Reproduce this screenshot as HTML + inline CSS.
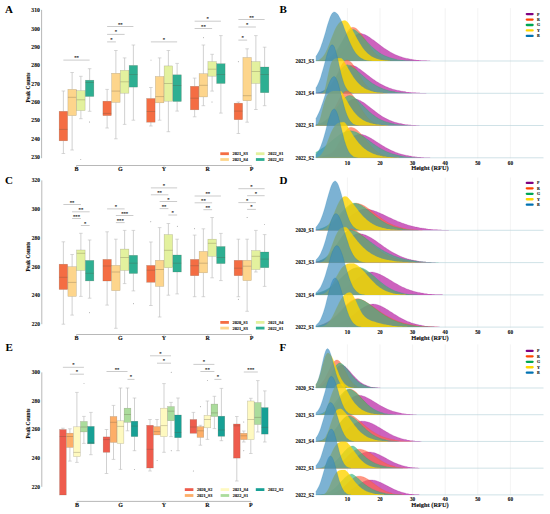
<!DOCTYPE html><html><head><meta charset="utf-8"><style>html,body{margin:0;padding:0;background:#fff;}svg{display:block;}</style></head><body>
<svg width="550" height="514" viewBox="0 0 550 514" font-family='"Liberation Serif", serif'>
<rect width="550" height="514" fill="#fff"/>
<line x1="347.40" y1="8.20" x2="347.40" y2="158.30" stroke="#ebebeb" stroke-width="0.6"/>
<line x1="380.00" y1="8.20" x2="380.00" y2="158.30" stroke="#ebebeb" stroke-width="0.6"/>
<line x1="412.60" y1="8.20" x2="412.60" y2="158.30" stroke="#ebebeb" stroke-width="0.6"/>
<line x1="445.20" y1="8.20" x2="445.20" y2="158.30" stroke="#ebebeb" stroke-width="0.6"/>
<line x1="477.80" y1="8.20" x2="477.80" y2="158.30" stroke="#ebebeb" stroke-width="0.6"/>
<line x1="510.40" y1="8.20" x2="510.40" y2="158.30" stroke="#ebebeb" stroke-width="0.6"/>
<text x="314.00" y="62.80" font-size="5.2" text-anchor="end" font-weight="bold" fill="#111" stroke="#111" stroke-width="0.12" >2021_S3</text>
<line x1="315.78" y1="61.00" x2="543.50" y2="61.00" stroke="#bcd6dd" stroke-width="0.7"/>
<path d="M315.8,61.0L315.8,60.9 316.8,60.9 317.7,60.9 318.7,60.8 319.7,60.8 320.7,60.7 321.6,60.7 322.6,60.6 323.6,60.5 324.6,60.4 325.6,60.2 326.5,60.1 327.5,59.9 328.5,59.6 329.5,59.4 330.4,59.0 331.4,58.7 332.4,58.3 333.4,57.8 334.4,57.3 335.3,56.7 336.3,56.0 337.3,55.3 338.3,54.5 339.2,53.7 340.2,52.7 341.2,51.7 342.2,50.7 343.2,49.6 344.1,48.4 345.1,47.2 346.1,46.0 347.1,44.7 348.1,43.5 349.0,42.2 350.0,41.0 351.0,39.9 352.0,38.7 352.9,37.7 353.9,36.7 354.9,35.9 355.9,35.1 356.9,34.5 357.8,34.0 358.8,33.7 359.8,33.5 360.8,33.5 361.7,33.6 362.7,33.9 363.7,34.2 364.7,34.6 365.7,35.0 366.6,35.5 367.6,36.1 368.6,36.7 369.6,37.3 370.5,38.0 371.5,38.7 372.5,39.4 373.5,40.1 374.5,40.8 375.4,41.6 376.4,42.3 377.4,43.1 378.4,43.8 379.3,44.6 380.3,45.3 381.3,46.0 382.3,46.8 383.3,47.5 384.2,48.2 385.2,48.8 386.2,49.5 387.2,50.1 388.2,50.7 389.1,51.3 390.1,51.9 391.1,52.5 392.1,53.0 393.0,53.5 394.0,54.0 395.0,54.5 396.0,54.9 397.0,55.3 397.9,55.7 398.9,56.1 399.9,56.4 400.9,56.8 401.8,57.1 402.8,57.4 403.8,57.7 404.8,57.9 405.8,58.2 406.7,58.4 407.7,58.6 408.7,58.8 409.7,59.0 410.6,59.2 411.6,59.3 412.6,59.5 413.6,59.6 414.6,59.7 415.5,59.8 416.5,60.0 417.5,60.1 418.5,60.1 419.4,60.2 420.4,60.3 421.4,60.4 422.4,60.4 423.4,60.5 424.3,60.5 425.3,60.6 426.3,60.6 427.3,60.7 428.2,60.7 429.2,60.7 430.2,60.8 430.2,61.0Z" fill="#B4159E" fill-opacity="0.67"/>
<path d="M329.5,59.4 330.4,59.0 331.4,58.7 332.4,58.3 333.4,57.8 334.4,57.3 335.3,56.7 336.3,56.0 337.3,55.3 338.3,54.5 339.2,53.7 340.2,52.7 341.2,51.7 342.2,50.7 343.2,49.6 344.1,48.4 345.1,47.2 346.1,46.0 347.1,44.7 348.1,43.5 349.0,42.2 350.0,41.0 351.0,39.9 352.0,38.7 352.9,37.7 353.9,36.7 354.9,35.9 355.9,35.1 356.9,34.5 357.8,34.0 358.8,33.7 359.8,33.5 360.8,33.5 361.7,33.6 362.7,33.9 363.7,34.2 364.7,34.6 365.7,35.0 366.6,35.5 367.6,36.1 368.6,36.7 369.6,37.3 370.5,38.0 371.5,38.7 372.5,39.4 373.5,40.1 374.5,40.8 375.4,41.6 376.4,42.3 377.4,43.1 378.4,43.8 379.3,44.6 380.3,45.3 381.3,46.0 382.3,46.8 383.3,47.5 384.2,48.2 385.2,48.8 386.2,49.5 387.2,50.1 388.2,50.7 389.1,51.3 390.1,51.9 391.1,52.5 392.1,53.0 393.0,53.5 394.0,54.0 395.0,54.5 396.0,54.9 397.0,55.3 397.9,55.7 398.9,56.1 399.9,56.4 400.9,56.8 401.8,57.1 402.8,57.4 403.8,57.7 404.8,57.9 405.8,58.2 406.7,58.4 407.7,58.6 408.7,58.8 409.7,59.0 410.6,59.2 411.6,59.3 412.6,59.5" fill="none" stroke="#800080" stroke-width="0.3" stroke-opacity="0.55"/>
<path d="M315.8,61.0L315.8,61.0 316.8,61.0 317.7,60.9 318.7,60.9 319.7,60.9 320.7,60.8 321.6,60.8 322.6,60.7 323.6,60.6 324.6,60.4 325.6,60.3 326.5,60.0 327.5,59.7 328.5,59.4 329.5,59.0 330.4,58.4 331.4,57.8 332.4,57.0 333.4,56.1 334.4,55.1 335.3,53.9 336.3,52.6 337.3,51.1 338.3,49.5 339.2,47.8 340.2,45.9 341.2,43.9 342.2,41.9 343.2,39.9 344.1,37.9 345.1,35.9 346.1,34.0 347.1,32.3 348.1,30.8 349.0,29.5 350.0,28.5 351.0,27.8 352.0,27.4 352.9,27.3 353.9,27.5 354.9,27.8 355.9,28.3 356.9,29.0 357.8,29.9 358.8,30.9 359.8,32.0 360.8,33.3 361.7,34.6 362.7,36.0 363.7,37.5 364.7,39.0 365.7,40.6 366.6,42.1 367.6,43.6 368.6,45.1 369.6,46.5 370.5,47.9 371.5,49.2 372.5,50.5 373.5,51.6 374.5,52.7 375.4,53.7 376.4,54.6 377.4,55.5 378.4,56.2 379.3,56.9 380.3,57.5 381.3,58.0 382.3,58.5 383.3,58.9 384.2,59.2 385.2,59.5 386.2,59.8 387.2,60.0 388.2,60.2 389.1,60.3 390.1,60.5 391.1,60.6 392.1,60.7 393.0,60.7 394.0,60.8 394.0,61.0Z" fill="#FF6347" fill-opacity="0.67"/>
<path d="M328.5,59.4 329.5,59.0 330.4,58.4 331.4,57.8 332.4,57.0 333.4,56.1 334.4,55.1 335.3,53.9 336.3,52.6 337.3,51.1 338.3,49.5 339.2,47.8 340.2,45.9 341.2,43.9 342.2,41.9 343.2,39.9 344.1,37.9 345.1,35.9 346.1,34.0 347.1,32.3 348.1,30.8 349.0,29.5 350.0,28.5 351.0,27.8 352.0,27.4 352.9,27.3 353.9,27.5 354.9,27.8 355.9,28.3 356.9,29.0 357.8,29.9 358.8,30.9 359.8,32.0 360.8,33.3 361.7,34.6 362.7,36.0 363.7,37.5 364.7,39.0 365.7,40.6 366.6,42.1 367.6,43.6 368.6,45.1 369.6,46.5 370.5,47.9 371.5,49.2 372.5,50.5 373.5,51.6 374.5,52.7 375.4,53.7 376.4,54.6 377.4,55.5 378.4,56.2 379.3,56.9 380.3,57.5 381.3,58.0 382.3,58.5 383.3,58.9 384.2,59.2" fill="none" stroke="#FF4500" stroke-width="0.3" stroke-opacity="0.55"/>
<path d="M315.8,61.0L315.8,60.9 316.8,60.8 317.7,60.8 318.7,60.7 319.7,60.6 320.7,60.5 321.6,60.3 322.6,60.1 323.6,59.9 324.6,59.7 325.6,59.3 326.5,59.0 327.5,58.5 328.5,58.0 329.5,57.4 330.4,56.7 331.4,56.0 332.4,55.1 333.4,54.1 334.4,53.0 335.3,51.8 336.3,50.6 337.3,49.2 338.3,47.7 339.2,46.2 340.2,44.6 341.2,43.0 342.2,41.3 343.2,39.7 344.1,38.1 345.1,36.6 346.1,35.1 347.1,33.8 348.1,32.6 349.0,31.6 350.0,30.8 351.0,30.1 352.0,29.7 352.9,29.5 353.9,29.6 354.9,30.1 355.9,30.7 356.9,31.4 357.8,32.2 358.8,33.1 359.8,34.0 360.8,35.0 361.7,36.1 362.7,37.1 363.7,38.2 364.7,39.2 365.7,40.3 366.6,41.4 367.6,42.4 368.6,43.4 369.6,44.4 370.5,45.4 371.5,46.4 372.5,47.3 373.5,48.2 374.5,49.0 375.4,49.8 376.4,50.6 377.4,51.3 378.4,52.0 379.3,52.7 380.3,53.3 381.3,53.9 382.3,54.5 383.3,55.0 384.2,55.5 385.2,55.9 386.2,56.3 387.2,56.7 388.2,57.1 389.1,57.5 390.1,57.8 391.1,58.1 392.1,58.3 393.0,58.6 394.0,58.8 395.0,59.0 396.0,59.2 397.0,59.4 397.9,59.5 398.9,59.7 399.9,59.8 400.9,59.9 401.8,60.0 402.8,60.1 403.8,60.2 404.8,60.3 405.8,60.4 406.7,60.5 407.7,60.5 408.7,60.6 409.7,60.6 410.6,60.7 411.6,60.7 412.6,60.7 413.6,60.8 413.6,61.0Z" fill="#37B482" fill-opacity="0.67"/>
<path d="M325.6,59.3 326.5,59.0 327.5,58.5 328.5,58.0 329.5,57.4 330.4,56.7 331.4,56.0 332.4,55.1 333.4,54.1 334.4,53.0 335.3,51.8 336.3,50.6 337.3,49.2 338.3,47.7 339.2,46.2 340.2,44.6 341.2,43.0 342.2,41.3 343.2,39.7 344.1,38.1 345.1,36.6 346.1,35.1 347.1,33.8 348.1,32.6 349.0,31.6 350.0,30.8 351.0,30.1 352.0,29.7 352.9,29.5 353.9,29.6 354.9,30.1 355.9,30.7 356.9,31.4 357.8,32.2 358.8,33.1 359.8,34.0 360.8,35.0 361.7,36.1 362.7,37.1 363.7,38.2 364.7,39.2 365.7,40.3 366.6,41.4 367.6,42.4 368.6,43.4 369.6,44.4 370.5,45.4 371.5,46.4 372.5,47.3 373.5,48.2 374.5,49.0 375.4,49.8 376.4,50.6 377.4,51.3 378.4,52.0 379.3,52.7 380.3,53.3 381.3,53.9 382.3,54.5 383.3,55.0 384.2,55.5 385.2,55.9 386.2,56.3 387.2,56.7 388.2,57.1 389.1,57.5 390.1,57.8 391.1,58.1 392.1,58.3 393.0,58.6 394.0,58.8 395.0,59.0 396.0,59.2 397.0,59.4" fill="none" stroke="#00A651" stroke-width="0.3" stroke-opacity="0.55"/>
<path d="M315.8,61.0L315.8,60.7 316.8,60.5 317.7,60.2 318.7,59.9 319.7,59.4 320.7,58.7 321.6,57.9 322.6,56.9 323.6,55.7 324.6,54.2 325.6,52.5 326.5,50.5 327.5,48.4 328.5,46.1 329.5,43.6 330.4,41.0 331.4,38.5 332.4,35.9 333.4,33.4 334.4,31.1 335.3,29.0 336.3,27.1 337.3,25.4 338.3,24.0 339.2,22.9 340.2,22.0 341.2,21.4 342.2,21.0 343.2,20.7 344.1,20.6 345.1,20.6 346.1,20.9 347.1,21.7 348.1,22.8 349.0,24.1 350.0,25.7 351.0,27.4 352.0,29.1 352.9,31.0 353.9,32.8 354.9,34.7 355.9,36.6 356.9,38.4 357.8,40.1 358.8,41.8 359.8,43.5 360.8,45.0 361.7,46.5 362.7,47.9 363.7,49.2 364.7,50.4 365.7,51.5 366.6,52.5 367.6,53.4 368.6,54.3 369.6,55.1 370.5,55.8 371.5,56.4 372.5,57.0 373.5,57.5 374.5,57.9 375.4,58.3 376.4,58.7 377.4,59.0 378.4,59.3 379.3,59.5 380.3,59.7 381.3,59.9 382.3,60.1 383.3,60.2 384.2,60.3 385.2,60.4 386.2,60.5 387.2,60.6 388.2,60.7 389.1,60.7 390.1,60.8 390.1,61.0Z" fill="#FFD400" fill-opacity="0.8"/>
<path d="M319.7,59.4 320.7,58.7 321.6,57.9 322.6,56.9 323.6,55.7 324.6,54.2 325.6,52.5 326.5,50.5 327.5,48.4 328.5,46.1 329.5,43.6 330.4,41.0 331.4,38.5 332.4,35.9 333.4,33.4 334.4,31.1 335.3,29.0 336.3,27.1 337.3,25.4 338.3,24.0 339.2,22.9 340.2,22.0 341.2,21.4 342.2,21.0 343.2,20.7 344.1,20.6 345.1,20.6 346.1,20.9 347.1,21.7 348.1,22.8 349.0,24.1 350.0,25.7 351.0,27.4 352.0,29.1 352.9,31.0 353.9,32.8 354.9,34.7 355.9,36.6 356.9,38.4 357.8,40.1 358.8,41.8 359.8,43.5 360.8,45.0 361.7,46.5 362.7,47.9 363.7,49.2 364.7,50.4 365.7,51.5 366.6,52.5 367.6,53.4 368.6,54.3 369.6,55.1 370.5,55.8 371.5,56.4 372.5,57.0 373.5,57.5 374.5,57.9 375.4,58.3 376.4,58.7 377.4,59.0 378.4,59.3" fill="none" stroke="#FFD700" stroke-width="0.3" stroke-opacity="0.55"/>
<path d="M315.8,61.0L315.8,56.4 316.8,55.1 317.7,53.6 318.7,51.8 319.7,49.7 320.7,47.3 321.6,44.6 322.6,41.7 323.6,38.6 324.6,35.3 325.6,31.9 326.5,28.4 327.5,25.1 328.5,21.9 329.5,19.1 330.4,16.6 331.4,14.5 332.4,13.1 333.4,12.2 334.4,12.0 335.3,12.3 336.3,12.9 337.3,13.8 338.3,15.1 339.2,16.7 340.2,18.6 341.2,20.6 342.2,22.9 343.2,25.3 344.1,27.9 345.1,30.4 346.1,33.0 347.1,35.6 348.1,38.1 349.0,40.5 350.0,42.8 351.0,44.9 352.0,46.9 352.9,48.8 353.9,50.5 354.9,52.0 355.9,53.4 356.9,54.6 357.8,55.6 358.8,56.5 359.8,57.3 360.8,58.0 361.7,58.6 362.7,59.0 363.7,59.4 364.7,59.8 365.7,60.0 366.6,60.2 367.6,60.4 368.6,60.5 369.6,60.7 370.5,60.7 371.5,60.8 371.5,61.0Z" fill="#3C8CBE" fill-opacity="0.67"/>
<path d="M315.8,56.4 316.8,55.1 317.7,53.6 318.7,51.8 319.7,49.7 320.7,47.3 321.6,44.6 322.6,41.7 323.6,38.6 324.6,35.3 325.6,31.9 326.5,28.4 327.5,25.1 328.5,21.9 329.5,19.1 330.4,16.6 331.4,14.5 332.4,13.1 333.4,12.2 334.4,12.0 335.3,12.3 336.3,12.9 337.3,13.8 338.3,15.1 339.2,16.7 340.2,18.6 341.2,20.6 342.2,22.9 343.2,25.3 344.1,27.9 345.1,30.4 346.1,33.0 347.1,35.6 348.1,38.1 349.0,40.5 350.0,42.8 351.0,44.9 352.0,46.9 352.9,48.8 353.9,50.5 354.9,52.0 355.9,53.4 356.9,54.6 357.8,55.6 358.8,56.5 359.8,57.3 360.8,58.0 361.7,58.6 362.7,59.0 363.7,59.4" fill="none" stroke="#0072B2" stroke-width="0.3" stroke-opacity="0.55"/>
<text x="314.00" y="95.10" font-size="5.2" text-anchor="end" font-weight="bold" fill="#111" stroke="#111" stroke-width="0.12" >2021_S4</text>
<line x1="315.78" y1="93.30" x2="543.50" y2="93.30" stroke="#bcd6dd" stroke-width="0.7"/>
<path d="M315.8,93.3L315.8,92.7 316.8,92.6 317.7,92.5 318.7,92.3 319.7,92.1 320.7,91.8 321.6,91.5 322.6,91.2 323.6,90.8 324.6,90.4 325.6,89.9 326.5,89.3 327.5,88.7 328.5,88.0 329.5,87.2 330.4,86.4 331.4,85.5 332.4,84.5 333.4,83.5 334.4,82.4 335.3,81.3 336.3,80.1 337.3,78.8 338.3,77.6 339.2,76.3 340.2,75.0 341.2,73.8 342.2,72.6 343.2,71.4 344.1,70.3 345.1,69.2 346.1,68.3 347.1,67.5 348.1,66.7 349.0,66.2 350.0,65.7 351.0,65.4 352.0,65.3 352.9,65.4 353.9,65.7 354.9,66.1 355.9,66.6 356.9,67.1 357.8,67.7 358.8,68.4 359.8,69.0 360.8,69.8 361.7,70.5 362.7,71.2 363.7,72.0 364.7,72.8 365.7,73.5 366.6,74.3 367.6,75.1 368.6,75.8 369.6,76.6 370.5,77.3 371.5,78.0 372.5,78.7 373.5,79.4 374.5,80.1 375.4,80.8 376.4,81.4 377.4,82.0 378.4,82.6 379.3,83.2 380.3,83.8 381.3,84.3 382.3,84.8 383.3,85.3 384.2,85.8 385.2,86.3 386.2,86.7 387.2,87.1 388.2,87.5 389.1,87.9 390.1,88.2 391.1,88.6 392.1,88.9 393.0,89.2 394.0,89.4 395.0,89.7 396.0,90.0 397.0,90.2 397.9,90.4 398.9,90.6 399.9,90.8 400.9,91.0 401.8,91.2 402.8,91.3 403.8,91.5 404.8,91.6 405.8,91.8 406.7,91.9 407.7,92.0 408.7,92.1 409.7,92.2 410.6,92.3 411.6,92.4 412.6,92.4 413.6,92.5 414.6,92.6 415.5,92.6 416.5,92.7 417.5,92.7 418.5,92.8 419.4,92.8 420.4,92.9 421.4,92.9 422.4,93.0 423.4,93.0 424.3,93.0 425.3,93.0 426.3,93.1 426.3,93.3Z" fill="#B4159E" fill-opacity="0.67"/>
<path d="M321.6,91.5 322.6,91.2 323.6,90.8 324.6,90.4 325.6,89.9 326.5,89.3 327.5,88.7 328.5,88.0 329.5,87.2 330.4,86.4 331.4,85.5 332.4,84.5 333.4,83.5 334.4,82.4 335.3,81.3 336.3,80.1 337.3,78.8 338.3,77.6 339.2,76.3 340.2,75.0 341.2,73.8 342.2,72.6 343.2,71.4 344.1,70.3 345.1,69.2 346.1,68.3 347.1,67.5 348.1,66.7 349.0,66.2 350.0,65.7 351.0,65.4 352.0,65.3 352.9,65.4 353.9,65.7 354.9,66.1 355.9,66.6 356.9,67.1 357.8,67.7 358.8,68.4 359.8,69.0 360.8,69.8 361.7,70.5 362.7,71.2 363.7,72.0 364.7,72.8 365.7,73.5 366.6,74.3 367.6,75.1 368.6,75.8 369.6,76.6 370.5,77.3 371.5,78.0 372.5,78.7 373.5,79.4 374.5,80.1 375.4,80.8 376.4,81.4 377.4,82.0 378.4,82.6 379.3,83.2 380.3,83.8 381.3,84.3 382.3,84.8 383.3,85.3 384.2,85.8 385.2,86.3 386.2,86.7 387.2,87.1 388.2,87.5 389.1,87.9 390.1,88.2 391.1,88.6 392.1,88.9 393.0,89.2 394.0,89.4 395.0,89.7 396.0,90.0 397.0,90.2 397.9,90.4 398.9,90.6 399.9,90.8 400.9,91.0 401.8,91.2 402.8,91.3 403.8,91.5 404.8,91.6 405.8,91.8" fill="none" stroke="#800080" stroke-width="0.3" stroke-opacity="0.55"/>
<path d="M315.8,93.3L315.8,93.2 316.8,93.2 317.7,93.1 318.7,93.0 319.7,92.9 320.7,92.8 321.6,92.6 322.6,92.3 323.6,92.0 324.6,91.6 325.6,91.1 326.5,90.5 327.5,89.7 328.5,88.9 329.5,87.8 330.4,86.6 331.4,85.3 332.4,83.7 333.4,82.1 334.4,80.2 335.3,78.2 336.3,76.2 337.3,74.0 338.3,71.9 339.2,69.7 340.2,67.7 341.2,65.8 342.2,64.1 343.2,62.7 344.1,61.5 345.1,60.7 346.1,60.2 347.1,60.1 348.1,60.3 349.0,60.7 350.0,61.4 351.0,62.2 352.0,63.3 352.9,64.6 353.9,66.0 354.9,67.5 355.9,69.1 356.9,70.8 357.8,72.5 358.8,74.2 359.8,75.9 360.8,77.6 361.7,79.2 362.7,80.7 363.7,82.2 364.7,83.6 365.7,84.8 366.6,86.0 367.6,87.0 368.6,87.9 369.6,88.8 370.5,89.5 371.5,90.1 372.5,90.7 373.5,91.1 374.5,91.5 375.4,91.9 376.4,92.2 377.4,92.4 378.4,92.6 379.3,92.7 380.3,92.9 381.3,93.0 382.3,93.0 383.3,93.1 383.3,93.3Z" fill="#FF6347" fill-opacity="0.67"/>
<path d="M324.6,91.6 325.6,91.1 326.5,90.5 327.5,89.7 328.5,88.9 329.5,87.8 330.4,86.6 331.4,85.3 332.4,83.7 333.4,82.1 334.4,80.2 335.3,78.2 336.3,76.2 337.3,74.0 338.3,71.9 339.2,69.7 340.2,67.7 341.2,65.8 342.2,64.1 343.2,62.7 344.1,61.5 345.1,60.7 346.1,60.2 347.1,60.1 348.1,60.3 349.0,60.7 350.0,61.4 351.0,62.2 352.0,63.3 352.9,64.6 353.9,66.0 354.9,67.5 355.9,69.1 356.9,70.8 357.8,72.5 358.8,74.2 359.8,75.9 360.8,77.6 361.7,79.2 362.7,80.7 363.7,82.2 364.7,83.6 365.7,84.8 366.6,86.0 367.6,87.0 368.6,87.9 369.6,88.8 370.5,89.5 371.5,90.1 372.5,90.7 373.5,91.1 374.5,91.5" fill="none" stroke="#FF4500" stroke-width="0.3" stroke-opacity="0.55"/>
<path d="M315.8,93.3L315.8,92.9 316.8,92.8 317.7,92.7 318.7,92.5 319.7,92.3 320.7,92.0 321.6,91.7 322.6,91.3 323.6,90.8 324.6,90.3 325.6,89.7 326.5,89.0 327.5,88.1 328.5,87.2 329.5,86.2 330.4,85.1 331.4,83.8 332.4,82.5 333.4,81.1 334.4,79.6 335.3,78.1 336.3,76.5 337.3,75.0 338.3,73.4 339.2,71.9 340.2,70.5 341.2,69.2 342.2,68.0 343.2,66.9 344.1,66.1 345.1,65.4 346.1,65.0 347.1,64.8 348.1,64.9 349.0,65.2 350.0,65.6 351.0,66.1 352.0,66.7 352.9,67.4 353.9,68.1 354.9,68.8 355.9,69.6 356.9,70.5 357.8,71.3 358.8,72.2 359.8,73.0 360.8,73.9 361.7,74.8 362.7,75.6 363.7,76.5 364.7,77.3 365.7,78.2 366.6,79.0 367.6,79.8 368.6,80.5 369.6,81.3 370.5,82.0 371.5,82.7 372.5,83.4 373.5,84.0 374.5,84.6 375.4,85.2 376.4,85.8 377.4,86.3 378.4,86.8 379.3,87.3 380.3,87.7 381.3,88.1 382.3,88.5 383.3,88.9 384.2,89.2 385.2,89.6 386.2,89.9 387.2,90.1 388.2,90.4 389.1,90.7 390.1,90.9 391.1,91.1 392.1,91.3 393.0,91.5 394.0,91.6 395.0,91.8 396.0,91.9 397.0,92.1 397.9,92.2 398.9,92.3 399.9,92.4 400.9,92.5 401.8,92.6 402.8,92.6 403.8,92.7 404.8,92.8 405.8,92.8 406.7,92.9 407.7,92.9 408.7,92.9 409.7,93.0 410.6,93.0 411.6,93.1 411.6,93.3Z" fill="#37B482" fill-opacity="0.67"/>
<path d="M321.6,91.7 322.6,91.3 323.6,90.8 324.6,90.3 325.6,89.7 326.5,89.0 327.5,88.1 328.5,87.2 329.5,86.2 330.4,85.1 331.4,83.8 332.4,82.5 333.4,81.1 334.4,79.6 335.3,78.1 336.3,76.5 337.3,75.0 338.3,73.4 339.2,71.9 340.2,70.5 341.2,69.2 342.2,68.0 343.2,66.9 344.1,66.1 345.1,65.4 346.1,65.0 347.1,64.8 348.1,64.9 349.0,65.2 350.0,65.6 351.0,66.1 352.0,66.7 352.9,67.4 353.9,68.1 354.9,68.8 355.9,69.6 356.9,70.5 357.8,71.3 358.8,72.2 359.8,73.0 360.8,73.9 361.7,74.8 362.7,75.6 363.7,76.5 364.7,77.3 365.7,78.2 366.6,79.0 367.6,79.8 368.6,80.5 369.6,81.3 370.5,82.0 371.5,82.7 372.5,83.4 373.5,84.0 374.5,84.6 375.4,85.2 376.4,85.8 377.4,86.3 378.4,86.8 379.3,87.3 380.3,87.7 381.3,88.1 382.3,88.5 383.3,88.9 384.2,89.2 385.2,89.6 386.2,89.9 387.2,90.1 388.2,90.4 389.1,90.7 390.1,90.9 391.1,91.1 392.1,91.3 393.0,91.5 394.0,91.6 395.0,91.8" fill="none" stroke="#00A651" stroke-width="0.3" stroke-opacity="0.55"/>
<path d="M315.8,93.3L315.8,93.3 316.8,93.3 317.7,93.3 318.7,93.3 319.7,93.3 320.7,93.3 321.6,93.2 322.6,92.8 323.6,91.8 324.6,89.9 325.6,86.8 326.5,82.6 327.5,77.8 328.5,73.0 329.5,68.7 330.4,65.2 331.4,62.6 332.4,60.8 333.4,59.7 334.4,59.0 335.3,58.6 336.3,58.4 337.3,58.3 338.3,58.3 339.2,58.3 340.2,58.3 341.2,58.3 342.2,58.9 343.2,60.1 344.1,61.6 345.1,63.2 346.1,64.9 347.1,66.6 348.1,68.4 349.0,70.1 350.0,71.8 351.0,73.4 352.0,75.0 352.9,76.5 353.9,77.9 354.9,79.3 355.9,80.5 356.9,81.7 357.8,82.8 358.8,83.8 359.8,84.8 360.8,85.6 361.7,86.4 362.7,87.1 363.7,87.8 364.7,88.4 365.7,88.9 366.6,89.4 367.6,89.8 368.6,90.2 369.6,90.6 370.5,90.9 371.5,91.2 372.5,91.5 373.5,91.7 374.5,91.9 375.4,92.1 376.4,92.2 377.4,92.4 378.4,92.5 379.3,92.6 380.3,92.7 381.3,92.8 382.3,92.8 383.3,92.9 384.2,93.0 385.2,93.0 386.2,93.0 387.2,93.1 387.2,93.3Z" fill="#FFD400" fill-opacity="0.8"/>
<path d="M324.6,89.9 325.6,86.8 326.5,82.6 327.5,77.8 328.5,73.0 329.5,68.7 330.4,65.2 331.4,62.6 332.4,60.8 333.4,59.7 334.4,59.0 335.3,58.6 336.3,58.4 337.3,58.3 338.3,58.3 339.2,58.3 340.2,58.3 341.2,58.3 342.2,58.9 343.2,60.1 344.1,61.6 345.1,63.2 346.1,64.9 347.1,66.6 348.1,68.4 349.0,70.1 350.0,71.8 351.0,73.4 352.0,75.0 352.9,76.5 353.9,77.9 354.9,79.3 355.9,80.5 356.9,81.7 357.8,82.8 358.8,83.8 359.8,84.8 360.8,85.6 361.7,86.4 362.7,87.1 363.7,87.8 364.7,88.4 365.7,88.9 366.6,89.4 367.6,89.8 368.6,90.2 369.6,90.6 370.5,90.9 371.5,91.2 372.5,91.5 373.5,91.7" fill="none" stroke="#FFD700" stroke-width="0.3" stroke-opacity="0.55"/>
<path d="M315.8,93.3L315.8,88.1 316.8,86.6 317.7,84.7 318.7,82.6 319.7,80.1 320.7,77.3 321.6,74.1 322.6,70.7 323.6,67.2 324.6,63.5 325.6,59.9 326.5,56.3 327.5,53.1 328.5,50.2 329.5,47.9 330.4,46.1 331.4,45.1 332.4,44.8 333.4,45.5 334.4,47.1 335.3,49.8 336.3,53.2 337.3,57.1 338.3,61.4 339.2,65.8 340.2,70.1 341.2,74.2 342.2,77.9 343.2,81.2 344.1,84.0 345.1,86.3 346.1,88.1 347.1,89.6 348.1,90.7 349.0,91.5 350.0,92.1 351.0,92.5 352.0,92.8 352.9,93.0 353.9,93.1 353.9,93.3Z" fill="#3C8CBE" fill-opacity="0.67"/>
<path d="M315.8,88.1 316.8,86.6 317.7,84.7 318.7,82.6 319.7,80.1 320.7,77.3 321.6,74.1 322.6,70.7 323.6,67.2 324.6,63.5 325.6,59.9 326.5,56.3 327.5,53.1 328.5,50.2 329.5,47.9 330.4,46.1 331.4,45.1 332.4,44.8 333.4,45.5 334.4,47.1 335.3,49.8 336.3,53.2 337.3,57.1 338.3,61.4 339.2,65.8 340.2,70.1 341.2,74.2 342.2,77.9 343.2,81.2 344.1,84.0 345.1,86.3 346.1,88.1 347.1,89.6 348.1,90.7 349.0,91.5" fill="none" stroke="#0072B2" stroke-width="0.3" stroke-opacity="0.55"/>
<text x="314.00" y="127.30" font-size="5.2" text-anchor="end" font-weight="bold" fill="#111" stroke="#111" stroke-width="0.12" >2022_S1</text>
<line x1="315.78" y1="125.50" x2="543.50" y2="125.50" stroke="#bcd6dd" stroke-width="0.7"/>
<path d="M315.8,125.5L315.8,124.7 316.8,124.6 317.7,124.4 318.7,124.2 319.7,124.0 320.7,123.8 321.6,123.5 322.6,123.1 323.6,122.8 324.6,122.4 325.6,121.9 326.5,121.4 327.5,120.9 328.5,120.3 329.5,119.6 330.4,118.9 331.4,118.1 332.4,117.3 333.4,116.5 334.4,115.6 335.3,114.6 336.3,113.6 337.3,112.6 338.3,111.6 339.2,110.5 340.2,109.4 341.2,108.4 342.2,107.3 343.2,106.3 344.1,105.2 345.1,104.3 346.1,103.4 347.1,102.5 348.1,101.7 349.0,101.0 350.0,100.4 351.0,99.9 352.0,99.5 352.9,99.2 353.9,99.1 354.9,99.0 355.9,99.1 356.9,99.3 357.8,99.6 358.8,99.9 359.8,100.4 360.8,100.8 361.7,101.4 362.7,102.0 363.7,102.6 364.7,103.3 365.7,104.0 366.6,104.7 367.6,105.4 368.6,106.2 369.6,107.0 370.5,107.7 371.5,108.5 372.5,109.3 373.5,110.1 374.5,110.8 375.4,111.6 376.4,112.3 377.4,113.1 378.4,113.8 379.3,114.4 380.3,115.1 381.3,115.8 382.3,116.4 383.3,117.0 384.2,117.5 385.2,118.1 386.2,118.6 387.2,119.1 388.2,119.6 389.1,120.0 390.1,120.4 391.1,120.8 392.1,121.2 393.0,121.6 394.0,121.9 395.0,122.2 396.0,122.5 397.0,122.7 397.9,123.0 398.9,123.2 399.9,123.4 400.9,123.6 401.8,123.8 402.8,123.9 403.8,124.1 404.8,124.2 405.8,124.4 406.7,124.5 407.7,124.6 408.7,124.7 409.7,124.8 410.6,124.8 411.6,124.9 412.6,125.0 413.6,125.0 414.6,125.1 415.5,125.1 416.5,125.2 417.5,125.2 418.5,125.2 419.4,125.3 419.4,125.5Z" fill="#B4159E" fill-opacity="0.67"/>
<path d="M320.7,123.8 321.6,123.5 322.6,123.1 323.6,122.8 324.6,122.4 325.6,121.9 326.5,121.4 327.5,120.9 328.5,120.3 329.5,119.6 330.4,118.9 331.4,118.1 332.4,117.3 333.4,116.5 334.4,115.6 335.3,114.6 336.3,113.6 337.3,112.6 338.3,111.6 339.2,110.5 340.2,109.4 341.2,108.4 342.2,107.3 343.2,106.3 344.1,105.2 345.1,104.3 346.1,103.4 347.1,102.5 348.1,101.7 349.0,101.0 350.0,100.4 351.0,99.9 352.0,99.5 352.9,99.2 353.9,99.1 354.9,99.0 355.9,99.1 356.9,99.3 357.8,99.6 358.8,99.9 359.8,100.4 360.8,100.8 361.7,101.4 362.7,102.0 363.7,102.6 364.7,103.3 365.7,104.0 366.6,104.7 367.6,105.4 368.6,106.2 369.6,107.0 370.5,107.7 371.5,108.5 372.5,109.3 373.5,110.1 374.5,110.8 375.4,111.6 376.4,112.3 377.4,113.1 378.4,113.8 379.3,114.4 380.3,115.1 381.3,115.8 382.3,116.4 383.3,117.0 384.2,117.5 385.2,118.1 386.2,118.6 387.2,119.1 388.2,119.6 389.1,120.0 390.1,120.4 391.1,120.8 392.1,121.2 393.0,121.6 394.0,121.9 395.0,122.2 396.0,122.5 397.0,122.7 397.9,123.0 398.9,123.2 399.9,123.4 400.9,123.6 401.8,123.8 402.8,123.9" fill="none" stroke="#800080" stroke-width="0.3" stroke-opacity="0.55"/>
<path d="M315.8,125.5L315.8,125.1 316.8,125.0 317.7,124.8 318.7,124.6 319.7,124.3 320.7,124.0 321.6,123.6 322.6,123.2 323.6,122.6 324.6,122.0 325.6,121.2 326.5,120.3 327.5,119.3 328.5,118.2 329.5,116.9 330.4,115.5 331.4,113.9 332.4,112.3 333.4,110.5 334.4,108.7 335.3,106.8 336.3,104.8 337.3,102.9 338.3,101.0 339.2,99.1 340.2,97.4 341.2,95.8 342.2,94.4 343.2,93.2 344.1,92.3 345.1,91.6 346.1,91.3 347.1,91.2 348.1,91.4 349.0,91.8 350.0,92.4 351.0,93.2 352.0,94.2 352.9,95.4 353.9,96.7 354.9,98.1 355.9,99.6 356.9,101.2 357.8,102.9 358.8,104.6 359.8,106.3 360.8,107.9 361.7,109.6 362.7,111.1 363.7,112.6 364.7,114.0 365.7,115.4 366.6,116.6 367.6,117.7 368.6,118.8 369.6,119.7 370.5,120.5 371.5,121.3 372.5,121.9 373.5,122.5 374.5,123.0 375.4,123.4 376.4,123.8 377.4,124.1 378.4,124.4 379.3,124.6 380.3,124.8 381.3,124.9 382.3,125.0 383.3,125.1 384.2,125.2 385.2,125.3 385.2,125.5Z" fill="#FF6347" fill-opacity="0.67"/>
<path d="M321.6,123.6 322.6,123.2 323.6,122.6 324.6,122.0 325.6,121.2 326.5,120.3 327.5,119.3 328.5,118.2 329.5,116.9 330.4,115.5 331.4,113.9 332.4,112.3 333.4,110.5 334.4,108.7 335.3,106.8 336.3,104.8 337.3,102.9 338.3,101.0 339.2,99.1 340.2,97.4 341.2,95.8 342.2,94.4 343.2,93.2 344.1,92.3 345.1,91.6 346.1,91.3 347.1,91.2 348.1,91.4 349.0,91.8 350.0,92.4 351.0,93.2 352.0,94.2 352.9,95.4 353.9,96.7 354.9,98.1 355.9,99.6 356.9,101.2 357.8,102.9 358.8,104.6 359.8,106.3 360.8,107.9 361.7,109.6 362.7,111.1 363.7,112.6 364.7,114.0 365.7,115.4 366.6,116.6 367.6,117.7 368.6,118.8 369.6,119.7 370.5,120.5 371.5,121.3 372.5,121.9 373.5,122.5 374.5,123.0 375.4,123.4 376.4,123.8" fill="none" stroke="#FF4500" stroke-width="0.3" stroke-opacity="0.55"/>
<path d="M315.8,125.5L315.8,124.5 316.8,124.3 317.7,124.1 318.7,123.8 319.7,123.5 320.7,123.1 321.6,122.7 322.6,122.2 323.6,121.6 324.6,121.0 325.6,120.3 326.5,119.6 327.5,118.7 328.5,117.8 329.5,116.8 330.4,115.8 331.4,114.6 332.4,113.4 333.4,112.2 334.4,110.9 335.3,109.6 336.3,108.2 337.3,106.8 338.3,105.5 339.2,104.2 340.2,102.9 341.2,101.6 342.2,100.4 343.2,99.4 344.1,98.4 345.1,97.5 346.1,96.8 347.1,96.2 348.1,95.8 349.0,95.6 350.0,95.5 351.0,95.7 352.0,96.1 352.9,96.6 353.9,97.3 354.9,98.0 355.9,98.8 356.9,99.6 357.8,100.5 358.8,101.4 359.8,102.4 360.8,103.4 361.7,104.4 362.7,105.3 363.7,106.3 364.7,107.3 365.7,108.3 366.6,109.2 367.6,110.1 368.6,111.0 369.6,111.9 370.5,112.8 371.5,113.6 372.5,114.4 373.5,115.1 374.5,115.8 375.4,116.5 376.4,117.2 377.4,117.8 378.4,118.4 379.3,118.9 380.3,119.4 381.3,119.9 382.3,120.4 383.3,120.8 384.2,121.2 385.2,121.6 386.2,121.9 387.2,122.2 388.2,122.5 389.1,122.8 390.1,123.0 391.1,123.3 392.1,123.5 393.0,123.7 394.0,123.8 395.0,124.0 396.0,124.2 397.0,124.3 397.9,124.4 398.9,124.5 399.9,124.6 400.9,124.7 401.8,124.8 402.8,124.9 403.8,124.9 404.8,125.0 405.8,125.1 406.7,125.1 407.7,125.2 408.7,125.2 409.7,125.2 410.6,125.3 410.6,125.5Z" fill="#37B482" fill-opacity="0.67"/>
<path d="M318.7,123.8 319.7,123.5 320.7,123.1 321.6,122.7 322.6,122.2 323.6,121.6 324.6,121.0 325.6,120.3 326.5,119.6 327.5,118.7 328.5,117.8 329.5,116.8 330.4,115.8 331.4,114.6 332.4,113.4 333.4,112.2 334.4,110.9 335.3,109.6 336.3,108.2 337.3,106.8 338.3,105.5 339.2,104.2 340.2,102.9 341.2,101.6 342.2,100.4 343.2,99.4 344.1,98.4 345.1,97.5 346.1,96.8 347.1,96.2 348.1,95.8 349.0,95.6 350.0,95.5 351.0,95.7 352.0,96.1 352.9,96.6 353.9,97.3 354.9,98.0 355.9,98.8 356.9,99.6 357.8,100.5 358.8,101.4 359.8,102.4 360.8,103.4 361.7,104.4 362.7,105.3 363.7,106.3 364.7,107.3 365.7,108.3 366.6,109.2 367.6,110.1 368.6,111.0 369.6,111.9 370.5,112.8 371.5,113.6 372.5,114.4 373.5,115.1 374.5,115.8 375.4,116.5 376.4,117.2 377.4,117.8 378.4,118.4 379.3,118.9 380.3,119.4 381.3,119.9 382.3,120.4 383.3,120.8 384.2,121.2 385.2,121.6 386.2,121.9 387.2,122.2 388.2,122.5 389.1,122.8 390.1,123.0 391.1,123.3 392.1,123.5 393.0,123.7 394.0,123.8" fill="none" stroke="#00A651" stroke-width="0.3" stroke-opacity="0.55"/>
<path d="M315.8,125.5L315.8,125.3 316.8,124.8 317.7,123.9 318.7,122.3 319.7,119.9 320.7,116.8 321.6,113.0 322.6,109.1 323.6,105.3 324.6,101.8 325.6,98.9 326.5,96.5 327.5,94.7 328.5,93.4 329.5,92.5 330.4,91.9 331.4,91.5 332.4,91.3 333.4,91.1 334.4,91.1 335.3,91.0 336.3,91.0 337.3,91.0 338.3,91.0 339.2,91.0 340.2,91.0 341.2,91.3 342.2,92.6 343.2,94.2 344.1,95.9 345.1,97.7 346.1,99.5 347.1,101.3 348.1,103.0 349.0,104.7 350.0,106.3 351.0,107.8 352.0,109.3 352.9,110.6 353.9,111.9 354.9,113.1 355.9,114.2 356.9,115.2 357.8,116.2 358.8,117.1 359.8,117.9 360.8,118.6 361.7,119.3 362.7,119.9 363.7,120.5 364.7,121.0 365.7,121.5 366.6,121.9 367.6,122.3 368.6,122.6 369.6,122.9 370.5,123.2 371.5,123.5 372.5,123.7 373.5,123.9 374.5,124.1 375.4,124.2 376.4,124.4 377.4,124.5 378.4,124.6 379.3,124.7 380.3,124.8 381.3,124.9 382.3,125.0 383.3,125.0 384.2,125.1 385.2,125.1 386.2,125.2 387.2,125.2 388.2,125.3 388.2,125.5Z" fill="#FFD400" fill-opacity="0.8"/>
<path d="M317.7,123.9 318.7,122.3 319.7,119.9 320.7,116.8 321.6,113.0 322.6,109.1 323.6,105.3 324.6,101.8 325.6,98.9 326.5,96.5 327.5,94.7 328.5,93.4 329.5,92.5 330.4,91.9 331.4,91.5 332.4,91.3 333.4,91.1 334.4,91.1 335.3,91.0 336.3,91.0 337.3,91.0 338.3,91.0 339.2,91.0 340.2,91.0 341.2,91.3 342.2,92.6 343.2,94.2 344.1,95.9 345.1,97.7 346.1,99.5 347.1,101.3 348.1,103.0 349.0,104.7 350.0,106.3 351.0,107.8 352.0,109.3 352.9,110.6 353.9,111.9 354.9,113.1 355.9,114.2 356.9,115.2 357.8,116.2 358.8,117.1 359.8,117.9 360.8,118.6 361.7,119.3 362.7,119.9 363.7,120.5 364.7,121.0 365.7,121.5 366.6,121.9 367.6,122.3 368.6,122.6 369.6,122.9 370.5,123.2 371.5,123.5 372.5,123.7 373.5,123.9" fill="none" stroke="#FFD700" stroke-width="0.3" stroke-opacity="0.55"/>
<path d="M315.8,125.5L315.8,118.5 316.8,116.9 317.7,115.1 318.7,113.1 319.7,110.8 320.7,108.3 321.6,105.6 322.6,102.7 323.6,99.7 324.6,96.6 325.6,93.5 326.5,90.4 327.5,87.5 328.5,84.7 329.5,82.3 330.4,80.2 331.4,78.6 332.4,77.4 333.4,76.7 334.4,76.6 335.3,77.3 336.3,78.8 337.3,81.0 338.3,83.9 339.2,87.3 340.2,91.0 341.2,94.9 342.2,98.9 343.2,102.7 344.1,106.3 345.1,109.7 346.1,112.7 347.1,115.3 348.1,117.5 349.0,119.3 350.0,120.8 351.0,122.0 352.0,123.0 352.9,123.7 353.9,124.2 354.9,124.6 355.9,124.9 356.9,125.1 357.8,125.2 358.8,125.3 358.8,125.5Z" fill="#3C8CBE" fill-opacity="0.67"/>
<path d="M315.8,118.5 316.8,116.9 317.7,115.1 318.7,113.1 319.7,110.8 320.7,108.3 321.6,105.6 322.6,102.7 323.6,99.7 324.6,96.6 325.6,93.5 326.5,90.4 327.5,87.5 328.5,84.7 329.5,82.3 330.4,80.2 331.4,78.6 332.4,77.4 333.4,76.7 334.4,76.6 335.3,77.3 336.3,78.8 337.3,81.0 338.3,83.9 339.2,87.3 340.2,91.0 341.2,94.9 342.2,98.9 343.2,102.7 344.1,106.3 345.1,109.7 346.1,112.7 347.1,115.3 348.1,117.5 349.0,119.3 350.0,120.8 351.0,122.0 352.0,123.0 352.9,123.7" fill="none" stroke="#0072B2" stroke-width="0.3" stroke-opacity="0.55"/>
<text x="314.00" y="159.60" font-size="5.2" text-anchor="end" font-weight="bold" fill="#111" stroke="#111" stroke-width="0.12" >2022_S2</text>
<line x1="315.78" y1="157.80" x2="543.50" y2="157.80" stroke="#bcd6dd" stroke-width="0.7"/>
<path d="M315.8,157.8L315.8,157.2 316.8,157.2 317.7,157.0 318.7,156.9 319.7,156.8 320.7,156.6 321.6,156.4 322.6,156.2 323.6,156.0 324.6,155.7 325.6,155.4 326.5,155.1 327.5,154.7 328.5,154.4 329.5,153.9 330.4,153.5 331.4,153.0 332.4,152.4 333.4,151.9 334.4,151.3 335.3,150.6 336.3,149.9 337.3,149.2 338.3,148.5 339.2,147.7 340.2,146.9 341.2,146.1 342.2,145.2 343.2,144.4 344.1,143.5 345.1,142.7 346.1,141.8 347.1,141.0 348.1,140.2 349.0,139.4 350.0,138.7 351.0,137.9 352.0,137.3 352.9,136.7 353.9,136.1 354.9,135.6 355.9,135.2 356.9,134.9 357.8,134.6 358.8,134.4 359.8,134.3 360.8,134.3 361.7,134.4 362.7,134.6 363.7,134.9 364.7,135.2 365.7,135.6 366.6,136.0 367.6,136.5 368.6,136.9 369.6,137.5 370.5,138.0 371.5,138.6 372.5,139.2 373.5,139.8 374.5,140.4 375.4,141.0 376.4,141.7 377.4,142.3 378.4,142.9 379.3,143.5 380.3,144.2 381.3,144.8 382.3,145.4 383.3,146.0 384.2,146.6 385.2,147.2 386.2,147.7 387.2,148.3 388.2,148.8 389.1,149.3 390.1,149.8 391.1,150.3 392.1,150.7 393.0,151.1 394.0,151.6 395.0,152.0 396.0,152.4 397.0,152.7 397.9,153.1 398.9,153.4 399.9,153.7 400.9,154.0 401.8,154.3 402.8,154.5 403.8,154.8 404.8,155.0 405.8,155.2 406.7,155.4 407.7,155.6 408.7,155.8 409.7,156.0 410.6,156.1 411.6,156.2 412.6,156.4 413.6,156.5 414.6,156.6 415.5,156.7 416.5,156.8 417.5,156.9 418.5,157.0 419.4,157.1 420.4,157.1 421.4,157.2 422.4,157.3 423.4,157.3 424.3,157.4 425.3,157.4 426.3,157.4 427.3,157.5 428.2,157.5 429.2,157.5 430.2,157.6 430.2,157.8Z" fill="#B4159E" fill-opacity="0.67"/>
<path d="M322.6,156.2 323.6,156.0 324.6,155.7 325.6,155.4 326.5,155.1 327.5,154.7 328.5,154.4 329.5,153.9 330.4,153.5 331.4,153.0 332.4,152.4 333.4,151.9 334.4,151.3 335.3,150.6 336.3,149.9 337.3,149.2 338.3,148.5 339.2,147.7 340.2,146.9 341.2,146.1 342.2,145.2 343.2,144.4 344.1,143.5 345.1,142.7 346.1,141.8 347.1,141.0 348.1,140.2 349.0,139.4 350.0,138.7 351.0,137.9 352.0,137.3 352.9,136.7 353.9,136.1 354.9,135.6 355.9,135.2 356.9,134.9 357.8,134.6 358.8,134.4 359.8,134.3 360.8,134.3 361.7,134.4 362.7,134.6 363.7,134.9 364.7,135.2 365.7,135.6 366.6,136.0 367.6,136.5 368.6,136.9 369.6,137.5 370.5,138.0 371.5,138.6 372.5,139.2 373.5,139.8 374.5,140.4 375.4,141.0 376.4,141.7 377.4,142.3 378.4,142.9 379.3,143.5 380.3,144.2 381.3,144.8 382.3,145.4 383.3,146.0 384.2,146.6 385.2,147.2 386.2,147.7 387.2,148.3 388.2,148.8 389.1,149.3 390.1,149.8 391.1,150.3 392.1,150.7 393.0,151.1 394.0,151.6 395.0,152.0 396.0,152.4 397.0,152.7 397.9,153.1 398.9,153.4 399.9,153.7 400.9,154.0 401.8,154.3 402.8,154.5 403.8,154.8 404.8,155.0 405.8,155.2 406.7,155.4 407.7,155.6 408.7,155.8 409.7,156.0 410.6,156.1 411.6,156.2" fill="none" stroke="#800080" stroke-width="0.3" stroke-opacity="0.55"/>
<path d="M315.8,157.8L315.8,157.7 316.8,157.7 317.7,157.7 318.7,157.7 319.7,157.6 320.7,157.5 321.6,157.4 322.6,157.3 323.6,157.1 324.6,156.9 325.6,156.7 326.5,156.3 327.5,155.9 328.5,155.5 329.5,154.9 330.4,154.2 331.4,153.4 332.4,152.5 333.4,151.4 334.4,150.2 335.3,148.9 336.3,147.4 337.3,145.8 338.3,144.1 339.2,142.4 340.2,140.5 341.2,138.7 342.2,136.8 343.2,135.1 344.1,133.4 345.1,131.8 346.1,130.4 347.1,129.3 348.1,128.4 349.0,127.7 350.0,127.4 351.0,127.3 352.0,127.4 352.9,127.7 353.9,128.0 354.9,128.5 355.9,129.2 356.9,129.9 357.8,130.7 358.8,131.7 359.8,132.7 360.8,133.7 361.7,134.9 362.7,136.0 363.7,137.3 364.7,138.5 365.7,139.7 366.6,140.9 367.6,142.2 368.6,143.3 369.6,144.5 370.5,145.6 371.5,146.7 372.5,147.7 373.5,148.7 374.5,149.6 375.4,150.5 376.4,151.3 377.4,152.0 378.4,152.7 379.3,153.3 380.3,153.9 381.3,154.4 382.3,154.8 383.3,155.2 384.2,155.6 385.2,155.9 386.2,156.2 387.2,156.4 388.2,156.6 389.1,156.8 390.1,157.0 391.1,157.1 392.1,157.2 393.0,157.3 394.0,157.4 395.0,157.5 396.0,157.5 397.0,157.6 397.0,157.8Z" fill="#FF6347" fill-opacity="0.67"/>
<path d="M327.5,155.9 328.5,155.5 329.5,154.9 330.4,154.2 331.4,153.4 332.4,152.5 333.4,151.4 334.4,150.2 335.3,148.9 336.3,147.4 337.3,145.8 338.3,144.1 339.2,142.4 340.2,140.5 341.2,138.7 342.2,136.8 343.2,135.1 344.1,133.4 345.1,131.8 346.1,130.4 347.1,129.3 348.1,128.4 349.0,127.7 350.0,127.4 351.0,127.3 352.0,127.4 352.9,127.7 353.9,128.0 354.9,128.5 355.9,129.2 356.9,129.9 357.8,130.7 358.8,131.7 359.8,132.7 360.8,133.7 361.7,134.9 362.7,136.0 363.7,137.3 364.7,138.5 365.7,139.7 366.6,140.9 367.6,142.2 368.6,143.3 369.6,144.5 370.5,145.6 371.5,146.7 372.5,147.7 373.5,148.7 374.5,149.6 375.4,150.5 376.4,151.3 377.4,152.0 378.4,152.7 379.3,153.3 380.3,153.9 381.3,154.4 382.3,154.8 383.3,155.2 384.2,155.6 385.2,155.9 386.2,156.2" fill="none" stroke="#FF4500" stroke-width="0.3" stroke-opacity="0.55"/>
<path d="M315.8,157.8L315.8,152.3 316.8,151.8 317.7,151.3 318.7,150.7 319.7,150.1 320.7,149.5 321.6,148.8 322.6,148.1 323.6,147.4 324.6,146.7 325.6,145.9 326.5,145.2 327.5,144.4 328.5,143.6 329.5,142.8 330.4,142.0 331.4,141.2 332.4,140.3 333.4,139.5 334.4,138.7 335.3,137.9 336.3,137.2 337.3,136.4 338.3,135.7 339.2,135.0 340.2,134.4 341.2,133.8 342.2,133.2 343.2,132.7 344.1,132.3 345.1,131.9 346.1,131.5 347.1,131.2 348.1,131.0 349.0,130.9 350.0,130.8 351.0,130.8 352.0,130.9 352.9,131.1 353.9,131.4 354.9,131.7 355.9,132.1 356.9,132.6 357.8,133.1 358.8,133.6 359.8,134.2 360.8,134.8 361.7,135.4 362.7,136.1 363.7,136.8 364.7,137.5 365.7,138.2 366.6,138.9 367.6,139.6 368.6,140.3 369.6,141.1 370.5,141.8 371.5,142.5 372.5,143.2 373.5,143.9 374.5,144.6 375.4,145.3 376.4,145.9 377.4,146.6 378.4,147.2 379.3,147.8 380.3,148.4 381.3,148.9 382.3,149.5 383.3,150.0 384.2,150.5 385.2,151.0 386.2,151.4 387.2,151.9 388.2,152.3 389.1,152.7 390.1,153.0 391.1,153.4 392.1,153.7 393.0,154.0 394.0,154.3 395.0,154.6 396.0,154.8 397.0,155.1 397.9,155.3 398.9,155.5 399.9,155.7 400.9,155.9 401.8,156.0 402.8,156.2 403.8,156.3 404.8,156.5 405.8,156.6 406.7,156.7 407.7,156.8 408.7,156.9 409.7,157.0 410.6,157.1 411.6,157.1 412.6,157.2 413.6,157.3 414.6,157.3 415.5,157.4 416.5,157.4 417.5,157.5 418.5,157.5 419.4,157.5 420.4,157.6 420.4,157.8Z" fill="#37B482" fill-opacity="0.67"/>
<path d="M315.8,152.3 316.8,151.8 317.7,151.3 318.7,150.7 319.7,150.1 320.7,149.5 321.6,148.8 322.6,148.1 323.6,147.4 324.6,146.7 325.6,145.9 326.5,145.2 327.5,144.4 328.5,143.6 329.5,142.8 330.4,142.0 331.4,141.2 332.4,140.3 333.4,139.5 334.4,138.7 335.3,137.9 336.3,137.2 337.3,136.4 338.3,135.7 339.2,135.0 340.2,134.4 341.2,133.8 342.2,133.2 343.2,132.7 344.1,132.3 345.1,131.9 346.1,131.5 347.1,131.2 348.1,131.0 349.0,130.9 350.0,130.8 351.0,130.8 352.0,130.9 352.9,131.1 353.9,131.4 354.9,131.7 355.9,132.1 356.9,132.6 357.8,133.1 358.8,133.6 359.8,134.2 360.8,134.8 361.7,135.4 362.7,136.1 363.7,136.8 364.7,137.5 365.7,138.2 366.6,138.9 367.6,139.6 368.6,140.3 369.6,141.1 370.5,141.8 371.5,142.5 372.5,143.2 373.5,143.9 374.5,144.6 375.4,145.3 376.4,145.9 377.4,146.6 378.4,147.2 379.3,147.8 380.3,148.4 381.3,148.9 382.3,149.5 383.3,150.0 384.2,150.5 385.2,151.0 386.2,151.4 387.2,151.9 388.2,152.3 389.1,152.7 390.1,153.0 391.1,153.4 392.1,153.7 393.0,154.0 394.0,154.3 395.0,154.6 396.0,154.8 397.0,155.1 397.9,155.3 398.9,155.5 399.9,155.7 400.9,155.9 401.8,156.0 402.8,156.2" fill="none" stroke="#00A651" stroke-width="0.3" stroke-opacity="0.55"/>
<path d="M315.8,157.8L315.8,157.6 316.8,157.4 317.7,157.1 318.7,156.6 319.7,156.0 320.7,155.2 321.6,154.0 322.6,152.6 323.6,150.9 324.6,148.9 325.6,146.6 326.5,144.2 327.5,141.7 328.5,139.1 329.5,136.5 330.4,134.1 331.4,131.8 332.4,129.8 333.4,128.0 334.4,126.5 335.3,125.3 336.3,124.3 337.3,123.6 338.3,123.1 339.2,122.7 340.2,122.5 341.2,122.4 342.2,122.3 343.2,122.3 344.1,122.3 345.1,123.0 346.1,124.2 347.1,125.7 348.1,127.3 349.0,128.9 350.0,130.5 351.0,132.1 352.0,133.6 352.9,135.2 353.9,136.7 354.9,138.1 355.9,139.5 356.9,140.8 357.8,142.0 358.8,143.2 359.8,144.3 360.8,145.3 361.7,146.3 362.7,147.2 363.7,148.1 364.7,148.9 365.7,149.6 366.6,150.3 367.6,151.0 368.6,151.6 369.6,152.1 370.5,152.6 371.5,153.1 372.5,153.5 373.5,153.9 374.5,154.3 375.4,154.6 376.4,154.9 377.4,155.2 378.4,155.4 379.3,155.6 380.3,155.9 381.3,156.0 382.3,156.2 383.3,156.4 384.2,156.5 385.2,156.6 386.2,156.8 387.2,156.9 388.2,157.0 389.1,157.1 390.1,157.1 391.1,157.2 392.1,157.3 393.0,157.3 394.0,157.4 395.0,157.4 396.0,157.5 397.0,157.5 397.9,157.5 398.9,157.6 398.9,157.8Z" fill="#FFD400" fill-opacity="0.8"/>
<path d="M319.7,156.0 320.7,155.2 321.6,154.0 322.6,152.6 323.6,150.9 324.6,148.9 325.6,146.6 326.5,144.2 327.5,141.7 328.5,139.1 329.5,136.5 330.4,134.1 331.4,131.8 332.4,129.8 333.4,128.0 334.4,126.5 335.3,125.3 336.3,124.3 337.3,123.6 338.3,123.1 339.2,122.7 340.2,122.5 341.2,122.4 342.2,122.3 343.2,122.3 344.1,122.3 345.1,123.0 346.1,124.2 347.1,125.7 348.1,127.3 349.0,128.9 350.0,130.5 351.0,132.1 352.0,133.6 352.9,135.2 353.9,136.7 354.9,138.1 355.9,139.5 356.9,140.8 357.8,142.0 358.8,143.2 359.8,144.3 360.8,145.3 361.7,146.3 362.7,147.2 363.7,148.1 364.7,148.9 365.7,149.6 366.6,150.3 367.6,151.0 368.6,151.6 369.6,152.1 370.5,152.6 371.5,153.1 372.5,153.5 373.5,153.9 374.5,154.3 375.4,154.6 376.4,154.9 377.4,155.2 378.4,155.4 379.3,155.6 380.3,155.9 381.3,156.0 382.3,156.2" fill="none" stroke="#FFD700" stroke-width="0.3" stroke-opacity="0.55"/>
<path d="M315.8,157.8L315.8,154.7 316.8,153.6 317.7,152.3 318.7,150.7 319.7,148.8 320.7,146.6 321.6,144.1 322.6,141.2 323.6,138.0 324.6,134.5 325.6,130.9 326.5,127.2 327.5,123.6 328.5,120.1 329.5,116.8 330.4,114.0 331.4,111.8 332.4,110.1 333.4,109.2 334.4,109.0 335.3,109.7 336.3,111.3 337.3,113.6 338.3,116.6 339.2,120.1 340.2,123.9 341.2,127.9 342.2,131.9 343.2,135.8 344.1,139.5 345.1,142.8 346.1,145.8 347.1,148.3 348.1,150.4 349.0,152.2 350.0,153.6 351.0,154.7 352.0,155.6 352.9,156.3 353.9,156.7 354.9,157.1 355.9,157.3 356.9,157.5 357.8,157.6 357.8,157.8Z" fill="#3C8CBE" fill-opacity="0.67"/>
<path d="M315.8,154.7 316.8,153.6 317.7,152.3 318.7,150.7 319.7,148.8 320.7,146.6 321.6,144.1 322.6,141.2 323.6,138.0 324.6,134.5 325.6,130.9 326.5,127.2 327.5,123.6 328.5,120.1 329.5,116.8 330.4,114.0 331.4,111.8 332.4,110.1 333.4,109.2 334.4,109.0 335.3,109.7 336.3,111.3 337.3,113.6 338.3,116.6 339.2,120.1 340.2,123.9 341.2,127.9 342.2,131.9 343.2,135.8 344.1,139.5 345.1,142.8 346.1,145.8 347.1,148.3 348.1,150.4 349.0,152.2 350.0,153.6 351.0,154.7 352.0,155.6 352.9,156.3" fill="none" stroke="#0072B2" stroke-width="0.3" stroke-opacity="0.55"/>
<text x="347.40" y="164.70" font-size="5.2" text-anchor="middle" font-weight="bold" fill="#111" stroke="#111" stroke-width="0.12" >10</text>
<text x="380.00" y="164.70" font-size="5.2" text-anchor="middle" font-weight="bold" fill="#111" stroke="#111" stroke-width="0.12" >20</text>
<text x="412.60" y="164.70" font-size="5.2" text-anchor="middle" font-weight="bold" fill="#111" stroke="#111" stroke-width="0.12" >30</text>
<text x="445.20" y="164.70" font-size="5.2" text-anchor="middle" font-weight="bold" fill="#111" stroke="#111" stroke-width="0.12" >40</text>
<text x="477.80" y="164.70" font-size="5.2" text-anchor="middle" font-weight="bold" fill="#111" stroke="#111" stroke-width="0.12" >50</text>
<text x="510.40" y="164.70" font-size="5.2" text-anchor="middle" font-weight="bold" fill="#111" stroke="#111" stroke-width="0.12" >60</text>
<text x="430.00" y="170.00" font-size="6.4" text-anchor="middle" font-weight="bold" fill="#111" stroke="#111" stroke-width="0.12" >Height (RFU)</text>
<line x1="526.80" y1="14.10" x2="532.60" y2="14.10" stroke="#800080" stroke-width="2.3" stroke-linecap="round"/>
<text x="537.00" y="15.50" font-size="4.0" text-anchor="start" font-weight="bold" fill="#111" stroke="#111" stroke-width="0.12" >P</text>
<line x1="526.80" y1="19.55" x2="532.60" y2="19.55" stroke="#FF4500" stroke-width="2.3" stroke-linecap="round"/>
<text x="537.00" y="20.95" font-size="4.0" text-anchor="start" font-weight="bold" fill="#111" stroke="#111" stroke-width="0.12" >R</text>
<line x1="526.80" y1="25.00" x2="532.60" y2="25.00" stroke="#00A651" stroke-width="2.3" stroke-linecap="round"/>
<text x="537.00" y="26.40" font-size="4.0" text-anchor="start" font-weight="bold" fill="#111" stroke="#111" stroke-width="0.12" >G</text>
<line x1="526.80" y1="30.45" x2="532.60" y2="30.45" stroke="#FFD700" stroke-width="2.3" stroke-linecap="round"/>
<text x="537.00" y="31.85" font-size="4.0" text-anchor="start" font-weight="bold" fill="#111" stroke="#111" stroke-width="0.12" >Y</text>
<line x1="526.80" y1="35.90" x2="532.60" y2="35.90" stroke="#0072B2" stroke-width="2.3" stroke-linecap="round"/>
<text x="537.00" y="37.30" font-size="4.0" text-anchor="start" font-weight="bold" fill="#111" stroke="#111" stroke-width="0.12" >B</text>
<line x1="347.40" y1="177.60" x2="347.40" y2="327.60" stroke="#ebebeb" stroke-width="0.6"/>
<line x1="380.00" y1="177.60" x2="380.00" y2="327.60" stroke="#ebebeb" stroke-width="0.6"/>
<line x1="412.60" y1="177.60" x2="412.60" y2="327.60" stroke="#ebebeb" stroke-width="0.6"/>
<line x1="445.20" y1="177.60" x2="445.20" y2="327.60" stroke="#ebebeb" stroke-width="0.6"/>
<line x1="477.80" y1="177.60" x2="477.80" y2="327.60" stroke="#ebebeb" stroke-width="0.6"/>
<line x1="510.40" y1="177.60" x2="510.40" y2="327.60" stroke="#ebebeb" stroke-width="0.6"/>
<text x="314.00" y="232.10" font-size="5.2" text-anchor="end" font-weight="bold" fill="#111" stroke="#111" stroke-width="0.12" >2020_S1</text>
<line x1="315.78" y1="230.30" x2="543.50" y2="230.30" stroke="#bcd6dd" stroke-width="0.7"/>
<path d="M315.8,230.3L315.8,230.1 316.8,230.0 317.7,230.0 318.7,229.9 319.7,229.9 320.7,229.8 321.6,229.7 322.6,229.6 323.6,229.5 324.6,229.4 325.6,229.2 326.5,229.0 327.5,228.9 328.5,228.6 329.5,228.4 330.4,228.1 331.4,227.9 332.4,227.5 333.4,227.2 334.4,226.8 335.3,226.4 336.3,225.9 337.3,225.4 338.3,224.9 339.2,224.4 340.2,223.8 341.2,223.2 342.2,222.5 343.2,221.9 344.1,221.2 345.1,220.4 346.1,219.7 347.1,218.9 348.1,218.2 349.0,217.4 350.0,216.6 351.0,215.8 352.0,215.1 352.9,214.3 353.9,213.6 354.9,212.9 355.9,212.3 356.9,211.7 357.8,211.1 358.8,210.6 359.8,210.2 360.8,209.8 361.7,209.5 362.7,209.3 363.7,209.1 364.7,209.0 365.7,209.0 366.6,209.1 367.6,209.2 368.6,209.3 369.6,209.5 370.5,209.7 371.5,210.0 372.5,210.3 373.5,210.6 374.5,210.9 375.4,211.3 376.4,211.6 377.4,212.0 378.4,212.4 379.3,212.8 380.3,213.3 381.3,213.7 382.3,214.1 383.3,214.6 384.2,215.1 385.2,215.5 386.2,216.0 387.2,216.4 388.2,216.9 389.1,217.4 390.1,217.8 391.1,218.3 392.1,218.8 393.0,219.2 394.0,219.7 395.0,220.1 396.0,220.5 397.0,220.9 397.9,221.4 398.9,221.8 399.9,222.1 400.9,222.5 401.8,222.9 402.8,223.3 403.8,223.6 404.8,224.0 405.8,224.3 406.7,224.6 407.7,224.9 408.7,225.2 409.7,225.5 410.6,225.7 411.6,226.0 412.6,226.3 413.6,226.5 414.6,226.7 415.5,226.9 416.5,227.1 417.5,227.3 418.5,227.5 419.4,227.7 420.4,227.9 421.4,228.0 422.4,228.2 423.4,228.3 424.3,228.5 425.3,228.6 426.3,228.7 427.3,228.8 428.2,228.9 429.2,229.0 430.2,229.1 431.2,229.2 432.2,229.3 433.1,229.4 434.1,229.4 435.1,229.5 436.1,229.6 437.1,229.6 438.0,229.7 439.0,229.7 440.0,229.8 441.0,229.8 441.9,229.9 442.9,229.9 443.9,229.9 444.9,230.0 445.9,230.0 446.8,230.0 447.8,230.0 448.8,230.1 448.8,230.3Z" fill="#B4159E" fill-opacity="0.67"/>
<path d="M328.5,228.6 329.5,228.4 330.4,228.1 331.4,227.9 332.4,227.5 333.4,227.2 334.4,226.8 335.3,226.4 336.3,225.9 337.3,225.4 338.3,224.9 339.2,224.4 340.2,223.8 341.2,223.2 342.2,222.5 343.2,221.9 344.1,221.2 345.1,220.4 346.1,219.7 347.1,218.9 348.1,218.2 349.0,217.4 350.0,216.6 351.0,215.8 352.0,215.1 352.9,214.3 353.9,213.6 354.9,212.9 355.9,212.3 356.9,211.7 357.8,211.1 358.8,210.6 359.8,210.2 360.8,209.8 361.7,209.5 362.7,209.3 363.7,209.1 364.7,209.0 365.7,209.0 366.6,209.1 367.6,209.2 368.6,209.3 369.6,209.5 370.5,209.7 371.5,210.0 372.5,210.3 373.5,210.6 374.5,210.9 375.4,211.3 376.4,211.6 377.4,212.0 378.4,212.4 379.3,212.8 380.3,213.3 381.3,213.7 382.3,214.1 383.3,214.6 384.2,215.1 385.2,215.5 386.2,216.0 387.2,216.4 388.2,216.9 389.1,217.4 390.1,217.8 391.1,218.3 392.1,218.8 393.0,219.2 394.0,219.7 395.0,220.1 396.0,220.5 397.0,220.9 397.9,221.4 398.9,221.8 399.9,222.1 400.9,222.5 401.8,222.9 402.8,223.3 403.8,223.6 404.8,224.0 405.8,224.3 406.7,224.6 407.7,224.9 408.7,225.2 409.7,225.5 410.6,225.7 411.6,226.0 412.6,226.3 413.6,226.5 414.6,226.7 415.5,226.9 416.5,227.1 417.5,227.3 418.5,227.5 419.4,227.7 420.4,227.9 421.4,228.0 422.4,228.2 423.4,228.3 424.3,228.5 425.3,228.6 426.3,228.7" fill="none" stroke="#800080" stroke-width="0.3" stroke-opacity="0.55"/>
<path d="M315.8,230.3L315.8,229.7 316.8,229.6 317.7,229.5 318.7,229.3 319.7,229.1 320.7,228.9 321.6,228.7 322.6,228.4 323.6,228.1 324.6,227.8 325.6,227.4 326.5,227.0 327.5,226.5 328.5,226.0 329.5,225.4 330.4,224.7 331.4,224.1 332.4,223.3 333.4,222.5 334.4,221.7 335.3,220.8 336.3,219.8 337.3,218.9 338.3,217.9 339.2,216.8 340.2,215.7 341.2,214.7 342.2,213.6 343.2,212.5 344.1,211.4 345.1,210.3 346.1,209.3 347.1,208.4 348.1,207.5 349.0,206.6 350.0,205.8 351.0,205.2 352.0,204.6 352.9,204.1 353.9,203.7 354.9,203.5 355.9,203.3 356.9,203.3 357.8,203.4 358.8,203.6 359.8,203.9 360.8,204.2 361.7,204.6 362.7,205.1 363.7,205.6 364.7,206.1 365.7,206.7 366.6,207.3 367.6,208.0 368.6,208.7 369.6,209.4 370.5,210.1 371.5,210.9 372.5,211.6 373.5,212.4 374.5,213.2 375.4,213.9 376.4,214.7 377.4,215.4 378.4,216.2 379.3,216.9 380.3,217.6 381.3,218.3 382.3,219.0 383.3,219.7 384.2,220.3 385.2,220.9 386.2,221.5 387.2,222.1 388.2,222.7 389.1,223.2 390.1,223.7 391.1,224.2 392.1,224.6 393.0,225.0 394.0,225.4 395.0,225.8 396.0,226.2 397.0,226.5 397.9,226.8 398.9,227.1 399.9,227.4 400.9,227.6 401.8,227.9 402.8,228.1 403.8,228.3 404.8,228.5 405.8,228.7 406.7,228.8 407.7,229.0 408.7,229.1 409.7,229.2 410.6,229.3 411.6,229.4 412.6,229.5 413.6,229.6 414.6,229.7 415.5,229.7 416.5,229.8 417.5,229.9 418.5,229.9 419.4,230.0 420.4,230.0 421.4,230.0 422.4,230.1 422.4,230.3Z" fill="#FF6347" fill-opacity="0.67"/>
<path d="M321.6,228.7 322.6,228.4 323.6,228.1 324.6,227.8 325.6,227.4 326.5,227.0 327.5,226.5 328.5,226.0 329.5,225.4 330.4,224.7 331.4,224.1 332.4,223.3 333.4,222.5 334.4,221.7 335.3,220.8 336.3,219.8 337.3,218.9 338.3,217.9 339.2,216.8 340.2,215.7 341.2,214.7 342.2,213.6 343.2,212.5 344.1,211.4 345.1,210.3 346.1,209.3 347.1,208.4 348.1,207.5 349.0,206.6 350.0,205.8 351.0,205.2 352.0,204.6 352.9,204.1 353.9,203.7 354.9,203.5 355.9,203.3 356.9,203.3 357.8,203.4 358.8,203.6 359.8,203.9 360.8,204.2 361.7,204.6 362.7,205.1 363.7,205.6 364.7,206.1 365.7,206.7 366.6,207.3 367.6,208.0 368.6,208.7 369.6,209.4 370.5,210.1 371.5,210.9 372.5,211.6 373.5,212.4 374.5,213.2 375.4,213.9 376.4,214.7 377.4,215.4 378.4,216.2 379.3,216.9 380.3,217.6 381.3,218.3 382.3,219.0 383.3,219.7 384.2,220.3 385.2,220.9 386.2,221.5 387.2,222.1 388.2,222.7 389.1,223.2 390.1,223.7 391.1,224.2 392.1,224.6 393.0,225.0 394.0,225.4 395.0,225.8 396.0,226.2 397.0,226.5 397.9,226.8 398.9,227.1 399.9,227.4 400.9,227.6 401.8,227.9 402.8,228.1 403.8,228.3 404.8,228.5 405.8,228.7" fill="none" stroke="#FF4500" stroke-width="0.3" stroke-opacity="0.55"/>
<path d="M315.8,230.3L315.8,229.5 316.8,229.4 317.7,229.2 318.7,229.0 319.7,228.8 320.7,228.5 321.6,228.2 322.6,227.9 323.6,227.5 324.6,227.1 325.6,226.6 326.5,226.1 327.5,225.5 328.5,224.9 329.5,224.2 330.4,223.5 331.4,222.7 332.4,221.9 333.4,221.0 334.4,220.1 335.3,219.1 336.3,218.1 337.3,217.1 338.3,216.0 339.2,214.9 340.2,213.8 341.2,212.7 342.2,211.6 343.2,210.5 344.1,209.5 345.1,208.5 346.1,207.6 347.1,206.7 348.1,205.9 349.0,205.2 350.0,204.6 351.0,204.1 352.0,203.6 352.9,203.3 353.9,203.2 354.9,203.1 355.9,203.2 356.9,203.4 357.8,203.7 358.8,204.1 359.8,204.5 360.8,205.0 361.7,205.6 362.7,206.2 363.7,206.9 364.7,207.6 365.7,208.3 366.6,209.0 367.6,209.8 368.6,210.6 369.6,211.4 370.5,212.2 371.5,213.0 372.5,213.8 373.5,214.6 374.5,215.4 375.4,216.2 376.4,216.9 377.4,217.7 378.4,218.4 379.3,219.1 380.3,219.8 381.3,220.5 382.3,221.1 383.3,221.7 384.2,222.3 385.2,222.8 386.2,223.4 387.2,223.9 388.2,224.4 389.1,224.8 390.1,225.2 391.1,225.6 392.1,226.0 393.0,226.4 394.0,226.7 395.0,227.0 396.0,227.3 397.0,227.6 397.9,227.8 398.9,228.0 399.9,228.2 400.9,228.4 401.8,228.6 402.8,228.8 403.8,228.9 404.8,229.1 405.8,229.2 406.7,229.3 407.7,229.4 408.7,229.5 409.7,229.6 410.6,229.7 411.6,229.7 412.6,229.8 413.6,229.9 414.6,229.9 415.5,230.0 416.5,230.0 417.5,230.0 418.5,230.1 418.5,230.3Z" fill="#37B482" fill-opacity="0.67"/>
<path d="M319.7,228.8 320.7,228.5 321.6,228.2 322.6,227.9 323.6,227.5 324.6,227.1 325.6,226.6 326.5,226.1 327.5,225.5 328.5,224.9 329.5,224.2 330.4,223.5 331.4,222.7 332.4,221.9 333.4,221.0 334.4,220.1 335.3,219.1 336.3,218.1 337.3,217.1 338.3,216.0 339.2,214.9 340.2,213.8 341.2,212.7 342.2,211.6 343.2,210.5 344.1,209.5 345.1,208.5 346.1,207.6 347.1,206.7 348.1,205.9 349.0,205.2 350.0,204.6 351.0,204.1 352.0,203.6 352.9,203.3 353.9,203.2 354.9,203.1 355.9,203.2 356.9,203.4 357.8,203.7 358.8,204.1 359.8,204.5 360.8,205.0 361.7,205.6 362.7,206.2 363.7,206.9 364.7,207.6 365.7,208.3 366.6,209.0 367.6,209.8 368.6,210.6 369.6,211.4 370.5,212.2 371.5,213.0 372.5,213.8 373.5,214.6 374.5,215.4 375.4,216.2 376.4,216.9 377.4,217.7 378.4,218.4 379.3,219.1 380.3,219.8 381.3,220.5 382.3,221.1 383.3,221.7 384.2,222.3 385.2,222.8 386.2,223.4 387.2,223.9 388.2,224.4 389.1,224.8 390.1,225.2 391.1,225.6 392.1,226.0 393.0,226.4 394.0,226.7 395.0,227.0 396.0,227.3 397.0,227.6 397.9,227.8 398.9,228.0 399.9,228.2 400.9,228.4 401.8,228.6 402.8,228.8" fill="none" stroke="#00A651" stroke-width="0.3" stroke-opacity="0.55"/>
<path d="M315.8,230.3L315.8,230.3 316.8,230.3 317.7,230.2 318.7,230.2 319.7,230.1 320.7,230.0 321.6,229.8 322.6,229.5 323.6,229.1 324.6,228.6 325.6,228.0 326.5,227.2 327.5,226.1 328.5,224.8 329.5,223.3 330.4,221.6 331.4,219.6 332.4,217.4 333.4,215.1 334.4,212.7 335.3,210.3 336.3,207.9 337.3,205.6 338.3,203.5 339.2,201.7 340.2,200.0 341.2,198.7 342.2,197.7 343.2,197.0 344.1,196.6 345.1,196.4 346.1,196.4 347.1,196.9 348.1,197.8 349.0,198.8 350.0,199.9 351.0,201.1 352.0,202.3 352.9,203.6 353.9,204.9 354.9,206.2 355.9,207.6 356.9,208.8 357.8,210.1 358.8,211.4 359.8,212.6 360.8,213.7 361.7,214.8 362.7,215.9 363.7,216.9 364.7,217.9 365.7,218.8 366.6,219.7 367.6,220.5 368.6,221.3 369.6,222.0 370.5,222.7 371.5,223.3 372.5,223.9 373.5,224.5 374.5,225.0 375.4,225.4 376.4,225.9 377.4,226.3 378.4,226.7 379.3,227.0 380.3,227.3 381.3,227.6 382.3,227.9 383.3,228.1 384.2,228.3 385.2,228.5 386.2,228.7 387.2,228.9 388.2,229.0 389.1,229.1 390.1,229.3 391.1,229.4 392.1,229.5 393.0,229.6 394.0,229.6 395.0,229.7 396.0,229.8 397.0,229.8 397.9,229.9 398.9,229.9 399.9,230.0 400.9,230.0 401.8,230.1 401.8,230.3Z" fill="#FFD400" fill-opacity="0.8"/>
<path d="M324.6,228.6 325.6,228.0 326.5,227.2 327.5,226.1 328.5,224.8 329.5,223.3 330.4,221.6 331.4,219.6 332.4,217.4 333.4,215.1 334.4,212.7 335.3,210.3 336.3,207.9 337.3,205.6 338.3,203.5 339.2,201.7 340.2,200.0 341.2,198.7 342.2,197.7 343.2,197.0 344.1,196.6 345.1,196.4 346.1,196.4 347.1,196.9 348.1,197.8 349.0,198.8 350.0,199.9 351.0,201.1 352.0,202.3 352.9,203.6 353.9,204.9 354.9,206.2 355.9,207.6 356.9,208.8 357.8,210.1 358.8,211.4 359.8,212.6 360.8,213.7 361.7,214.8 362.7,215.9 363.7,216.9 364.7,217.9 365.7,218.8 366.6,219.7 367.6,220.5 368.6,221.3 369.6,222.0 370.5,222.7 371.5,223.3 372.5,223.9 373.5,224.5 374.5,225.0 375.4,225.4 376.4,225.9 377.4,226.3 378.4,226.7 379.3,227.0 380.3,227.3 381.3,227.6 382.3,227.9 383.3,228.1 384.2,228.3 385.2,228.5 386.2,228.7" fill="none" stroke="#FFD700" stroke-width="0.3" stroke-opacity="0.55"/>
<path d="M315.8,230.3L315.8,227.3 316.8,226.3 317.7,225.1 318.7,223.6 319.7,221.9 320.7,219.8 321.6,217.5 322.6,214.8 323.6,211.8 324.6,208.6 325.6,205.1 326.5,201.6 327.5,198.0 328.5,194.5 329.5,191.2 330.4,188.2 331.4,185.5 332.4,183.5 333.4,182.0 334.4,181.2 335.3,181.0 336.3,181.7 337.3,183.0 338.3,184.9 339.2,187.5 340.2,190.5 341.2,193.8 342.2,197.4 343.2,201.0 344.1,204.6 345.1,208.2 346.1,211.5 347.1,214.5 348.1,217.3 349.0,219.7 350.0,221.8 351.0,223.6 352.0,225.1 352.9,226.3 353.9,227.3 354.9,228.1 355.9,228.7 356.9,229.1 357.8,229.5 358.8,229.7 359.8,229.9 360.8,230.0 361.7,230.1 361.7,230.3Z" fill="#3C8CBE" fill-opacity="0.67"/>
<path d="M315.8,227.3 316.8,226.3 317.7,225.1 318.7,223.6 319.7,221.9 320.7,219.8 321.6,217.5 322.6,214.8 323.6,211.8 324.6,208.6 325.6,205.1 326.5,201.6 327.5,198.0 328.5,194.5 329.5,191.2 330.4,188.2 331.4,185.5 332.4,183.5 333.4,182.0 334.4,181.2 335.3,181.0 336.3,181.7 337.3,183.0 338.3,184.9 339.2,187.5 340.2,190.5 341.2,193.8 342.2,197.4 343.2,201.0 344.1,204.6 345.1,208.2 346.1,211.5 347.1,214.5 348.1,217.3 349.0,219.7 350.0,221.8 351.0,223.6 352.0,225.1 352.9,226.3 353.9,227.3 354.9,228.1 355.9,228.7" fill="none" stroke="#0072B2" stroke-width="0.3" stroke-opacity="0.55"/>
<text x="314.00" y="264.40" font-size="5.2" text-anchor="end" font-weight="bold" fill="#111" stroke="#111" stroke-width="0.12" >2021_S3</text>
<line x1="315.78" y1="262.60" x2="543.50" y2="262.60" stroke="#bcd6dd" stroke-width="0.7"/>
<path d="M315.8,262.6L315.8,261.7 316.8,261.6 317.7,261.4 318.7,261.2 319.7,261.0 320.7,260.7 321.6,260.4 322.6,260.1 323.6,259.8 324.6,259.4 325.6,259.0 326.5,258.5 327.5,258.0 328.5,257.5 329.5,256.9 330.4,256.2 331.4,255.5 332.4,254.8 333.4,254.0 334.4,253.2 335.3,252.3 336.3,251.4 337.3,250.5 338.3,249.5 339.2,248.5 340.2,247.5 341.2,246.4 342.2,245.4 343.2,244.3 344.1,243.3 345.1,242.2 346.1,241.2 347.1,240.2 348.1,239.3 349.0,238.4 350.0,237.5 351.0,236.8 352.0,236.0 352.9,235.4 353.9,234.9 354.9,234.4 355.9,234.1 356.9,233.8 357.8,233.7 358.8,233.6 359.8,233.6 360.8,233.8 361.7,233.9 362.7,234.1 363.7,234.4 364.7,234.8 365.7,235.1 366.6,235.5 367.6,236.0 368.6,236.5 369.6,237.0 370.5,237.5 371.5,238.1 372.5,238.7 373.5,239.3 374.5,240.0 375.4,240.6 376.4,241.3 377.4,242.0 378.4,242.7 379.3,243.4 380.3,244.1 381.3,244.8 382.3,245.5 383.3,246.2 384.2,246.9 385.2,247.5 386.2,248.2 387.2,248.9 388.2,249.5 389.1,250.2 390.1,250.8 391.1,251.4 392.1,252.0 393.0,252.5 394.0,253.1 395.0,253.6 396.0,254.1 397.0,254.6 397.9,255.1 398.9,255.6 399.9,256.0 400.9,256.4 401.8,256.8 402.8,257.2 403.8,257.6 404.8,257.9 405.8,258.3 406.7,258.6 407.7,258.9 408.7,259.1 409.7,259.4 410.6,259.6 411.6,259.9 412.6,260.1 413.6,260.3 414.6,260.5 415.5,260.6 416.5,260.8 417.5,261.0 418.5,261.1 419.4,261.2 420.4,261.3 421.4,261.5 422.4,261.6 423.4,261.7 424.3,261.7 425.3,261.8 426.3,261.9 427.3,262.0 428.2,262.0 429.2,262.1 430.2,262.1 431.2,262.2 432.2,262.2 433.1,262.3 434.1,262.3 435.1,262.3 436.1,262.4 436.1,262.6Z" fill="#B4159E" fill-opacity="0.67"/>
<path d="M319.7,261.0 320.7,260.7 321.6,260.4 322.6,260.1 323.6,259.8 324.6,259.4 325.6,259.0 326.5,258.5 327.5,258.0 328.5,257.5 329.5,256.9 330.4,256.2 331.4,255.5 332.4,254.8 333.4,254.0 334.4,253.2 335.3,252.3 336.3,251.4 337.3,250.5 338.3,249.5 339.2,248.5 340.2,247.5 341.2,246.4 342.2,245.4 343.2,244.3 344.1,243.3 345.1,242.2 346.1,241.2 347.1,240.2 348.1,239.3 349.0,238.4 350.0,237.5 351.0,236.8 352.0,236.0 352.9,235.4 353.9,234.9 354.9,234.4 355.9,234.1 356.9,233.8 357.8,233.7 358.8,233.6 359.8,233.6 360.8,233.8 361.7,233.9 362.7,234.1 363.7,234.4 364.7,234.8 365.7,235.1 366.6,235.5 367.6,236.0 368.6,236.5 369.6,237.0 370.5,237.5 371.5,238.1 372.5,238.7 373.5,239.3 374.5,240.0 375.4,240.6 376.4,241.3 377.4,242.0 378.4,242.7 379.3,243.4 380.3,244.1 381.3,244.8 382.3,245.5 383.3,246.2 384.2,246.9 385.2,247.5 386.2,248.2 387.2,248.9 388.2,249.5 389.1,250.2 390.1,250.8 391.1,251.4 392.1,252.0 393.0,252.5 394.0,253.1 395.0,253.6 396.0,254.1 397.0,254.6 397.9,255.1 398.9,255.6 399.9,256.0 400.9,256.4 401.8,256.8 402.8,257.2 403.8,257.6 404.8,257.9 405.8,258.3 406.7,258.6 407.7,258.9 408.7,259.1 409.7,259.4 410.6,259.6 411.6,259.9 412.6,260.1 413.6,260.3 414.6,260.5 415.5,260.6 416.5,260.8 417.5,261.0 418.5,261.1" fill="none" stroke="#800080" stroke-width="0.3" stroke-opacity="0.55"/>
<path d="M315.8,262.6L315.8,261.8 316.8,261.7 317.7,261.5 318.7,261.2 319.7,260.9 320.7,260.6 321.6,260.2 322.6,259.8 323.6,259.3 324.6,258.7 325.6,258.1 326.5,257.3 327.5,256.5 328.5,255.7 329.5,254.7 330.4,253.7 331.4,252.5 332.4,251.3 333.4,250.0 334.4,248.7 335.3,247.3 336.3,245.8 337.3,244.3 338.3,242.8 339.2,241.3 340.2,239.8 341.2,238.3 342.2,236.8 343.2,235.5 344.1,234.2 345.1,233.0 346.1,232.0 347.1,231.1 348.1,230.3 349.0,229.8 350.0,229.4 351.0,229.1 352.0,229.1 352.9,229.4 353.9,229.7 354.9,230.2 355.9,230.7 356.9,231.3 357.8,232.0 358.8,232.8 359.8,233.5 360.8,234.3 361.7,235.2 362.7,236.0 363.7,236.9 364.7,237.8 365.7,238.7 366.6,239.6 367.6,240.5 368.6,241.4 369.6,242.3 370.5,243.2 371.5,244.0 372.5,244.9 373.5,245.7 374.5,246.5 375.4,247.3 376.4,248.1 377.4,248.9 378.4,249.6 379.3,250.3 380.3,251.0 381.3,251.7 382.3,252.3 383.3,252.9 384.2,253.5 385.2,254.0 386.2,254.6 387.2,255.1 388.2,255.6 389.1,256.0 390.1,256.5 391.1,256.9 392.1,257.3 393.0,257.6 394.0,258.0 395.0,258.3 396.0,258.6 397.0,258.9 397.9,259.2 398.9,259.4 399.9,259.7 400.9,259.9 401.8,260.1 402.8,260.3 403.8,260.5 404.8,260.7 405.8,260.8 406.7,261.0 407.7,261.1 408.7,261.2 409.7,261.3 410.6,261.4 411.6,261.5 412.6,261.6 413.6,261.7 414.6,261.8 415.5,261.9 416.5,261.9 417.5,262.0 418.5,262.0 419.4,262.1 420.4,262.1 421.4,262.2 422.4,262.2 423.4,262.3 424.3,262.3 425.3,262.3 426.3,262.4 426.3,262.6Z" fill="#FF6347" fill-opacity="0.67"/>
<path d="M319.7,260.9 320.7,260.6 321.6,260.2 322.6,259.8 323.6,259.3 324.6,258.7 325.6,258.1 326.5,257.3 327.5,256.5 328.5,255.7 329.5,254.7 330.4,253.7 331.4,252.5 332.4,251.3 333.4,250.0 334.4,248.7 335.3,247.3 336.3,245.8 337.3,244.3 338.3,242.8 339.2,241.3 340.2,239.8 341.2,238.3 342.2,236.8 343.2,235.5 344.1,234.2 345.1,233.0 346.1,232.0 347.1,231.1 348.1,230.3 349.0,229.8 350.0,229.4 351.0,229.1 352.0,229.1 352.9,229.4 353.9,229.7 354.9,230.2 355.9,230.7 356.9,231.3 357.8,232.0 358.8,232.8 359.8,233.5 360.8,234.3 361.7,235.2 362.7,236.0 363.7,236.9 364.7,237.8 365.7,238.7 366.6,239.6 367.6,240.5 368.6,241.4 369.6,242.3 370.5,243.2 371.5,244.0 372.5,244.9 373.5,245.7 374.5,246.5 375.4,247.3 376.4,248.1 377.4,248.9 378.4,249.6 379.3,250.3 380.3,251.0 381.3,251.7 382.3,252.3 383.3,252.9 384.2,253.5 385.2,254.0 386.2,254.6 387.2,255.1 388.2,255.6 389.1,256.0 390.1,256.5 391.1,256.9 392.1,257.3 393.0,257.6 394.0,258.0 395.0,258.3 396.0,258.6 397.0,258.9 397.9,259.2 398.9,259.4 399.9,259.7 400.9,259.9 401.8,260.1 402.8,260.3 403.8,260.5 404.8,260.7 405.8,260.8 406.7,261.0 407.7,261.1" fill="none" stroke="#FF4500" stroke-width="0.3" stroke-opacity="0.55"/>
<path d="M315.8,262.6L315.8,261.7 316.8,261.5 317.7,261.3 318.7,261.0 319.7,260.7 320.7,260.3 321.6,259.9 322.6,259.4 323.6,258.8 324.6,258.2 325.6,257.5 326.5,256.7 327.5,255.9 328.5,254.9 329.5,253.9 330.4,252.8 331.4,251.6 332.4,250.4 333.4,249.1 334.4,247.7 335.3,246.3 336.3,244.9 337.3,243.4 338.3,241.9 339.2,240.4 340.2,239.0 341.2,237.6 342.2,236.3 343.2,235.1 344.1,233.9 345.1,232.9 346.1,232.0 347.1,231.3 348.1,230.7 349.0,230.4 350.0,230.1 351.0,230.1 352.0,230.3 352.9,230.6 353.9,230.9 354.9,231.3 355.9,231.8 356.9,232.3 357.8,232.8 358.8,233.4 359.8,234.1 360.8,234.7 361.7,235.4 362.7,236.1 363.7,236.8 364.7,237.5 365.7,238.2 366.6,239.0 367.6,239.7 368.6,240.4 369.6,241.2 370.5,241.9 371.5,242.6 372.5,243.4 373.5,244.1 374.5,244.8 375.4,245.5 376.4,246.2 377.4,246.9 378.4,247.5 379.3,248.2 380.3,248.8 381.3,249.4 382.3,250.0 383.3,250.6 384.2,251.2 385.2,251.7 386.2,252.2 387.2,252.8 388.2,253.2 389.1,253.7 390.1,254.2 391.1,254.6 392.1,255.1 393.0,255.5 394.0,255.9 395.0,256.2 396.0,256.6 397.0,256.9 397.9,257.3 398.9,257.6 399.9,257.9 400.9,258.1 401.8,258.4 402.8,258.7 403.8,258.9 404.8,259.1 405.8,259.4 406.7,259.6 407.7,259.8 408.7,259.9 409.7,260.1 410.6,260.3 411.6,260.4 412.6,260.6 413.6,260.7 414.6,260.9 415.5,261.0 416.5,261.1 417.5,261.2 418.5,261.3 419.4,261.4 420.4,261.5 421.4,261.6 422.4,261.6 423.4,261.7 424.3,261.8 425.3,261.8 426.3,261.9 427.3,261.9 428.2,262.0 429.2,262.0 430.2,262.1 431.2,262.1 432.2,262.2 433.1,262.2 434.1,262.2 435.1,262.3 436.1,262.3 437.1,262.3 438.0,262.3 439.0,262.4 439.0,262.6Z" fill="#37B482" fill-opacity="0.67"/>
<path d="M318.7,261.0 319.7,260.7 320.7,260.3 321.6,259.9 322.6,259.4 323.6,258.8 324.6,258.2 325.6,257.5 326.5,256.7 327.5,255.9 328.5,254.9 329.5,253.9 330.4,252.8 331.4,251.6 332.4,250.4 333.4,249.1 334.4,247.7 335.3,246.3 336.3,244.9 337.3,243.4 338.3,241.9 339.2,240.4 340.2,239.0 341.2,237.6 342.2,236.3 343.2,235.1 344.1,233.9 345.1,232.9 346.1,232.0 347.1,231.3 348.1,230.7 349.0,230.4 350.0,230.1 351.0,230.1 352.0,230.3 352.9,230.6 353.9,230.9 354.9,231.3 355.9,231.8 356.9,232.3 357.8,232.8 358.8,233.4 359.8,234.1 360.8,234.7 361.7,235.4 362.7,236.1 363.7,236.8 364.7,237.5 365.7,238.2 366.6,239.0 367.6,239.7 368.6,240.4 369.6,241.2 370.5,241.9 371.5,242.6 372.5,243.4 373.5,244.1 374.5,244.8 375.4,245.5 376.4,246.2 377.4,246.9 378.4,247.5 379.3,248.2 380.3,248.8 381.3,249.4 382.3,250.0 383.3,250.6 384.2,251.2 385.2,251.7 386.2,252.2 387.2,252.8 388.2,253.2 389.1,253.7 390.1,254.2 391.1,254.6 392.1,255.1 393.0,255.5 394.0,255.9 395.0,256.2 396.0,256.6 397.0,256.9 397.9,257.3 398.9,257.6 399.9,257.9 400.9,258.1 401.8,258.4 402.8,258.7 403.8,258.9 404.8,259.1 405.8,259.4 406.7,259.6 407.7,259.8 408.7,259.9 409.7,260.1 410.6,260.3 411.6,260.4 412.6,260.6 413.6,260.7 414.6,260.9 415.5,261.0 416.5,261.1" fill="none" stroke="#00A651" stroke-width="0.3" stroke-opacity="0.55"/>
<path d="M315.8,262.6L315.8,262.6 316.8,262.6 317.7,262.5 318.7,262.5 319.7,262.4 320.7,262.2 321.6,261.9 322.6,261.5 323.6,260.9 324.6,260.1 325.6,259.1 326.5,257.7 327.5,256.1 328.5,254.1 329.5,251.9 330.4,249.5 331.4,246.9 332.4,244.2 333.4,241.6 334.4,239.0 335.3,236.6 336.3,234.5 337.3,232.6 338.3,231.1 339.2,229.8 340.2,228.8 341.2,228.1 342.2,227.7 343.2,227.4 344.1,227.3 345.1,227.2 346.1,227.2 347.1,228.0 348.1,229.1 349.0,230.3 350.0,231.5 351.0,232.8 352.0,234.1 352.9,235.4 353.9,236.7 354.9,238.0 355.9,239.3 356.9,240.5 357.8,241.7 358.8,242.8 359.8,243.9 360.8,245.0 361.7,246.0 362.7,247.0 363.7,247.9 364.7,248.8 365.7,249.7 366.6,250.5 367.6,251.2 368.6,252.0 369.6,252.6 370.5,253.3 371.5,253.9 372.5,254.5 373.5,255.0 374.5,255.5 375.4,256.0 376.4,256.5 377.4,256.9 378.4,257.3 379.3,257.7 380.3,258.0 381.3,258.4 382.3,258.7 383.3,259.0 384.2,259.2 385.2,259.5 386.2,259.7 387.2,259.9 388.2,260.1 389.1,260.3 390.1,260.5 391.1,260.6 392.1,260.8 393.0,260.9 394.0,261.1 395.0,261.2 396.0,261.3 397.0,261.4 397.9,261.5 398.9,261.6 399.9,261.7 400.9,261.7 401.8,261.8 402.8,261.9 403.8,261.9 404.8,262.0 405.8,262.0 406.7,262.1 407.7,262.1 408.7,262.2 409.7,262.2 410.6,262.2 411.6,262.3 412.6,262.3 413.6,262.3 414.6,262.3 415.5,262.4 415.5,262.6Z" fill="#FFD400" fill-opacity="0.8"/>
<path d="M323.6,260.9 324.6,260.1 325.6,259.1 326.5,257.7 327.5,256.1 328.5,254.1 329.5,251.9 330.4,249.5 331.4,246.9 332.4,244.2 333.4,241.6 334.4,239.0 335.3,236.6 336.3,234.5 337.3,232.6 338.3,231.1 339.2,229.8 340.2,228.8 341.2,228.1 342.2,227.7 343.2,227.4 344.1,227.3 345.1,227.2 346.1,227.2 347.1,228.0 348.1,229.1 349.0,230.3 350.0,231.5 351.0,232.8 352.0,234.1 352.9,235.4 353.9,236.7 354.9,238.0 355.9,239.3 356.9,240.5 357.8,241.7 358.8,242.8 359.8,243.9 360.8,245.0 361.7,246.0 362.7,247.0 363.7,247.9 364.7,248.8 365.7,249.7 366.6,250.5 367.6,251.2 368.6,252.0 369.6,252.6 370.5,253.3 371.5,253.9 372.5,254.5 373.5,255.0 374.5,255.5 375.4,256.0 376.4,256.5 377.4,256.9 378.4,257.3 379.3,257.7 380.3,258.0 381.3,258.4 382.3,258.7 383.3,259.0 384.2,259.2 385.2,259.5 386.2,259.7 387.2,259.9 388.2,260.1 389.1,260.3 390.1,260.5 391.1,260.6 392.1,260.8 393.0,260.9 394.0,261.1" fill="none" stroke="#FFD700" stroke-width="0.3" stroke-opacity="0.55"/>
<path d="M315.8,262.6L315.8,260.0 316.8,259.1 317.7,258.1 318.7,256.8 319.7,255.3 320.7,253.4 321.6,251.3 322.6,248.9 323.6,246.2 324.6,243.2 325.6,240.0 326.5,236.6 327.5,233.1 328.5,229.6 329.5,226.2 330.4,223.1 331.4,220.2 332.4,217.7 333.4,215.8 334.4,214.4 335.3,213.7 336.3,213.7 337.3,214.2 338.3,215.3 339.2,216.9 340.2,219.0 341.2,221.5 342.2,224.3 343.2,227.3 344.1,230.5 345.1,233.7 346.1,237.0 347.1,240.1 348.1,243.1 349.0,245.9 350.0,248.4 351.0,250.7 352.0,252.8 352.9,254.6 353.9,256.1 354.9,257.4 355.9,258.5 356.9,259.4 357.8,260.1 358.8,260.7 359.8,261.2 360.8,261.6 361.7,261.8 362.7,262.0 363.7,262.2 364.7,262.3 365.7,262.4 365.7,262.6Z" fill="#3C8CBE" fill-opacity="0.67"/>
<path d="M315.8,260.0 316.8,259.1 317.7,258.1 318.7,256.8 319.7,255.3 320.7,253.4 321.6,251.3 322.6,248.9 323.6,246.2 324.6,243.2 325.6,240.0 326.5,236.6 327.5,233.1 328.5,229.6 329.5,226.2 330.4,223.1 331.4,220.2 332.4,217.7 333.4,215.8 334.4,214.4 335.3,213.7 336.3,213.7 337.3,214.2 338.3,215.3 339.2,216.9 340.2,219.0 341.2,221.5 342.2,224.3 343.2,227.3 344.1,230.5 345.1,233.7 346.1,237.0 347.1,240.1 348.1,243.1 349.0,245.9 350.0,248.4 351.0,250.7 352.0,252.8 352.9,254.6 353.9,256.1 354.9,257.4 355.9,258.5 356.9,259.4 357.8,260.1 358.8,260.7" fill="none" stroke="#0072B2" stroke-width="0.3" stroke-opacity="0.55"/>
<text x="314.00" y="296.70" font-size="5.2" text-anchor="end" font-weight="bold" fill="#111" stroke="#111" stroke-width="0.12" >2021_S4</text>
<line x1="315.78" y1="294.90" x2="543.50" y2="294.90" stroke="#bcd6dd" stroke-width="0.7"/>
<path d="M315.8,294.9L315.8,294.7 316.8,294.7 317.7,294.7 318.7,294.6 319.7,294.6 320.7,294.5 321.6,294.4 322.6,294.4 323.6,294.3 324.6,294.2 325.6,294.1 326.5,294.0 327.5,293.8 328.5,293.7 329.5,293.5 330.4,293.3 331.4,293.1 332.4,292.9 333.4,292.6 334.4,292.3 335.3,292.0 336.3,291.7 337.3,291.3 338.3,291.0 339.2,290.5 340.2,290.1 341.2,289.6 342.2,289.1 343.2,288.6 344.1,288.0 345.1,287.4 346.1,286.8 347.1,286.1 348.1,285.5 349.0,284.8 350.0,284.0 351.0,283.3 352.0,282.6 352.9,281.8 353.9,281.1 354.9,280.3 355.9,279.6 356.9,278.8 357.8,278.1 358.8,277.4 359.8,276.7 360.8,276.1 361.7,275.4 362.7,274.9 363.7,274.3 364.7,273.9 365.7,273.4 366.6,273.0 367.6,272.7 368.6,272.5 369.6,272.3 370.5,272.2 371.5,272.1 372.5,272.1 373.5,272.2 374.5,272.4 375.4,272.7 376.4,272.9 377.4,273.3 378.4,273.7 379.3,274.1 380.3,274.5 381.3,275.0 382.3,275.5 383.3,276.0 384.2,276.6 385.2,277.1 386.2,277.7 387.2,278.3 388.2,278.8 389.1,279.4 390.1,280.0 391.1,280.6 392.1,281.2 393.0,281.8 394.0,282.4 395.0,283.0 396.0,283.5 397.0,284.1 397.9,284.6 398.9,285.2 399.9,285.7 400.9,286.2 401.8,286.7 402.8,287.2 403.8,287.6 404.8,288.0 405.8,288.5 406.7,288.9 407.7,289.2 408.7,289.6 409.7,290.0 410.6,290.3 411.6,290.6 412.6,290.9 413.6,291.2 414.6,291.5 415.5,291.7 416.5,292.0 417.5,292.2 418.5,292.4 419.4,292.6 420.4,292.8 421.4,292.9 422.4,293.1 423.4,293.3 424.3,293.4 425.3,293.5 426.3,293.6 427.3,293.8 428.2,293.9 429.2,293.9 430.2,294.0 431.2,294.1 432.2,294.2 433.1,294.3 434.1,294.3 435.1,294.4 436.1,294.4 437.1,294.5 438.0,294.5 439.0,294.6 440.0,294.6 441.0,294.6 441.9,294.6 442.9,294.7 442.9,294.9Z" fill="#B4159E" fill-opacity="0.67"/>
<path d="M330.4,293.3 331.4,293.1 332.4,292.9 333.4,292.6 334.4,292.3 335.3,292.0 336.3,291.7 337.3,291.3 338.3,291.0 339.2,290.5 340.2,290.1 341.2,289.6 342.2,289.1 343.2,288.6 344.1,288.0 345.1,287.4 346.1,286.8 347.1,286.1 348.1,285.5 349.0,284.8 350.0,284.0 351.0,283.3 352.0,282.6 352.9,281.8 353.9,281.1 354.9,280.3 355.9,279.6 356.9,278.8 357.8,278.1 358.8,277.4 359.8,276.7 360.8,276.1 361.7,275.4 362.7,274.9 363.7,274.3 364.7,273.9 365.7,273.4 366.6,273.0 367.6,272.7 368.6,272.5 369.6,272.3 370.5,272.2 371.5,272.1 372.5,272.1 373.5,272.2 374.5,272.4 375.4,272.7 376.4,272.9 377.4,273.3 378.4,273.7 379.3,274.1 380.3,274.5 381.3,275.0 382.3,275.5 383.3,276.0 384.2,276.6 385.2,277.1 386.2,277.7 387.2,278.3 388.2,278.8 389.1,279.4 390.1,280.0 391.1,280.6 392.1,281.2 393.0,281.8 394.0,282.4 395.0,283.0 396.0,283.5 397.0,284.1 397.9,284.6 398.9,285.2 399.9,285.7 400.9,286.2 401.8,286.7 402.8,287.2 403.8,287.6 404.8,288.0 405.8,288.5 406.7,288.9 407.7,289.2 408.7,289.6 409.7,290.0 410.6,290.3 411.6,290.6 412.6,290.9 413.6,291.2 414.6,291.5 415.5,291.7 416.5,292.0 417.5,292.2 418.5,292.4 419.4,292.6 420.4,292.8 421.4,292.9 422.4,293.1 423.4,293.3 424.3,293.4" fill="none" stroke="#800080" stroke-width="0.3" stroke-opacity="0.55"/>
<path d="M315.8,294.9L315.8,293.8 316.8,293.7 317.7,293.5 318.7,293.2 319.7,293.0 320.7,292.7 321.6,292.4 322.6,292.0 323.6,291.7 324.6,291.2 325.6,290.8 326.5,290.3 327.5,289.7 328.5,289.2 329.5,288.5 330.4,287.9 331.4,287.2 332.4,286.4 333.4,285.6 334.4,284.8 335.3,283.9 336.3,283.0 337.3,282.1 338.3,281.1 339.2,280.2 340.2,279.2 341.2,278.2 342.2,277.2 343.2,276.2 344.1,275.3 345.1,274.4 346.1,273.5 347.1,272.6 348.1,271.8 349.0,271.1 350.0,270.4 351.0,269.8 352.0,269.2 352.9,268.8 353.9,268.4 354.9,268.2 355.9,268.0 356.9,267.9 357.8,267.9 358.8,268.0 359.8,268.2 360.8,268.4 361.7,268.8 362.7,269.2 363.7,269.6 364.7,270.2 365.7,270.8 366.6,271.4 367.6,272.1 368.6,272.8 369.6,273.6 370.5,274.4 371.5,275.3 372.5,276.2 373.5,277.0 374.5,277.9 375.4,278.8 376.4,279.7 377.4,280.6 378.4,281.5 379.3,282.3 380.3,283.2 381.3,284.0 382.3,284.8 383.3,285.5 384.2,286.3 385.2,286.9 386.2,287.6 387.2,288.2 388.2,288.8 389.1,289.4 390.1,289.9 391.1,290.4 392.1,290.8 393.0,291.2 394.0,291.6 395.0,292.0 396.0,292.3 397.0,292.6 397.9,292.9 398.9,293.1 399.9,293.3 400.9,293.5 401.8,293.7 402.8,293.8 403.8,294.0 404.8,294.1 405.8,294.2 406.7,294.3 407.7,294.4 408.7,294.5 409.7,294.5 410.6,294.6 411.6,294.6 412.6,294.7 412.6,294.9Z" fill="#FF6347" fill-opacity="0.67"/>
<path d="M318.7,293.2 319.7,293.0 320.7,292.7 321.6,292.4 322.6,292.0 323.6,291.7 324.6,291.2 325.6,290.8 326.5,290.3 327.5,289.7 328.5,289.2 329.5,288.5 330.4,287.9 331.4,287.2 332.4,286.4 333.4,285.6 334.4,284.8 335.3,283.9 336.3,283.0 337.3,282.1 338.3,281.1 339.2,280.2 340.2,279.2 341.2,278.2 342.2,277.2 343.2,276.2 344.1,275.3 345.1,274.4 346.1,273.5 347.1,272.6 348.1,271.8 349.0,271.1 350.0,270.4 351.0,269.8 352.0,269.2 352.9,268.8 353.9,268.4 354.9,268.2 355.9,268.0 356.9,267.9 357.8,267.9 358.8,268.0 359.8,268.2 360.8,268.4 361.7,268.8 362.7,269.2 363.7,269.6 364.7,270.2 365.7,270.8 366.6,271.4 367.6,272.1 368.6,272.8 369.6,273.6 370.5,274.4 371.5,275.3 372.5,276.2 373.5,277.0 374.5,277.9 375.4,278.8 376.4,279.7 377.4,280.6 378.4,281.5 379.3,282.3 380.3,283.2 381.3,284.0 382.3,284.8 383.3,285.5 384.2,286.3 385.2,286.9 386.2,287.6 387.2,288.2 388.2,288.8 389.1,289.4 390.1,289.9 391.1,290.4 392.1,290.8 393.0,291.2 394.0,291.6 395.0,292.0 396.0,292.3 397.0,292.6 397.9,292.9 398.9,293.1 399.9,293.3" fill="none" stroke="#FF4500" stroke-width="0.3" stroke-opacity="0.55"/>
<path d="M315.8,294.9L315.8,293.4 316.8,293.1 317.7,292.9 318.7,292.6 319.7,292.4 320.7,292.0 321.6,291.7 322.6,291.3 323.6,290.9 324.6,290.5 325.6,290.0 326.5,289.5 327.5,288.9 328.5,288.3 329.5,287.7 330.4,287.0 331.4,286.3 332.4,285.6 333.4,284.8 334.4,284.0 335.3,283.2 336.3,282.4 337.3,281.5 338.3,280.6 339.2,279.7 340.2,278.8 341.2,277.9 342.2,277.0 343.2,276.1 344.1,275.2 345.1,274.4 346.1,273.5 347.1,272.7 348.1,271.9 349.0,271.2 350.0,270.5 351.0,269.9 352.0,269.3 352.9,268.8 353.9,268.4 354.9,268.0 355.9,267.8 356.9,267.6 357.8,267.4 358.8,267.4 359.8,267.5 360.8,267.6 361.7,267.9 362.7,268.2 363.7,268.7 364.7,269.2 365.7,269.7 366.6,270.3 367.6,271.0 368.6,271.7 369.6,272.5 370.5,273.3 371.5,274.1 372.5,274.9 373.5,275.7 374.5,276.6 375.4,277.5 376.4,278.3 377.4,279.2 378.4,280.0 379.3,280.9 380.3,281.7 381.3,282.5 382.3,283.3 383.3,284.1 384.2,284.8 385.2,285.5 386.2,286.2 387.2,286.8 388.2,287.4 389.1,288.0 390.1,288.6 391.1,289.1 392.1,289.6 393.0,290.0 394.0,290.5 395.0,290.9 396.0,291.3 397.0,291.6 397.9,291.9 398.9,292.2 399.9,292.5 400.9,292.7 401.8,293.0 402.8,293.2 403.8,293.4 404.8,293.5 405.8,293.7 406.7,293.8 407.7,293.9 408.7,294.1 409.7,294.2 410.6,294.2 411.6,294.3 412.6,294.4 413.6,294.5 414.6,294.5 415.5,294.6 416.5,294.6 417.5,294.7 417.5,294.9Z" fill="#37B482" fill-opacity="0.67"/>
<path d="M315.8,293.4 316.8,293.1 317.7,292.9 318.7,292.6 319.7,292.4 320.7,292.0 321.6,291.7 322.6,291.3 323.6,290.9 324.6,290.5 325.6,290.0 326.5,289.5 327.5,288.9 328.5,288.3 329.5,287.7 330.4,287.0 331.4,286.3 332.4,285.6 333.4,284.8 334.4,284.0 335.3,283.2 336.3,282.4 337.3,281.5 338.3,280.6 339.2,279.7 340.2,278.8 341.2,277.9 342.2,277.0 343.2,276.1 344.1,275.2 345.1,274.4 346.1,273.5 347.1,272.7 348.1,271.9 349.0,271.2 350.0,270.5 351.0,269.9 352.0,269.3 352.9,268.8 353.9,268.4 354.9,268.0 355.9,267.8 356.9,267.6 357.8,267.4 358.8,267.4 359.8,267.5 360.8,267.6 361.7,267.9 362.7,268.2 363.7,268.7 364.7,269.2 365.7,269.7 366.6,270.3 367.6,271.0 368.6,271.7 369.6,272.5 370.5,273.3 371.5,274.1 372.5,274.9 373.5,275.7 374.5,276.6 375.4,277.5 376.4,278.3 377.4,279.2 378.4,280.0 379.3,280.9 380.3,281.7 381.3,282.5 382.3,283.3 383.3,284.1 384.2,284.8 385.2,285.5 386.2,286.2 387.2,286.8 388.2,287.4 389.1,288.0 390.1,288.6 391.1,289.1 392.1,289.6 393.0,290.0 394.0,290.5 395.0,290.9 396.0,291.3 397.0,291.6 397.9,291.9 398.9,292.2 399.9,292.5 400.9,292.7 401.8,293.0 402.8,293.2 403.8,293.4" fill="none" stroke="#00A651" stroke-width="0.3" stroke-opacity="0.55"/>
<path d="M315.8,294.9L315.8,294.9 316.8,294.8 317.7,294.8 318.7,294.7 319.7,294.6 320.7,294.5 321.6,294.3 322.6,294.1 323.6,293.7 324.6,293.3 325.6,292.7 326.5,292.0 327.5,291.1 328.5,290.1 329.5,288.9 330.4,287.5 331.4,286.0 332.4,284.3 333.4,282.6 334.4,280.8 335.3,278.9 336.3,277.0 337.3,275.2 338.3,273.4 339.2,271.8 340.2,270.2 341.2,268.8 342.2,267.6 343.2,266.6 344.1,265.7 345.1,265.0 346.1,264.4 347.1,264.0 348.1,263.7 349.0,263.6 350.0,263.5 351.0,263.4 352.0,263.4 352.9,263.4 353.9,263.6 354.9,264.0 355.9,264.4 356.9,265.0 357.8,265.7 358.8,266.4 359.8,267.3 360.8,268.2 361.7,269.2 362.7,270.2 363.7,271.2 364.7,272.3 365.7,273.4 366.6,274.6 367.6,275.7 368.6,276.8 369.6,277.9 370.5,279.0 371.5,280.1 372.5,281.1 373.5,282.1 374.5,283.1 375.4,284.0 376.4,284.9 377.4,285.7 378.4,286.5 379.3,287.2 380.3,287.9 381.3,288.6 382.3,289.2 383.3,289.8 384.2,290.3 385.2,290.8 386.2,291.2 387.2,291.6 388.2,292.0 389.1,292.3 390.1,292.6 391.1,292.9 392.1,293.1 393.0,293.4 394.0,293.6 395.0,293.7 396.0,293.9 397.0,294.0 397.9,294.1 398.9,294.2 399.9,294.3 400.9,294.4 401.8,294.5 402.8,294.5 403.8,294.6 404.8,294.6 405.8,294.7 405.8,294.9Z" fill="#FFD400" fill-opacity="0.8"/>
<path d="M324.6,293.3 325.6,292.7 326.5,292.0 327.5,291.1 328.5,290.1 329.5,288.9 330.4,287.5 331.4,286.0 332.4,284.3 333.4,282.6 334.4,280.8 335.3,278.9 336.3,277.0 337.3,275.2 338.3,273.4 339.2,271.8 340.2,270.2 341.2,268.8 342.2,267.6 343.2,266.6 344.1,265.7 345.1,265.0 346.1,264.4 347.1,264.0 348.1,263.7 349.0,263.6 350.0,263.5 351.0,263.4 352.0,263.4 352.9,263.4 353.9,263.6 354.9,264.0 355.9,264.4 356.9,265.0 357.8,265.7 358.8,266.4 359.8,267.3 360.8,268.2 361.7,269.2 362.7,270.2 363.7,271.2 364.7,272.3 365.7,273.4 366.6,274.6 367.6,275.7 368.6,276.8 369.6,277.9 370.5,279.0 371.5,280.1 372.5,281.1 373.5,282.1 374.5,283.1 375.4,284.0 376.4,284.9 377.4,285.7 378.4,286.5 379.3,287.2 380.3,287.9 381.3,288.6 382.3,289.2 383.3,289.8 384.2,290.3 385.2,290.8 386.2,291.2 387.2,291.6 388.2,292.0 389.1,292.3 390.1,292.6 391.1,292.9 392.1,293.1 393.0,293.4" fill="none" stroke="#FFD700" stroke-width="0.3" stroke-opacity="0.55"/>
<path d="M315.8,294.9L315.8,292.6 316.8,291.9 317.7,291.0 318.7,289.8 319.7,288.5 320.7,286.9 321.6,284.9 322.6,282.7 323.6,280.2 324.6,277.5 325.6,274.5 326.5,271.2 327.5,267.9 328.5,264.4 329.5,261.0 330.4,257.7 331.4,254.6 332.4,251.8 333.4,249.5 334.4,247.6 335.3,246.3 336.3,245.7 337.3,245.7 338.3,246.3 339.2,247.6 340.2,249.5 341.2,251.8 342.2,254.6 343.2,257.7 344.1,261.0 345.1,264.4 346.1,267.9 347.1,271.2 348.1,274.5 349.0,277.5 350.0,280.2 351.0,282.7 352.0,284.9 352.9,286.9 353.9,288.5 354.9,289.8 355.9,291.0 356.9,291.9 357.8,292.6 358.8,293.2 359.8,293.7 360.8,294.0 361.7,294.2 362.7,294.4 363.7,294.6 364.7,294.7 364.7,294.9Z" fill="#3C8CBE" fill-opacity="0.67"/>
<path d="M315.8,292.6 316.8,291.9 317.7,291.0 318.7,289.8 319.7,288.5 320.7,286.9 321.6,284.9 322.6,282.7 323.6,280.2 324.6,277.5 325.6,274.5 326.5,271.2 327.5,267.9 328.5,264.4 329.5,261.0 330.4,257.7 331.4,254.6 332.4,251.8 333.4,249.5 334.4,247.6 335.3,246.3 336.3,245.7 337.3,245.7 338.3,246.3 339.2,247.6 340.2,249.5 341.2,251.8 342.2,254.6 343.2,257.7 344.1,261.0 345.1,264.4 346.1,267.9 347.1,271.2 348.1,274.5 349.0,277.5 350.0,280.2 351.0,282.7 352.0,284.9 352.9,286.9 353.9,288.5 354.9,289.8 355.9,291.0 356.9,291.9 357.8,292.6 358.8,293.2" fill="none" stroke="#0072B2" stroke-width="0.3" stroke-opacity="0.55"/>
<text x="314.00" y="328.90" font-size="5.2" text-anchor="end" font-weight="bold" fill="#111" stroke="#111" stroke-width="0.12" >2022_S1</text>
<line x1="315.78" y1="327.10" x2="543.50" y2="327.10" stroke="#bcd6dd" stroke-width="0.7"/>
<path d="M315.8,327.1L315.8,327.0 316.8,326.9 317.7,326.9 318.7,326.9 319.7,326.8 320.7,326.8 321.6,326.7 322.6,326.7 323.6,326.6 324.6,326.5 325.6,326.5 326.5,326.4 327.5,326.2 328.5,326.1 329.5,326.0 330.4,325.8 331.4,325.6 332.4,325.4 333.4,325.2 334.4,325.0 335.3,324.7 336.3,324.4 337.3,324.1 338.3,323.8 339.2,323.4 340.2,323.0 341.2,322.5 342.2,322.1 343.2,321.6 344.1,321.1 345.1,320.5 346.1,319.9 347.1,319.3 348.1,318.7 349.0,318.0 350.0,317.3 351.0,316.6 352.0,315.9 352.9,315.2 353.9,314.4 354.9,313.7 355.9,312.9 356.9,312.1 357.8,311.4 358.8,310.6 359.8,309.9 360.8,309.2 361.7,308.5 362.7,307.9 363.7,307.3 364.7,306.7 365.7,306.2 366.6,305.7 367.6,305.3 368.6,304.9 369.6,304.6 370.5,304.4 371.5,304.2 372.5,304.1 373.5,304.1 374.5,304.2 375.4,304.3 376.4,304.5 377.4,304.7 378.4,305.0 379.3,305.4 380.3,305.8 381.3,306.2 382.3,306.7 383.3,307.2 384.2,307.8 385.2,308.3 386.2,308.9 387.2,309.5 388.2,310.1 389.1,310.7 390.1,311.4 391.1,312.0 392.1,312.6 393.0,313.3 394.0,313.9 395.0,314.5 396.0,315.1 397.0,315.7 397.9,316.3 398.9,316.9 399.9,317.5 400.9,318.0 401.8,318.6 402.8,319.1 403.8,319.6 404.8,320.1 405.8,320.5 406.7,321.0 407.7,321.4 408.7,321.8 409.7,322.1 410.6,322.5 411.6,322.9 412.6,323.2 413.6,323.5 414.6,323.8 415.5,324.0 416.5,324.3 417.5,324.5 418.5,324.7 419.4,324.9 420.4,325.1 421.4,325.3 422.4,325.5 423.4,325.6 424.3,325.7 425.3,325.9 426.3,326.0 427.3,326.1 428.2,326.2 429.2,326.3 430.2,326.4 431.2,326.4 432.2,326.5 433.1,326.6 434.1,326.6 435.1,326.7 436.1,326.7 437.1,326.8 438.0,326.8 439.0,326.8 440.0,326.9 440.0,327.1Z" fill="#B4159E" fill-opacity="0.67"/>
<path d="M332.4,325.4 333.4,325.2 334.4,325.0 335.3,324.7 336.3,324.4 337.3,324.1 338.3,323.8 339.2,323.4 340.2,323.0 341.2,322.5 342.2,322.1 343.2,321.6 344.1,321.1 345.1,320.5 346.1,319.9 347.1,319.3 348.1,318.7 349.0,318.0 350.0,317.3 351.0,316.6 352.0,315.9 352.9,315.2 353.9,314.4 354.9,313.7 355.9,312.9 356.9,312.1 357.8,311.4 358.8,310.6 359.8,309.9 360.8,309.2 361.7,308.5 362.7,307.9 363.7,307.3 364.7,306.7 365.7,306.2 366.6,305.7 367.6,305.3 368.6,304.9 369.6,304.6 370.5,304.4 371.5,304.2 372.5,304.1 373.5,304.1 374.5,304.2 375.4,304.3 376.4,304.5 377.4,304.7 378.4,305.0 379.3,305.4 380.3,305.8 381.3,306.2 382.3,306.7 383.3,307.2 384.2,307.8 385.2,308.3 386.2,308.9 387.2,309.5 388.2,310.1 389.1,310.7 390.1,311.4 391.1,312.0 392.1,312.6 393.0,313.3 394.0,313.9 395.0,314.5 396.0,315.1 397.0,315.7 397.9,316.3 398.9,316.9 399.9,317.5 400.9,318.0 401.8,318.6 402.8,319.1 403.8,319.6 404.8,320.1 405.8,320.5 406.7,321.0 407.7,321.4 408.7,321.8 409.7,322.1 410.6,322.5 411.6,322.9 412.6,323.2 413.6,323.5 414.6,323.8 415.5,324.0 416.5,324.3 417.5,324.5 418.5,324.7 419.4,324.9 420.4,325.1 421.4,325.3 422.4,325.5" fill="none" stroke="#800080" stroke-width="0.3" stroke-opacity="0.55"/>
<path d="M315.8,327.1L315.8,326.1 316.8,325.9 317.7,325.7 318.7,325.5 319.7,325.3 320.7,325.0 321.6,324.7 322.6,324.3 323.6,324.0 324.6,323.5 325.6,323.1 326.5,322.6 327.5,322.0 328.5,321.5 329.5,320.8 330.4,320.2 331.4,319.4 332.4,318.7 333.4,317.8 334.4,317.0 335.3,316.1 336.3,315.2 337.3,314.2 338.3,313.2 339.2,312.2 340.2,311.2 341.2,310.2 342.2,309.1 343.2,308.1 344.1,307.1 345.1,306.1 346.1,305.1 347.1,304.2 348.1,303.3 349.0,302.5 350.0,301.7 351.0,301.0 352.0,300.4 352.9,299.9 353.9,299.4 354.9,299.1 355.9,298.8 356.9,298.7 357.8,298.6 358.8,298.7 359.8,299.0 360.8,299.3 361.7,299.7 362.7,300.1 363.7,300.6 364.7,301.1 365.7,301.7 366.6,302.3 367.6,302.9 368.6,303.6 369.6,304.2 370.5,304.9 371.5,305.6 372.5,306.3 373.5,307.0 374.5,307.7 375.4,308.4 376.4,309.1 377.4,309.8 378.4,310.5 379.3,311.2 380.3,311.8 381.3,312.5 382.3,313.2 383.3,313.8 384.2,314.4 385.2,315.0 386.2,315.6 387.2,316.2 388.2,316.7 389.1,317.2 390.1,317.7 391.1,318.2 392.1,318.7 393.0,319.2 394.0,319.6 395.0,320.0 396.0,320.5 397.0,320.8 397.9,321.2 398.9,321.6 399.9,321.9 400.9,322.2 401.8,322.5 402.8,322.8 403.8,323.1 404.8,323.4 405.8,323.6 406.7,323.8 407.7,324.1 408.7,324.3 409.7,324.5 410.6,324.6 411.6,324.8 412.6,325.0 413.6,325.1 414.6,325.3 415.5,325.4 416.5,325.5 417.5,325.6 418.5,325.8 419.4,325.9 420.4,326.0 421.4,326.0 422.4,326.1 423.4,326.2 424.3,326.3 425.3,326.3 426.3,326.4 427.3,326.5 428.2,326.5 429.2,326.6 430.2,326.6 431.2,326.6 432.2,326.7 433.1,326.7 434.1,326.8 435.1,326.8 436.1,326.8 437.1,326.8 438.0,326.9 438.0,327.1Z" fill="#FF6347" fill-opacity="0.67"/>
<path d="M318.7,325.5 319.7,325.3 320.7,325.0 321.6,324.7 322.6,324.3 323.6,324.0 324.6,323.5 325.6,323.1 326.5,322.6 327.5,322.0 328.5,321.5 329.5,320.8 330.4,320.2 331.4,319.4 332.4,318.7 333.4,317.8 334.4,317.0 335.3,316.1 336.3,315.2 337.3,314.2 338.3,313.2 339.2,312.2 340.2,311.2 341.2,310.2 342.2,309.1 343.2,308.1 344.1,307.1 345.1,306.1 346.1,305.1 347.1,304.2 348.1,303.3 349.0,302.5 350.0,301.7 351.0,301.0 352.0,300.4 352.9,299.9 353.9,299.4 354.9,299.1 355.9,298.8 356.9,298.7 357.8,298.6 358.8,298.7 359.8,299.0 360.8,299.3 361.7,299.7 362.7,300.1 363.7,300.6 364.7,301.1 365.7,301.7 366.6,302.3 367.6,302.9 368.6,303.6 369.6,304.2 370.5,304.9 371.5,305.6 372.5,306.3 373.5,307.0 374.5,307.7 375.4,308.4 376.4,309.1 377.4,309.8 378.4,310.5 379.3,311.2 380.3,311.8 381.3,312.5 382.3,313.2 383.3,313.8 384.2,314.4 385.2,315.0 386.2,315.6 387.2,316.2 388.2,316.7 389.1,317.2 390.1,317.7 391.1,318.2 392.1,318.7 393.0,319.2 394.0,319.6 395.0,320.0 396.0,320.5 397.0,320.8 397.9,321.2 398.9,321.6 399.9,321.9 400.9,322.2 401.8,322.5 402.8,322.8 403.8,323.1 404.8,323.4 405.8,323.6 406.7,323.8 407.7,324.1 408.7,324.3 409.7,324.5 410.6,324.6 411.6,324.8 412.6,325.0 413.6,325.1 414.6,325.3 415.5,325.4 416.5,325.5" fill="none" stroke="#FF4500" stroke-width="0.3" stroke-opacity="0.55"/>
<path d="M315.8,327.1L315.8,326.2 316.8,326.1 317.7,325.9 318.7,325.7 319.7,325.5 320.7,325.3 321.6,325.0 322.6,324.7 323.6,324.4 324.6,324.0 325.6,323.6 326.5,323.2 327.5,322.7 328.5,322.1 329.5,321.6 330.4,320.9 331.4,320.3 332.4,319.6 333.4,318.8 334.4,318.0 335.3,317.2 336.3,316.3 337.3,315.4 338.3,314.4 339.2,313.5 340.2,312.5 341.2,311.5 342.2,310.5 343.2,309.4 344.1,308.4 345.1,307.4 346.1,306.4 347.1,305.5 348.1,304.6 349.0,303.7 350.0,302.9 351.0,302.1 352.0,301.5 352.9,300.9 353.9,300.3 354.9,299.9 355.9,299.5 356.9,299.3 357.8,299.2 358.8,299.1 359.8,299.2 360.8,299.5 361.7,299.8 362.7,300.3 363.7,300.7 364.7,301.3 365.7,301.8 366.6,302.5 367.6,303.1 368.6,303.8 369.6,304.5 370.5,305.2 371.5,305.9 372.5,306.6 373.5,307.4 374.5,308.1 375.4,308.8 376.4,309.6 377.4,310.3 378.4,311.0 379.3,311.7 380.3,312.4 381.3,313.1 382.3,313.8 383.3,314.4 384.2,315.0 385.2,315.7 386.2,316.3 387.2,316.8 388.2,317.4 389.1,317.9 390.1,318.4 391.1,318.9 392.1,319.4 393.0,319.9 394.0,320.3 395.0,320.7 396.0,321.1 397.0,321.5 397.9,321.9 398.9,322.2 399.9,322.5 400.9,322.8 401.8,323.1 402.8,323.4 403.8,323.7 404.8,323.9 405.8,324.1 406.7,324.4 407.7,324.6 408.7,324.7 409.7,324.9 410.6,325.1 411.6,325.2 412.6,325.4 413.6,325.5 414.6,325.6 415.5,325.8 416.5,325.9 417.5,326.0 418.5,326.1 419.4,326.2 420.4,326.2 421.4,326.3 422.4,326.4 423.4,326.4 424.3,326.5 425.3,326.5 426.3,326.6 427.3,326.6 428.2,326.7 429.2,326.7 430.2,326.8 431.2,326.8 432.2,326.8 433.1,326.8 434.1,326.9 434.1,327.1Z" fill="#37B482" fill-opacity="0.67"/>
<path d="M319.7,325.5 320.7,325.3 321.6,325.0 322.6,324.7 323.6,324.4 324.6,324.0 325.6,323.6 326.5,323.2 327.5,322.7 328.5,322.1 329.5,321.6 330.4,320.9 331.4,320.3 332.4,319.6 333.4,318.8 334.4,318.0 335.3,317.2 336.3,316.3 337.3,315.4 338.3,314.4 339.2,313.5 340.2,312.5 341.2,311.5 342.2,310.5 343.2,309.4 344.1,308.4 345.1,307.4 346.1,306.4 347.1,305.5 348.1,304.6 349.0,303.7 350.0,302.9 351.0,302.1 352.0,301.5 352.9,300.9 353.9,300.3 354.9,299.9 355.9,299.5 356.9,299.3 357.8,299.2 358.8,299.1 359.8,299.2 360.8,299.5 361.7,299.8 362.7,300.3 363.7,300.7 364.7,301.3 365.7,301.8 366.6,302.5 367.6,303.1 368.6,303.8 369.6,304.5 370.5,305.2 371.5,305.9 372.5,306.6 373.5,307.4 374.5,308.1 375.4,308.8 376.4,309.6 377.4,310.3 378.4,311.0 379.3,311.7 380.3,312.4 381.3,313.1 382.3,313.8 383.3,314.4 384.2,315.0 385.2,315.7 386.2,316.3 387.2,316.8 388.2,317.4 389.1,317.9 390.1,318.4 391.1,318.9 392.1,319.4 393.0,319.9 394.0,320.3 395.0,320.7 396.0,321.1 397.0,321.5 397.9,321.9 398.9,322.2 399.9,322.5 400.9,322.8 401.8,323.1 402.8,323.4 403.8,323.7 404.8,323.9 405.8,324.1 406.7,324.4 407.7,324.6 408.7,324.7 409.7,324.9 410.6,325.1 411.6,325.2 412.6,325.4 413.6,325.5" fill="none" stroke="#00A651" stroke-width="0.3" stroke-opacity="0.55"/>
<path d="M315.8,327.1L315.8,327.0 316.8,327.0 317.7,327.0 318.7,326.9 319.7,326.8 320.7,326.7 321.6,326.5 322.6,326.3 323.6,326.0 324.6,325.6 325.6,325.1 326.5,324.4 327.5,323.6 328.5,322.6 329.5,321.4 330.4,320.0 331.4,318.5 332.4,316.7 333.4,314.8 334.4,312.8 335.3,310.7 336.3,308.6 337.3,306.5 338.3,304.5 339.2,302.5 340.2,300.7 341.2,299.1 342.2,297.6 343.2,296.3 344.1,295.2 345.1,294.4 346.1,293.7 347.1,293.1 348.1,292.8 349.0,292.5 350.0,292.4 351.0,292.9 352.0,293.8 352.9,295.2 353.9,296.9 354.9,298.9 355.9,301.0 356.9,303.2 357.8,305.4 358.8,307.5 359.8,309.5 360.8,311.3 361.7,312.9 362.7,314.4 363.7,315.6 364.7,316.7 365.7,317.6 366.6,318.3 367.6,319.0 368.6,319.6 369.6,320.0 370.5,320.5 371.5,320.9 372.5,321.2 373.5,321.5 374.5,321.8 375.4,322.1 376.4,322.4 377.4,322.7 378.4,323.0 379.3,323.2 380.3,323.5 381.3,323.7 382.3,323.9 383.3,324.2 384.2,324.4 385.2,324.6 386.2,324.8 387.2,325.0 388.2,325.1 389.1,325.3 390.1,325.4 391.1,325.6 392.1,325.7 393.0,325.9 394.0,326.0 395.0,326.1 396.0,326.2 397.0,326.3 397.9,326.4 398.9,326.4 399.9,326.5 400.9,326.6 401.8,326.6 402.8,326.7 403.8,326.7 404.8,326.8 405.8,326.8 406.7,326.8 407.7,326.9 407.7,327.1Z" fill="#FFD400" fill-opacity="0.8"/>
<path d="M325.6,325.1 326.5,324.4 327.5,323.6 328.5,322.6 329.5,321.4 330.4,320.0 331.4,318.5 332.4,316.7 333.4,314.8 334.4,312.8 335.3,310.7 336.3,308.6 337.3,306.5 338.3,304.5 339.2,302.5 340.2,300.7 341.2,299.1 342.2,297.6 343.2,296.3 344.1,295.2 345.1,294.4 346.1,293.7 347.1,293.1 348.1,292.8 349.0,292.5 350.0,292.4 351.0,292.9 352.0,293.8 352.9,295.2 353.9,296.9 354.9,298.9 355.9,301.0 356.9,303.2 357.8,305.4 358.8,307.5 359.8,309.5 360.8,311.3 361.7,312.9 362.7,314.4 363.7,315.6 364.7,316.7 365.7,317.6 366.6,318.3 367.6,319.0 368.6,319.6 369.6,320.0 370.5,320.5 371.5,320.9 372.5,321.2 373.5,321.5 374.5,321.8 375.4,322.1 376.4,322.4 377.4,322.7 378.4,323.0 379.3,323.2 380.3,323.5 381.3,323.7 382.3,323.9 383.3,324.2 384.2,324.4 385.2,324.6 386.2,324.8 387.2,325.0 388.2,325.1 389.1,325.3 390.1,325.4 391.1,325.6" fill="none" stroke="#FFD700" stroke-width="0.3" stroke-opacity="0.55"/>
<path d="M315.8,327.1L315.8,325.3 316.8,324.6 317.7,323.6 318.7,322.5 319.7,321.0 320.7,319.2 321.6,317.1 322.6,314.6 323.6,311.7 324.6,308.4 325.6,304.9 326.5,301.2 327.5,297.3 328.5,293.5 329.5,289.7 330.4,286.3 331.4,283.3 332.4,280.9 333.4,279.1 334.4,278.2 335.3,278.0 336.3,278.6 337.3,279.9 338.3,281.8 339.2,284.2 340.2,287.1 341.2,290.3 342.2,293.8 343.2,297.3 344.1,300.9 345.1,304.3 346.1,307.6 347.1,310.7 348.1,313.4 349.0,315.9 350.0,318.1 351.0,319.9 352.0,321.5 352.9,322.7 353.9,323.8 354.9,324.6 355.9,325.2 356.9,325.7 357.8,326.1 358.8,326.4 359.8,326.6 360.8,326.8 361.7,326.9 361.7,327.1Z" fill="#3C8CBE" fill-opacity="0.67"/>
<path d="M315.8,325.3 316.8,324.6 317.7,323.6 318.7,322.5 319.7,321.0 320.7,319.2 321.6,317.1 322.6,314.6 323.6,311.7 324.6,308.4 325.6,304.9 326.5,301.2 327.5,297.3 328.5,293.5 329.5,289.7 330.4,286.3 331.4,283.3 332.4,280.9 333.4,279.1 334.4,278.2 335.3,278.0 336.3,278.6 337.3,279.9 338.3,281.8 339.2,284.2 340.2,287.1 341.2,290.3 342.2,293.8 343.2,297.3 344.1,300.9 345.1,304.3 346.1,307.6 347.1,310.7 348.1,313.4 349.0,315.9 350.0,318.1 351.0,319.9 352.0,321.5 352.9,322.7 353.9,323.8 354.9,324.6 355.9,325.2" fill="none" stroke="#0072B2" stroke-width="0.3" stroke-opacity="0.55"/>
<text x="347.40" y="333.70" font-size="5.2" text-anchor="middle" font-weight="bold" fill="#111" stroke="#111" stroke-width="0.12" >10</text>
<text x="380.00" y="333.70" font-size="5.2" text-anchor="middle" font-weight="bold" fill="#111" stroke="#111" stroke-width="0.12" >20</text>
<text x="412.60" y="333.70" font-size="5.2" text-anchor="middle" font-weight="bold" fill="#111" stroke="#111" stroke-width="0.12" >30</text>
<text x="445.20" y="333.70" font-size="5.2" text-anchor="middle" font-weight="bold" fill="#111" stroke="#111" stroke-width="0.12" >40</text>
<text x="477.80" y="333.70" font-size="5.2" text-anchor="middle" font-weight="bold" fill="#111" stroke="#111" stroke-width="0.12" >50</text>
<text x="510.40" y="333.70" font-size="5.2" text-anchor="middle" font-weight="bold" fill="#111" stroke="#111" stroke-width="0.12" >60</text>
<text x="430.00" y="340.40" font-size="6.4" text-anchor="middle" font-weight="bold" fill="#111" stroke="#111" stroke-width="0.12" >Height (RFU)</text>
<line x1="526.80" y1="182.90" x2="532.60" y2="182.90" stroke="#800080" stroke-width="2.3" stroke-linecap="round"/>
<text x="537.00" y="184.30" font-size="4.0" text-anchor="start" font-weight="bold" fill="#111" stroke="#111" stroke-width="0.12" >P</text>
<line x1="526.80" y1="188.35" x2="532.60" y2="188.35" stroke="#FF4500" stroke-width="2.3" stroke-linecap="round"/>
<text x="537.00" y="189.75" font-size="4.0" text-anchor="start" font-weight="bold" fill="#111" stroke="#111" stroke-width="0.12" >R</text>
<line x1="526.80" y1="193.80" x2="532.60" y2="193.80" stroke="#00A651" stroke-width="2.3" stroke-linecap="round"/>
<text x="537.00" y="195.20" font-size="4.0" text-anchor="start" font-weight="bold" fill="#111" stroke="#111" stroke-width="0.12" >G</text>
<line x1="526.80" y1="199.25" x2="532.60" y2="199.25" stroke="#FFD700" stroke-width="2.3" stroke-linecap="round"/>
<text x="537.00" y="200.65" font-size="4.0" text-anchor="start" font-weight="bold" fill="#111" stroke="#111" stroke-width="0.12" >Y</text>
<line x1="526.80" y1="204.70" x2="532.60" y2="204.70" stroke="#0072B2" stroke-width="2.3" stroke-linecap="round"/>
<text x="537.00" y="206.10" font-size="4.0" text-anchor="start" font-weight="bold" fill="#111" stroke="#111" stroke-width="0.12" >B</text>
<line x1="347.40" y1="344.40" x2="347.40" y2="495.38" stroke="#ebebeb" stroke-width="0.6"/>
<line x1="380.00" y1="344.40" x2="380.00" y2="495.38" stroke="#ebebeb" stroke-width="0.6"/>
<line x1="412.60" y1="344.40" x2="412.60" y2="495.38" stroke="#ebebeb" stroke-width="0.6"/>
<line x1="445.20" y1="344.40" x2="445.20" y2="495.38" stroke="#ebebeb" stroke-width="0.6"/>
<line x1="477.80" y1="344.40" x2="477.80" y2="495.38" stroke="#ebebeb" stroke-width="0.6"/>
<line x1="510.40" y1="344.40" x2="510.40" y2="495.38" stroke="#ebebeb" stroke-width="0.6"/>
<text x="314.00" y="389.80" font-size="5.2" text-anchor="end" font-weight="bold" fill="#111" stroke="#111" stroke-width="0.12" >2020_S2</text>
<line x1="315.78" y1="388.00" x2="543.50" y2="388.00" stroke="#bcd6dd" stroke-width="0.7"/>
<path d="M315.8,388.0L315.8,387.3 316.8,387.1 317.7,386.9 318.7,386.6 319.7,386.2 320.7,385.8 321.6,385.3 322.6,384.7 323.6,384.0 324.6,383.2 325.6,382.3 326.5,381.3 327.5,380.2 328.5,379.0 329.5,377.7 330.4,376.4 331.4,375.0 332.4,373.6 333.4,372.2 334.4,370.9 335.3,369.6 336.3,368.4 337.3,367.4 338.3,366.5 339.2,365.8 340.2,365.3 341.2,365.1 342.2,365.0 343.2,365.3 344.1,365.9 345.1,366.6 346.1,367.4 347.1,368.4 348.1,369.4 349.0,370.5 350.0,371.6 351.0,372.7 352.0,373.9 352.9,375.0 353.9,376.1 354.9,377.1 355.9,378.2 356.9,379.1 357.8,380.0 358.8,380.9 359.8,381.7 360.8,382.4 361.7,383.1 362.7,383.7 363.7,384.2 364.7,384.7 365.7,385.1 366.6,385.5 367.6,385.9 368.6,386.2 369.6,386.5 370.5,386.7 371.5,386.9 372.5,387.1 373.5,387.2 374.5,387.3 375.4,387.5 376.4,387.6 377.4,387.6 378.4,387.7 379.3,387.7 380.3,387.8 380.3,388.0Z" fill="#B4159E" fill-opacity="0.67"/>
<path d="M319.7,386.2 320.7,385.8 321.6,385.3 322.6,384.7 323.6,384.0 324.6,383.2 325.6,382.3 326.5,381.3 327.5,380.2 328.5,379.0 329.5,377.7 330.4,376.4 331.4,375.0 332.4,373.6 333.4,372.2 334.4,370.9 335.3,369.6 336.3,368.4 337.3,367.4 338.3,366.5 339.2,365.8 340.2,365.3 341.2,365.1 342.2,365.0 343.2,365.3 344.1,365.9 345.1,366.6 346.1,367.4 347.1,368.4 348.1,369.4 349.0,370.5 350.0,371.6 351.0,372.7 352.0,373.9 352.9,375.0 353.9,376.1 354.9,377.1 355.9,378.2 356.9,379.1 357.8,380.0 358.8,380.9 359.8,381.7 360.8,382.4 361.7,383.1 362.7,383.7 363.7,384.2 364.7,384.7 365.7,385.1 366.6,385.5 367.6,385.9 368.6,386.2 369.6,386.5" fill="none" stroke="#800080" stroke-width="0.3" stroke-opacity="0.55"/>
<path d="M315.8,388.0L315.8,387.0 316.8,386.6 317.7,386.2 318.7,385.6 319.7,384.9 320.7,384.1 321.6,383.0 322.6,381.8 323.6,380.5 324.6,378.9 325.6,377.2 326.5,375.3 327.5,373.4 328.5,371.4 329.5,369.3 330.4,367.3 331.4,365.5 332.4,363.8 333.4,362.4 334.4,361.2 335.3,360.4 336.3,360.1 337.3,360.0 338.3,360.4 339.2,361.1 340.2,362.2 341.2,363.5 342.2,365.1 343.2,366.9 344.1,368.7 345.1,370.7 346.1,372.6 347.1,374.6 348.1,376.4 349.0,378.1 350.0,379.7 351.0,381.1 352.0,382.3 352.9,383.4 353.9,384.4 354.9,385.1 355.9,385.8 356.9,386.3 357.8,386.7 358.8,387.0 359.8,387.3 360.8,387.5 361.7,387.6 362.7,387.7 363.7,387.8 363.7,388.0Z" fill="#FF6347" fill-opacity="0.67"/>
<path d="M317.7,386.2 318.7,385.6 319.7,384.9 320.7,384.1 321.6,383.0 322.6,381.8 323.6,380.5 324.6,378.9 325.6,377.2 326.5,375.3 327.5,373.4 328.5,371.4 329.5,369.3 330.4,367.3 331.4,365.5 332.4,363.8 333.4,362.4 334.4,361.2 335.3,360.4 336.3,360.1 337.3,360.0 338.3,360.4 339.2,361.1 340.2,362.2 341.2,363.5 342.2,365.1 343.2,366.9 344.1,368.7 345.1,370.7 346.1,372.6 347.1,374.6 348.1,376.4 349.0,378.1 350.0,379.7 351.0,381.1 352.0,382.3 352.9,383.4 353.9,384.4 354.9,385.1 355.9,385.8 356.9,386.3" fill="none" stroke="#FF4500" stroke-width="0.3" stroke-opacity="0.55"/>
<path d="M315.8,388.0L315.8,387.7 316.8,387.6 317.7,387.4 318.7,387.1 319.7,386.8 320.7,386.5 321.6,386.0 322.6,385.4 323.6,384.6 324.6,383.7 325.6,382.7 326.5,381.5 327.5,380.1 328.5,378.6 329.5,377.0 330.4,375.2 331.4,373.4 332.4,371.6 333.4,369.8 334.4,368.2 335.3,366.6 336.3,365.3 337.3,364.2 338.3,363.5 339.2,363.1 340.2,363.0 341.2,363.4 342.2,364.0 343.2,364.8 344.1,365.7 345.1,366.7 346.1,367.9 347.1,369.1 348.1,370.3 349.0,371.6 350.0,372.8 351.0,374.1 352.0,375.3 352.9,376.4 353.9,377.5 354.9,378.6 355.9,379.6 356.9,380.5 357.8,381.4 358.8,382.1 359.8,382.9 360.8,383.5 361.7,384.1 362.7,384.6 363.7,385.1 364.7,385.5 365.7,385.8 366.6,386.2 367.6,386.4 368.6,386.7 369.6,386.9 370.5,387.1 371.5,387.2 372.5,387.4 373.5,387.5 374.5,387.6 375.4,387.6 376.4,387.7 377.4,387.8 377.4,388.0Z" fill="#37B482" fill-opacity="0.67"/>
<path d="M320.7,386.5 321.6,386.0 322.6,385.4 323.6,384.6 324.6,383.7 325.6,382.7 326.5,381.5 327.5,380.1 328.5,378.6 329.5,377.0 330.4,375.2 331.4,373.4 332.4,371.6 333.4,369.8 334.4,368.2 335.3,366.6 336.3,365.3 337.3,364.2 338.3,363.5 339.2,363.1 340.2,363.0 341.2,363.4 342.2,364.0 343.2,364.8 344.1,365.7 345.1,366.7 346.1,367.9 347.1,369.1 348.1,370.3 349.0,371.6 350.0,372.8 351.0,374.1 352.0,375.3 352.9,376.4 353.9,377.5 354.9,378.6 355.9,379.6 356.9,380.5 357.8,381.4 358.8,382.1 359.8,382.9 360.8,383.5 361.7,384.1 362.7,384.6 363.7,385.1 364.7,385.5 365.7,385.8 366.6,386.2 367.6,386.4" fill="none" stroke="#00A651" stroke-width="0.3" stroke-opacity="0.55"/>
<path d="M315.8,388.0L315.8,384.7 316.8,383.3 317.7,381.4 318.7,379.0 319.7,376.1 320.7,372.9 321.6,369.3 322.6,365.5 323.6,361.9 324.6,358.6 325.6,355.8 326.5,354.0 327.5,353.1 328.5,353.1 329.5,353.7 330.4,354.7 331.4,356.2 332.4,358.1 333.4,360.2 334.4,362.6 335.3,365.1 336.3,367.6 337.3,370.1 338.3,372.6 339.2,374.9 340.2,377.0 341.2,378.9 342.2,380.6 343.2,382.0 344.1,383.3 345.1,384.3 346.1,385.2 347.1,385.8 348.1,386.4 349.0,386.8 350.0,387.1 351.0,387.4 352.0,387.6 352.9,387.7 353.9,387.8 353.9,388.0Z" fill="#FFD400" fill-opacity="0.8"/>
<path d="M315.8,384.7 316.8,383.3 317.7,381.4 318.7,379.0 319.7,376.1 320.7,372.9 321.6,369.3 322.6,365.5 323.6,361.9 324.6,358.6 325.6,355.8 326.5,354.0 327.5,353.1 328.5,353.1 329.5,353.7 330.4,354.7 331.4,356.2 332.4,358.1 333.4,360.2 334.4,362.6 335.3,365.1 336.3,367.6 337.3,370.1 338.3,372.6 339.2,374.9 340.2,377.0 341.2,378.9 342.2,380.6 343.2,382.0 344.1,383.3 345.1,384.3 346.1,385.2 347.1,385.8 348.1,386.4" fill="none" stroke="#FFD700" stroke-width="0.3" stroke-opacity="0.55"/>
<path d="M315.8,388.0L315.8,384.7 316.8,383.1 317.7,381.0 318.7,378.2 319.7,374.8 320.7,370.9 321.6,366.6 322.6,362.2 323.6,357.8 324.6,354.0 325.6,351.0 326.5,349.2 327.5,348.6 328.5,349.2 329.5,350.8 330.4,353.2 331.4,356.3 332.4,359.8 333.4,363.6 334.4,367.4 335.3,371.1 336.3,374.4 337.3,377.4 338.3,379.9 339.2,382.0 340.2,383.7 341.2,384.9 342.2,385.9 343.2,386.6 344.1,387.1 345.1,387.4 346.1,387.6 347.1,387.8 347.1,388.0Z" fill="#3C8CBE" fill-opacity="0.67"/>
<path d="M315.8,384.7 316.8,383.1 317.7,381.0 318.7,378.2 319.7,374.8 320.7,370.9 321.6,366.6 322.6,362.2 323.6,357.8 324.6,354.0 325.6,351.0 326.5,349.2 327.5,348.6 328.5,349.2 329.5,350.8 330.4,353.2 331.4,356.3 332.4,359.8 333.4,363.6 334.4,367.4 335.3,371.1 336.3,374.4 337.3,377.4 338.3,379.9 339.2,382.0 340.2,383.7 341.2,384.9 342.2,385.9" fill="none" stroke="#0072B2" stroke-width="0.3" stroke-opacity="0.55"/>
<text x="314.00" y="416.52" font-size="5.2" text-anchor="end" font-weight="bold" fill="#111" stroke="#111" stroke-width="0.12" >2021_S3</text>
<line x1="315.78" y1="414.72" x2="543.50" y2="414.72" stroke="#bcd6dd" stroke-width="0.7"/>
<path d="M315.8,414.7L315.8,414.6 316.8,414.6 317.7,414.6 318.7,414.5 319.7,414.5 320.7,414.4 321.6,414.4 322.6,414.3 323.6,414.2 324.6,414.1 325.6,414.0 326.5,413.8 327.5,413.6 328.5,413.4 329.5,413.2 330.4,412.9 331.4,412.6 332.4,412.2 333.4,411.8 334.4,411.4 335.3,410.9 336.3,410.3 337.3,409.7 338.3,409.1 339.2,408.4 340.2,407.7 341.2,406.9 342.2,406.1 343.2,405.2 344.1,404.4 345.1,403.5 346.1,402.6 347.1,401.7 348.1,400.8 349.0,400.0 350.0,399.2 351.0,398.4 352.0,397.7 352.9,397.1 353.9,396.5 354.9,396.1 355.9,395.7 356.9,395.4 357.8,395.3 358.8,395.2 359.8,395.3 360.8,395.4 361.7,395.6 362.7,395.9 363.7,396.2 364.7,396.6 365.7,397.0 366.6,397.4 367.6,397.9 368.6,398.4 369.6,399.0 370.5,399.5 371.5,400.1 372.5,400.7 373.5,401.3 374.5,401.9 375.4,402.5 376.4,403.1 377.4,403.7 378.4,404.3 379.3,404.9 380.3,405.4 381.3,406.0 382.3,406.5 383.3,407.1 384.2,407.6 385.2,408.1 386.2,408.5 387.2,409.0 388.2,409.4 389.1,409.8 390.1,410.2 391.1,410.5 392.1,410.9 393.0,411.2 394.0,411.5 395.0,411.8 396.0,412.0 397.0,412.3 397.9,412.5 398.9,412.7 399.9,412.9 400.9,413.1 401.8,413.2 402.8,413.4 403.8,413.5 404.8,413.7 405.8,413.8 406.7,413.9 407.7,414.0 408.7,414.0 409.7,414.1 410.6,414.2 411.6,414.3 412.6,414.3 413.6,414.4 414.6,414.4 415.5,414.4 416.5,414.5 416.5,414.7Z" fill="#B4159E" fill-opacity="0.67"/>
<path d="M329.5,413.2 330.4,412.9 331.4,412.6 332.4,412.2 333.4,411.8 334.4,411.4 335.3,410.9 336.3,410.3 337.3,409.7 338.3,409.1 339.2,408.4 340.2,407.7 341.2,406.9 342.2,406.1 343.2,405.2 344.1,404.4 345.1,403.5 346.1,402.6 347.1,401.7 348.1,400.8 349.0,400.0 350.0,399.2 351.0,398.4 352.0,397.7 352.9,397.1 353.9,396.5 354.9,396.1 355.9,395.7 356.9,395.4 357.8,395.3 358.8,395.2 359.8,395.3 360.8,395.4 361.7,395.6 362.7,395.9 363.7,396.2 364.7,396.6 365.7,397.0 366.6,397.4 367.6,397.9 368.6,398.4 369.6,399.0 370.5,399.5 371.5,400.1 372.5,400.7 373.5,401.3 374.5,401.9 375.4,402.5 376.4,403.1 377.4,403.7 378.4,404.3 379.3,404.9 380.3,405.4 381.3,406.0 382.3,406.5 383.3,407.1 384.2,407.6 385.2,408.1 386.2,408.5 387.2,409.0 388.2,409.4 389.1,409.8 390.1,410.2 391.1,410.5 392.1,410.9 393.0,411.2 394.0,411.5 395.0,411.8 396.0,412.0 397.0,412.3 397.9,412.5 398.9,412.7 399.9,412.9 400.9,413.1" fill="none" stroke="#800080" stroke-width="0.3" stroke-opacity="0.55"/>
<path d="M315.8,414.7L315.8,414.7 316.8,414.6 317.7,414.6 318.7,414.5 319.7,414.5 320.7,414.4 321.6,414.3 322.6,414.1 323.6,413.9 324.6,413.7 325.6,413.4 326.5,413.1 327.5,412.7 328.5,412.2 329.5,411.6 330.4,410.9 331.4,410.1 332.4,409.2 333.4,408.1 334.4,407.0 335.3,405.7 336.3,404.4 337.3,403.0 338.3,401.5 339.2,399.9 340.2,398.4 341.2,396.8 342.2,395.3 343.2,394.0 344.1,392.7 345.1,391.6 346.1,390.6 347.1,389.9 348.1,389.4 349.0,389.1 350.0,389.1 351.0,389.3 352.0,389.6 352.9,390.0 353.9,390.6 354.9,391.2 355.9,392.0 356.9,392.9 357.8,393.9 358.8,394.9 359.8,396.0 360.8,397.1 361.7,398.3 362.7,399.4 363.7,400.6 364.7,401.7 365.7,402.9 366.6,403.9 367.6,405.0 368.6,406.0 369.6,406.9 370.5,407.8 371.5,408.6 372.5,409.3 373.5,410.0 374.5,410.6 375.4,411.2 376.4,411.7 377.4,412.1 378.4,412.5 379.3,412.9 380.3,413.2 381.3,413.4 382.3,413.6 383.3,413.8 384.2,414.0 385.2,414.1 386.2,414.2 387.2,414.3 388.2,414.4 389.1,414.5 390.1,414.5 390.1,414.7Z" fill="#FF6347" fill-opacity="0.67"/>
<path d="M326.5,413.1 327.5,412.7 328.5,412.2 329.5,411.6 330.4,410.9 331.4,410.1 332.4,409.2 333.4,408.1 334.4,407.0 335.3,405.7 336.3,404.4 337.3,403.0 338.3,401.5 339.2,399.9 340.2,398.4 341.2,396.8 342.2,395.3 343.2,394.0 344.1,392.7 345.1,391.6 346.1,390.6 347.1,389.9 348.1,389.4 349.0,389.1 350.0,389.1 351.0,389.3 352.0,389.6 352.9,390.0 353.9,390.6 354.9,391.2 355.9,392.0 356.9,392.9 357.8,393.9 358.8,394.9 359.8,396.0 360.8,397.1 361.7,398.3 362.7,399.4 363.7,400.6 364.7,401.7 365.7,402.9 366.6,403.9 367.6,405.0 368.6,406.0 369.6,406.9 370.5,407.8 371.5,408.6 372.5,409.3 373.5,410.0 374.5,410.6 375.4,411.2 376.4,411.7 377.4,412.1 378.4,412.5 379.3,412.9 380.3,413.2" fill="none" stroke="#FF4500" stroke-width="0.3" stroke-opacity="0.55"/>
<path d="M315.8,414.7L315.8,414.4 316.8,414.3 317.7,414.1 318.7,414.0 319.7,413.8 320.7,413.6 321.6,413.3 322.6,413.0 323.6,412.6 324.6,412.2 325.6,411.6 326.5,411.1 327.5,410.4 328.5,409.7 329.5,408.9 330.4,407.9 331.4,407.0 332.4,405.9 333.4,404.8 334.4,403.6 335.3,402.3 336.3,401.0 337.3,399.7 338.3,398.4 339.2,397.1 340.2,395.8 341.2,394.6 342.2,393.4 343.2,392.4 344.1,391.5 345.1,390.7 346.1,390.0 347.1,389.6 348.1,389.3 349.0,389.2 350.0,389.3 351.0,389.6 352.0,390.0 352.9,390.6 353.9,391.2 354.9,392.0 355.9,392.8 356.9,393.6 357.8,394.6 358.8,395.5 359.8,396.5 360.8,397.6 361.7,398.6 362.7,399.6 363.7,400.6 364.7,401.6 365.7,402.6 366.6,403.5 367.6,404.4 368.6,405.3 369.6,406.1 370.5,406.9 371.5,407.6 372.5,408.3 373.5,408.9 374.5,409.5 375.4,410.1 376.4,410.6 377.4,411.0 378.4,411.5 379.3,411.8 380.3,412.2 381.3,412.5 382.3,412.8 383.3,413.0 384.2,413.3 385.2,413.5 386.2,413.6 387.2,413.8 388.2,413.9 389.1,414.0 390.1,414.1 391.1,414.2 392.1,414.3 393.0,414.4 394.0,414.4 395.0,414.5 396.0,414.5 396.0,414.7Z" fill="#37B482" fill-opacity="0.67"/>
<path d="M322.6,413.0 323.6,412.6 324.6,412.2 325.6,411.6 326.5,411.1 327.5,410.4 328.5,409.7 329.5,408.9 330.4,407.9 331.4,407.0 332.4,405.9 333.4,404.8 334.4,403.6 335.3,402.3 336.3,401.0 337.3,399.7 338.3,398.4 339.2,397.1 340.2,395.8 341.2,394.6 342.2,393.4 343.2,392.4 344.1,391.5 345.1,390.7 346.1,390.0 347.1,389.6 348.1,389.3 349.0,389.2 350.0,389.3 351.0,389.6 352.0,390.0 352.9,390.6 353.9,391.2 354.9,392.0 355.9,392.8 356.9,393.6 357.8,394.6 358.8,395.5 359.8,396.5 360.8,397.6 361.7,398.6 362.7,399.6 363.7,400.6 364.7,401.6 365.7,402.6 366.6,403.5 367.6,404.4 368.6,405.3 369.6,406.1 370.5,406.9 371.5,407.6 372.5,408.3 373.5,408.9 374.5,409.5 375.4,410.1 376.4,410.6 377.4,411.0 378.4,411.5 379.3,411.8 380.3,412.2 381.3,412.5 382.3,412.8 383.3,413.0" fill="none" stroke="#00A651" stroke-width="0.3" stroke-opacity="0.55"/>
<path d="M315.8,414.7L315.8,414.7 316.8,414.7 317.7,414.7 318.7,414.7 319.7,414.6 320.7,414.5 321.6,414.3 322.6,413.9 323.6,413.2 324.6,412.1 325.6,410.7 326.5,408.8 327.5,406.4 328.5,403.7 329.5,400.8 330.4,397.8 331.4,394.9 332.4,392.2 333.4,389.9 334.4,388.0 335.3,386.4 336.3,385.3 337.3,384.5 338.3,384.1 339.2,383.8 340.2,383.7 341.2,383.6 342.2,383.6 343.2,384.4 344.1,385.9 345.1,387.5 346.1,389.2 347.1,391.0 348.1,392.8 349.0,394.6 350.0,396.2 351.0,397.9 352.0,399.4 352.9,400.8 353.9,402.2 354.9,403.4 355.9,404.6 356.9,405.6 357.8,406.6 358.8,407.5 359.8,408.3 360.8,409.0 361.7,409.7 362.7,410.3 363.7,410.8 364.7,411.3 365.7,411.7 366.6,412.1 367.6,412.4 368.6,412.7 369.6,413.0 370.5,413.2 371.5,413.4 372.5,413.6 373.5,413.7 374.5,413.9 375.4,414.0 376.4,414.1 377.4,414.2 378.4,414.2 379.3,414.3 380.3,414.4 381.3,414.4 382.3,414.5 383.3,414.5 383.3,414.7Z" fill="#FFD400" fill-opacity="0.8"/>
<path d="M323.6,413.2 324.6,412.1 325.6,410.7 326.5,408.8 327.5,406.4 328.5,403.7 329.5,400.8 330.4,397.8 331.4,394.9 332.4,392.2 333.4,389.9 334.4,388.0 335.3,386.4 336.3,385.3 337.3,384.5 338.3,384.1 339.2,383.8 340.2,383.7 341.2,383.6 342.2,383.6 343.2,384.4 344.1,385.9 345.1,387.5 346.1,389.2 347.1,391.0 348.1,392.8 349.0,394.6 350.0,396.2 351.0,397.9 352.0,399.4 352.9,400.8 353.9,402.2 354.9,403.4 355.9,404.6 356.9,405.6 357.8,406.6 358.8,407.5 359.8,408.3 360.8,409.0 361.7,409.7 362.7,410.3 363.7,410.8 364.7,411.3 365.7,411.7 366.6,412.1 367.6,412.4 368.6,412.7 369.6,413.0 370.5,413.2" fill="none" stroke="#FFD700" stroke-width="0.3" stroke-opacity="0.55"/>
<path d="M315.8,414.7L315.8,412.8 316.8,412.0 317.7,410.9 318.7,409.5 319.7,407.7 320.7,405.5 321.6,402.9 322.6,399.9 323.6,396.6 324.6,393.2 325.6,389.6 326.5,386.1 327.5,382.9 328.5,380.2 329.5,378.1 330.4,376.8 331.4,376.4 332.4,376.8 333.4,378.0 334.4,379.9 335.3,382.3 336.3,385.1 337.3,388.3 338.3,391.6 339.2,394.9 340.2,398.1 341.2,401.0 342.2,403.7 343.2,406.0 344.1,408.0 345.1,409.6 346.1,410.9 347.1,411.9 348.1,412.7 349.0,413.3 350.0,413.8 351.0,414.1 352.0,414.3 352.9,414.4 353.9,414.5 353.9,414.7Z" fill="#3C8CBE" fill-opacity="0.67"/>
<path d="M315.8,412.8 316.8,412.0 317.7,410.9 318.7,409.5 319.7,407.7 320.7,405.5 321.6,402.9 322.6,399.9 323.6,396.6 324.6,393.2 325.6,389.6 326.5,386.1 327.5,382.9 328.5,380.2 329.5,378.1 330.4,376.8 331.4,376.4 332.4,376.8 333.4,378.0 334.4,379.9 335.3,382.3 336.3,385.1 337.3,388.3 338.3,391.6 339.2,394.9 340.2,398.1 341.2,401.0 342.2,403.7 343.2,406.0 344.1,408.0 345.1,409.6 346.1,410.9 347.1,411.9 348.1,412.7" fill="none" stroke="#0072B2" stroke-width="0.3" stroke-opacity="0.55"/>
<text x="314.00" y="443.24" font-size="5.2" text-anchor="end" font-weight="bold" fill="#111" stroke="#111" stroke-width="0.12" >2021_S4</text>
<line x1="315.78" y1="441.44" x2="543.50" y2="441.44" stroke="#bcd6dd" stroke-width="0.7"/>
<path d="M315.8,441.4L315.8,441.3 316.8,441.3 317.7,441.2 318.7,441.2 319.7,441.1 320.7,441.1 321.6,441.0 322.6,440.9 323.6,440.8 324.6,440.7 325.6,440.5 326.5,440.4 327.5,440.2 328.5,440.0 329.5,439.7 330.4,439.5 331.4,439.1 332.4,438.8 333.4,438.4 334.4,438.0 335.3,437.6 336.3,437.1 337.3,436.6 338.3,436.0 339.2,435.4 340.2,434.7 341.2,434.1 342.2,433.3 343.2,432.6 344.1,431.8 345.1,431.0 346.1,430.2 347.1,429.4 348.1,428.6 349.0,427.8 350.0,427.0 351.0,426.2 352.0,425.4 352.9,424.7 353.9,424.0 354.9,423.4 355.9,422.9 356.9,422.4 357.8,422.0 358.8,421.6 359.8,421.4 360.8,421.2 361.7,421.1 362.7,421.2 363.7,421.2 364.7,421.3 365.7,421.5 366.6,421.7 367.6,421.9 368.6,422.2 369.6,422.5 370.5,422.9 371.5,423.3 372.5,423.7 373.5,424.2 374.5,424.7 375.4,425.2 376.4,425.8 377.4,426.4 378.4,426.9 379.3,427.5 380.3,428.1 381.3,428.7 382.3,429.3 383.3,429.9 384.2,430.5 385.2,431.1 386.2,431.7 387.2,432.3 388.2,432.8 389.1,433.4 390.1,433.9 391.1,434.4 392.1,434.9 393.0,435.4 394.0,435.9 395.0,436.3 396.0,436.7 397.0,437.1 397.9,437.4 398.9,437.8 399.9,438.1 400.9,438.4 401.8,438.7 402.8,439.0 403.8,439.2 404.8,439.4 405.8,439.6 406.7,439.8 407.7,440.0 408.7,440.1 409.7,440.3 410.6,440.4 411.6,440.5 412.6,440.6 413.6,440.7 414.6,440.8 415.5,440.9 416.5,441.0 417.5,441.0 418.5,441.1 419.4,441.1 420.4,441.2 421.4,441.2 421.4,441.4Z" fill="#B4159E" fill-opacity="0.67"/>
<path d="M329.5,439.7 330.4,439.5 331.4,439.1 332.4,438.8 333.4,438.4 334.4,438.0 335.3,437.6 336.3,437.1 337.3,436.6 338.3,436.0 339.2,435.4 340.2,434.7 341.2,434.1 342.2,433.3 343.2,432.6 344.1,431.8 345.1,431.0 346.1,430.2 347.1,429.4 348.1,428.6 349.0,427.8 350.0,427.0 351.0,426.2 352.0,425.4 352.9,424.7 353.9,424.0 354.9,423.4 355.9,422.9 356.9,422.4 357.8,422.0 358.8,421.6 359.8,421.4 360.8,421.2 361.7,421.1 362.7,421.2 363.7,421.2 364.7,421.3 365.7,421.5 366.6,421.7 367.6,421.9 368.6,422.2 369.6,422.5 370.5,422.9 371.5,423.3 372.5,423.7 373.5,424.2 374.5,424.7 375.4,425.2 376.4,425.8 377.4,426.4 378.4,426.9 379.3,427.5 380.3,428.1 381.3,428.7 382.3,429.3 383.3,429.9 384.2,430.5 385.2,431.1 386.2,431.7 387.2,432.3 388.2,432.8 389.1,433.4 390.1,433.9 391.1,434.4 392.1,434.9 393.0,435.4 394.0,435.9 395.0,436.3 396.0,436.7 397.0,437.1 397.9,437.4 398.9,437.8 399.9,438.1 400.9,438.4 401.8,438.7 402.8,439.0 403.8,439.2 404.8,439.4 405.8,439.6 406.7,439.8" fill="none" stroke="#800080" stroke-width="0.3" stroke-opacity="0.55"/>
<path d="M315.8,441.4L315.8,441.1 316.8,441.1 317.7,441.0 318.7,440.8 319.7,440.7 320.7,440.5 321.6,440.2 322.6,440.0 323.6,439.6 324.6,439.2 325.6,438.8 326.5,438.2 327.5,437.6 328.5,437.0 329.5,436.2 330.4,435.3 331.4,434.4 332.4,433.4 333.4,432.3 334.4,431.1 335.3,429.8 336.3,428.5 337.3,427.2 338.3,425.8 339.2,424.4 340.2,423.1 341.2,421.8 342.2,420.5 343.2,419.3 344.1,418.2 345.1,417.3 346.1,416.5 347.1,415.8 348.1,415.3 349.0,415.0 350.0,414.9 351.0,415.1 352.0,415.5 352.9,416.0 353.9,416.6 354.9,417.2 355.9,418.0 356.9,418.7 357.8,419.5 358.8,420.3 359.8,421.1 360.8,422.0 361.7,422.8 362.7,423.7 363.7,424.5 364.7,425.4 365.7,426.2 366.6,427.0 367.6,427.8 368.6,428.6 369.6,429.3 370.5,430.0 371.5,430.7 372.5,431.4 373.5,432.0 374.5,432.7 375.4,433.2 376.4,433.8 377.4,434.3 378.4,434.8 379.3,435.3 380.3,435.8 381.3,436.2 382.3,436.6 383.3,437.0 384.2,437.3 385.2,437.6 386.2,437.9 387.2,438.2 388.2,438.5 389.1,438.7 390.1,439.0 391.1,439.2 392.1,439.4 393.0,439.6 394.0,439.7 395.0,439.9 396.0,440.0 397.0,440.2 397.9,440.3 398.9,440.4 399.9,440.5 400.9,440.6 401.8,440.7 402.8,440.7 403.8,440.8 404.8,440.9 405.8,440.9 406.7,441.0 407.7,441.0 408.7,441.1 409.7,441.1 410.6,441.1 411.6,441.2 412.6,441.2 412.6,441.4Z" fill="#FF6347" fill-opacity="0.67"/>
<path d="M323.6,439.6 324.6,439.2 325.6,438.8 326.5,438.2 327.5,437.6 328.5,437.0 329.5,436.2 330.4,435.3 331.4,434.4 332.4,433.4 333.4,432.3 334.4,431.1 335.3,429.8 336.3,428.5 337.3,427.2 338.3,425.8 339.2,424.4 340.2,423.1 341.2,421.8 342.2,420.5 343.2,419.3 344.1,418.2 345.1,417.3 346.1,416.5 347.1,415.8 348.1,415.3 349.0,415.0 350.0,414.9 351.0,415.1 352.0,415.5 352.9,416.0 353.9,416.6 354.9,417.2 355.9,418.0 356.9,418.7 357.8,419.5 358.8,420.3 359.8,421.1 360.8,422.0 361.7,422.8 362.7,423.7 363.7,424.5 364.7,425.4 365.7,426.2 366.6,427.0 367.6,427.8 368.6,428.6 369.6,429.3 370.5,430.0 371.5,430.7 372.5,431.4 373.5,432.0 374.5,432.7 375.4,433.2 376.4,433.8 377.4,434.3 378.4,434.8 379.3,435.3 380.3,435.8 381.3,436.2 382.3,436.6 383.3,437.0 384.2,437.3 385.2,437.6 386.2,437.9 387.2,438.2 388.2,438.5 389.1,438.7 390.1,439.0 391.1,439.2 392.1,439.4 393.0,439.6 394.0,439.7 395.0,439.9" fill="none" stroke="#FF4500" stroke-width="0.3" stroke-opacity="0.55"/>
<path d="M315.8,441.4L315.8,441.1 316.8,441.0 317.7,440.8 318.7,440.7 319.7,440.5 320.7,440.3 321.6,440.0 322.6,439.7 323.6,439.3 324.6,438.9 325.6,438.4 326.5,437.8 327.5,437.1 328.5,436.4 329.5,435.6 330.4,434.7 331.4,433.7 332.4,432.6 333.4,431.5 334.4,430.3 335.3,429.0 336.3,427.7 337.3,426.4 338.3,425.1 339.2,423.8 340.2,422.5 341.2,421.3 342.2,420.1 343.2,419.1 344.1,418.2 345.1,417.4 346.1,416.8 347.1,416.3 348.1,416.0 349.0,415.9 350.0,416.1 351.0,416.4 352.0,416.9 352.9,417.5 353.9,418.1 354.9,418.9 355.9,419.7 356.9,420.6 357.8,421.5 358.8,422.4 359.8,423.3 360.8,424.3 361.7,425.3 362.7,426.2 363.7,427.2 364.7,428.1 365.7,429.0 366.6,429.9 367.6,430.7 368.6,431.6 369.6,432.3 370.5,433.1 371.5,433.8 372.5,434.4 373.5,435.1 374.5,435.6 375.4,436.2 376.4,436.7 377.4,437.1 378.4,437.6 379.3,438.0 380.3,438.3 381.3,438.7 382.3,439.0 383.3,439.2 384.2,439.5 385.2,439.7 386.2,439.9 387.2,440.1 388.2,440.3 389.1,440.4 390.1,440.5 391.1,440.7 392.1,440.8 393.0,440.8 394.0,440.9 395.0,441.0 396.0,441.1 397.0,441.1 397.9,441.2 398.9,441.2 398.9,441.4Z" fill="#37B482" fill-opacity="0.67"/>
<path d="M322.6,439.7 323.6,439.3 324.6,438.9 325.6,438.4 326.5,437.8 327.5,437.1 328.5,436.4 329.5,435.6 330.4,434.7 331.4,433.7 332.4,432.6 333.4,431.5 334.4,430.3 335.3,429.0 336.3,427.7 337.3,426.4 338.3,425.1 339.2,423.8 340.2,422.5 341.2,421.3 342.2,420.1 343.2,419.1 344.1,418.2 345.1,417.4 346.1,416.8 347.1,416.3 348.1,416.0 349.0,415.9 350.0,416.1 351.0,416.4 352.0,416.9 352.9,417.5 353.9,418.1 354.9,418.9 355.9,419.7 356.9,420.6 357.8,421.5 358.8,422.4 359.8,423.3 360.8,424.3 361.7,425.3 362.7,426.2 363.7,427.2 364.7,428.1 365.7,429.0 366.6,429.9 367.6,430.7 368.6,431.6 369.6,432.3 370.5,433.1 371.5,433.8 372.5,434.4 373.5,435.1 374.5,435.6 375.4,436.2 376.4,436.7 377.4,437.1 378.4,437.6 379.3,438.0 380.3,438.3 381.3,438.7 382.3,439.0 383.3,439.2 384.2,439.5 385.2,439.7 386.2,439.9" fill="none" stroke="#00A651" stroke-width="0.3" stroke-opacity="0.55"/>
<path d="M315.8,441.4L315.8,441.4 316.8,441.4 317.7,441.4 318.7,441.3 319.7,441.2 320.7,441.0 321.6,440.6 322.6,440.1 323.6,439.3 324.6,438.3 325.6,436.9 326.5,435.1 327.5,432.9 328.5,430.4 329.5,427.7 330.4,424.8 331.4,421.9 332.4,419.0 333.4,416.4 334.4,414.1 335.3,412.3 336.3,410.8 337.3,409.8 338.3,409.2 339.2,408.9 340.2,408.8 341.2,409.0 342.2,409.6 343.2,410.4 344.1,411.4 345.1,412.5 346.1,413.8 347.1,415.1 348.1,416.4 349.0,417.8 350.0,419.2 351.0,420.6 352.0,421.9 352.9,423.3 353.9,424.6 354.9,425.9 355.9,427.1 356.9,428.3 357.8,429.4 358.8,430.4 359.8,431.4 360.8,432.4 361.7,433.2 362.7,434.0 363.7,434.8 364.7,435.5 365.7,436.1 366.6,436.7 367.6,437.2 368.6,437.7 369.6,438.1 370.5,438.5 371.5,438.8 372.5,439.1 373.5,439.4 374.5,439.7 375.4,439.9 376.4,440.1 377.4,440.3 378.4,440.4 379.3,440.6 380.3,440.7 381.3,440.8 382.3,440.9 383.3,441.0 384.2,441.0 385.2,441.1 386.2,441.1 387.2,441.2 388.2,441.2 388.2,441.4Z" fill="#FFD400" fill-opacity="0.8"/>
<path d="M323.6,439.3 324.6,438.3 325.6,436.9 326.5,435.1 327.5,432.9 328.5,430.4 329.5,427.7 330.4,424.8 331.4,421.9 332.4,419.0 333.4,416.4 334.4,414.1 335.3,412.3 336.3,410.8 337.3,409.8 338.3,409.2 339.2,408.9 340.2,408.8 341.2,409.0 342.2,409.6 343.2,410.4 344.1,411.4 345.1,412.5 346.1,413.8 347.1,415.1 348.1,416.4 349.0,417.8 350.0,419.2 351.0,420.6 352.0,421.9 352.9,423.3 353.9,424.6 354.9,425.9 355.9,427.1 356.9,428.3 357.8,429.4 358.8,430.4 359.8,431.4 360.8,432.4 361.7,433.2 362.7,434.0 363.7,434.8 364.7,435.5 365.7,436.1 366.6,436.7 367.6,437.2 368.6,437.7 369.6,438.1 370.5,438.5 371.5,438.8 372.5,439.1 373.5,439.4 374.5,439.7 375.4,439.9" fill="none" stroke="#FFD700" stroke-width="0.3" stroke-opacity="0.55"/>
<path d="M315.8,441.4L315.8,438.0 316.8,436.8 317.7,435.2 318.7,433.3 319.7,431.0 320.7,428.3 321.6,425.3 322.6,422.1 323.6,418.7 324.6,415.2 325.6,411.9 326.5,408.9 327.5,406.3 328.5,404.3 329.5,403.0 330.4,402.5 331.4,402.8 332.4,403.8 333.4,405.4 334.4,407.5 335.3,410.1 336.3,413.0 337.3,416.1 338.3,419.2 339.2,422.3 340.2,425.3 341.2,428.0 342.2,430.5 343.2,432.6 344.1,434.5 345.1,436.1 346.1,437.4 347.1,438.4 348.1,439.2 349.0,439.8 350.0,440.3 351.0,440.6 352.0,440.9 352.9,441.1 353.9,441.2 353.9,441.4Z" fill="#3C8CBE" fill-opacity="0.67"/>
<path d="M315.8,438.0 316.8,436.8 317.7,435.2 318.7,433.3 319.7,431.0 320.7,428.3 321.6,425.3 322.6,422.1 323.6,418.7 324.6,415.2 325.6,411.9 326.5,408.9 327.5,406.3 328.5,404.3 329.5,403.0 330.4,402.5 331.4,402.8 332.4,403.8 333.4,405.4 334.4,407.5 335.3,410.1 336.3,413.0 337.3,416.1 338.3,419.2 339.2,422.3 340.2,425.3 341.2,428.0 342.2,430.5 343.2,432.6 344.1,434.5 345.1,436.1 346.1,437.4 347.1,438.4 348.1,439.2 349.0,439.8" fill="none" stroke="#0072B2" stroke-width="0.3" stroke-opacity="0.55"/>
<text x="314.00" y="469.96" font-size="5.2" text-anchor="end" font-weight="bold" fill="#111" stroke="#111" stroke-width="0.12" >2022_S1</text>
<line x1="315.78" y1="468.16" x2="543.50" y2="468.16" stroke="#bcd6dd" stroke-width="0.7"/>
<path d="M315.8,468.2L315.8,468.1 316.8,468.1 317.7,468.1 318.7,468.1 319.7,468.1 320.7,468.1 321.6,468.1 322.6,468.0 323.6,468.0 324.6,468.0 325.6,467.9 326.5,467.9 327.5,467.8 328.5,467.8 329.5,467.7 330.4,467.6 331.4,467.5 332.4,467.4 333.4,467.3 334.4,467.1 335.3,466.9 336.3,466.7 337.3,466.5 338.3,466.2 339.2,466.0 340.2,465.7 341.2,465.3 342.2,465.0 343.2,464.6 344.1,464.1 345.1,463.7 346.1,463.2 347.1,462.6 348.1,462.1 349.0,461.5 350.0,460.9 351.0,460.3 352.0,459.6 352.9,459.0 353.9,458.3 354.9,457.7 355.9,457.0 356.9,456.4 357.8,455.8 358.8,455.2 359.8,454.6 360.8,454.1 361.7,453.6 362.7,453.2 363.7,452.8 364.7,452.5 365.7,452.3 366.6,452.1 367.6,452.0 368.6,452.0 369.6,452.0 370.5,452.1 371.5,452.2 372.5,452.4 373.5,452.6 374.5,452.8 375.4,453.1 376.4,453.5 377.4,453.9 378.4,454.3 379.3,454.7 380.3,455.2 381.3,455.7 382.3,456.2 383.3,456.7 384.2,457.2 385.2,457.8 386.2,458.3 387.2,458.9 388.2,459.4 389.1,460.0 390.1,460.5 391.1,461.0 392.1,461.5 393.0,462.0 394.0,462.5 395.0,462.9 396.0,463.3 397.0,463.7 397.9,464.1 398.9,464.5 399.9,464.8 400.9,465.1 401.8,465.4 402.8,465.7 403.8,466.0 404.8,466.2 405.8,466.4 406.7,466.6 407.7,466.8 408.7,466.9 409.7,467.1 410.6,467.2 411.6,467.3 412.6,467.4 413.6,467.5 414.6,467.6 415.5,467.7 416.5,467.8 417.5,467.8 418.5,467.9 419.4,467.9 419.4,468.2Z" fill="#B4159E" fill-opacity="0.67"/>
<path d="M337.3,466.5 338.3,466.2 339.2,466.0 340.2,465.7 341.2,465.3 342.2,465.0 343.2,464.6 344.1,464.1 345.1,463.7 346.1,463.2 347.1,462.6 348.1,462.1 349.0,461.5 350.0,460.9 351.0,460.3 352.0,459.6 352.9,459.0 353.9,458.3 354.9,457.7 355.9,457.0 356.9,456.4 357.8,455.8 358.8,455.2 359.8,454.6 360.8,454.1 361.7,453.6 362.7,453.2 363.7,452.8 364.7,452.5 365.7,452.3 366.6,452.1 367.6,452.0 368.6,452.0 369.6,452.0 370.5,452.1 371.5,452.2 372.5,452.4 373.5,452.6 374.5,452.8 375.4,453.1 376.4,453.5 377.4,453.9 378.4,454.3 379.3,454.7 380.3,455.2 381.3,455.7 382.3,456.2 383.3,456.7 384.2,457.2 385.2,457.8 386.2,458.3 387.2,458.9 388.2,459.4 389.1,460.0 390.1,460.5 391.1,461.0 392.1,461.5 393.0,462.0 394.0,462.5 395.0,462.9 396.0,463.3 397.0,463.7 397.9,464.1 398.9,464.5 399.9,464.8 400.9,465.1 401.8,465.4 402.8,465.7 403.8,466.0 404.8,466.2 405.8,466.4 406.7,466.6" fill="none" stroke="#800080" stroke-width="0.3" stroke-opacity="0.55"/>
<path d="M315.8,468.2L315.8,468.1 316.8,468.1 317.7,468.1 318.7,468.1 319.7,468.1 320.7,468.1 321.6,468.1 322.6,468.0 323.6,468.0 324.6,467.9 325.6,467.9 326.5,467.8 327.5,467.7 328.5,467.6 329.5,467.5 330.4,467.3 331.4,467.1 332.4,466.9 333.4,466.6 334.4,466.2 335.3,465.9 336.3,465.4 337.3,464.9 338.3,464.4 339.2,463.8 340.2,463.1 341.2,462.4 342.2,461.6 343.2,460.7 344.1,459.8 345.1,458.9 346.1,457.9 347.1,457.0 348.1,456.0 349.0,455.0 350.0,454.0 351.0,453.1 352.0,452.3 352.9,451.5 353.9,450.8 354.9,450.2 355.9,449.8 356.9,449.4 357.8,449.2 358.8,449.2 359.8,449.2 360.8,449.3 361.7,449.5 362.7,449.7 363.7,450.0 364.7,450.4 365.7,450.8 366.6,451.2 367.6,451.7 368.6,452.3 369.6,452.9 370.5,453.5 371.5,454.1 372.5,454.8 373.5,455.5 374.5,456.2 375.4,456.9 376.4,457.6 377.4,458.2 378.4,458.9 379.3,459.6 380.3,460.2 381.3,460.8 382.3,461.4 383.3,462.0 384.2,462.5 385.2,463.0 386.2,463.5 387.2,464.0 388.2,464.4 389.1,464.8 390.1,465.2 391.1,465.5 392.1,465.8 393.0,466.1 394.0,466.3 395.0,466.5 396.0,466.7 397.0,466.9 397.9,467.1 398.9,467.2 399.9,467.4 400.9,467.5 401.8,467.6 402.8,467.7 403.8,467.7 404.8,467.8 405.8,467.9 406.7,467.9 407.7,467.9 407.7,468.2Z" fill="#FF6347" fill-opacity="0.67"/>
<path d="M333.4,466.6 334.4,466.2 335.3,465.9 336.3,465.4 337.3,464.9 338.3,464.4 339.2,463.8 340.2,463.1 341.2,462.4 342.2,461.6 343.2,460.7 344.1,459.8 345.1,458.9 346.1,457.9 347.1,457.0 348.1,456.0 349.0,455.0 350.0,454.0 351.0,453.1 352.0,452.3 352.9,451.5 353.9,450.8 354.9,450.2 355.9,449.8 356.9,449.4 357.8,449.2 358.8,449.2 359.8,449.2 360.8,449.3 361.7,449.5 362.7,449.7 363.7,450.0 364.7,450.4 365.7,450.8 366.6,451.2 367.6,451.7 368.6,452.3 369.6,452.9 370.5,453.5 371.5,454.1 372.5,454.8 373.5,455.5 374.5,456.2 375.4,456.9 376.4,457.6 377.4,458.2 378.4,458.9 379.3,459.6 380.3,460.2 381.3,460.8 382.3,461.4 383.3,462.0 384.2,462.5 385.2,463.0 386.2,463.5 387.2,464.0 388.2,464.4 389.1,464.8 390.1,465.2 391.1,465.5 392.1,465.8 393.0,466.1 394.0,466.3 395.0,466.5" fill="none" stroke="#FF4500" stroke-width="0.3" stroke-opacity="0.55"/>
<path d="M315.8,468.2L315.8,468.1 316.8,468.0 317.7,468.0 318.7,467.9 319.7,467.9 320.7,467.8 321.6,467.7 322.6,467.5 323.6,467.4 324.6,467.2 325.6,467.0 326.5,466.7 327.5,466.4 328.5,466.0 329.5,465.6 330.4,465.1 331.4,464.5 332.4,463.9 333.4,463.2 334.4,462.4 335.3,461.5 336.3,460.6 337.3,459.6 338.3,458.6 339.2,457.5 340.2,456.4 341.2,455.2 342.2,454.1 343.2,452.9 344.1,451.8 345.1,450.7 346.1,449.7 347.1,448.8 348.1,447.9 349.0,447.2 350.0,446.7 351.0,446.2 352.0,446.0 352.9,445.9 353.9,446.2 354.9,447.0 355.9,447.8 356.9,448.7 357.8,449.7 358.8,450.7 359.8,451.7 360.8,452.6 361.7,453.6 362.7,454.5 363.7,455.4 364.7,456.3 365.7,457.2 366.6,458.0 367.6,458.7 368.6,459.4 369.6,460.1 370.5,460.7 371.5,461.3 372.5,461.9 373.5,462.4 374.5,462.9 375.4,463.4 376.4,463.8 377.4,464.2 378.4,464.5 379.3,464.9 380.3,465.2 381.3,465.4 382.3,465.7 383.3,465.9 384.2,466.2 385.2,466.4 386.2,466.5 387.2,466.7 388.2,466.8 389.1,467.0 390.1,467.1 391.1,467.2 392.1,467.3 393.0,467.4 394.0,467.5 395.0,467.5 396.0,467.6 397.0,467.7 397.9,467.7 398.9,467.8 399.9,467.8 400.9,467.9 401.8,467.9 402.8,467.9 402.8,468.2Z" fill="#37B482" fill-opacity="0.67"/>
<path d="M327.5,466.4 328.5,466.0 329.5,465.6 330.4,465.1 331.4,464.5 332.4,463.9 333.4,463.2 334.4,462.4 335.3,461.5 336.3,460.6 337.3,459.6 338.3,458.6 339.2,457.5 340.2,456.4 341.2,455.2 342.2,454.1 343.2,452.9 344.1,451.8 345.1,450.7 346.1,449.7 347.1,448.8 348.1,447.9 349.0,447.2 350.0,446.7 351.0,446.2 352.0,446.0 352.9,445.9 353.9,446.2 354.9,447.0 355.9,447.8 356.9,448.7 357.8,449.7 358.8,450.7 359.8,451.7 360.8,452.6 361.7,453.6 362.7,454.5 363.7,455.4 364.7,456.3 365.7,457.2 366.6,458.0 367.6,458.7 368.6,459.4 369.6,460.1 370.5,460.7 371.5,461.3 372.5,461.9 373.5,462.4 374.5,462.9 375.4,463.4 376.4,463.8 377.4,464.2 378.4,464.5 379.3,464.9 380.3,465.2 381.3,465.4 382.3,465.7 383.3,465.9 384.2,466.2 385.2,466.4 386.2,466.5" fill="none" stroke="#00A651" stroke-width="0.3" stroke-opacity="0.55"/>
<path d="M315.8,468.2L315.8,468.2 316.8,468.2 317.7,468.1 318.7,468.1 319.7,468.0 320.7,467.9 321.6,467.7 322.6,467.3 323.6,466.8 324.6,466.0 325.6,464.9 326.5,463.6 327.5,461.9 328.5,460.0 329.5,457.9 330.4,455.7 331.4,453.5 332.4,451.3 333.4,449.3 334.4,447.5 335.3,445.9 336.3,444.7 337.3,443.6 338.3,442.9 339.2,442.4 340.2,442.0 341.2,441.8 342.2,441.7 343.2,441.7 344.1,441.7 345.1,441.7 346.1,442.0 347.1,442.6 348.1,443.5 349.0,444.5 350.0,445.6 351.0,446.9 352.0,448.2 352.9,449.5 353.9,450.9 354.9,452.3 355.9,453.7 356.9,455.0 357.8,456.3 358.8,457.5 359.8,458.7 360.8,459.7 361.7,460.7 362.7,461.6 363.7,462.5 364.7,463.2 365.7,463.9 366.6,464.5 367.6,465.0 368.6,465.5 369.6,465.9 370.5,466.3 371.5,466.6 372.5,466.8 373.5,467.1 374.5,467.3 375.4,467.4 376.4,467.6 377.4,467.7 378.4,467.8 379.3,467.8 380.3,467.9 381.3,468.0 381.3,468.2Z" fill="#FFD400" fill-opacity="0.8"/>
<path d="M324.6,466.0 325.6,464.9 326.5,463.6 327.5,461.9 328.5,460.0 329.5,457.9 330.4,455.7 331.4,453.5 332.4,451.3 333.4,449.3 334.4,447.5 335.3,445.9 336.3,444.7 337.3,443.6 338.3,442.9 339.2,442.4 340.2,442.0 341.2,441.8 342.2,441.7 343.2,441.7 344.1,441.7 345.1,441.7 346.1,442.0 347.1,442.6 348.1,443.5 349.0,444.5 350.0,445.6 351.0,446.9 352.0,448.2 352.9,449.5 353.9,450.9 354.9,452.3 355.9,453.7 356.9,455.0 357.8,456.3 358.8,457.5 359.8,458.7 360.8,459.7 361.7,460.7 362.7,461.6 363.7,462.5 364.7,463.2 365.7,463.9 366.6,464.5 367.6,465.0 368.6,465.5 369.6,465.9 370.5,466.3 371.5,466.6" fill="none" stroke="#FFD700" stroke-width="0.3" stroke-opacity="0.55"/>
<path d="M315.8,468.2L315.8,465.6 316.8,464.6 317.7,463.3 318.7,461.7 319.7,459.7 320.7,457.4 321.6,454.7 322.6,451.6 323.6,448.3 324.6,444.9 325.6,441.5 326.5,438.1 327.5,435.1 328.5,432.6 329.5,430.6 330.4,429.4 331.4,429.1 332.4,429.6 333.4,431.1 334.4,433.5 335.3,436.6 336.3,440.1 337.3,443.9 338.3,447.8 339.2,451.4 340.2,454.8 341.2,457.8 342.2,460.3 343.2,462.3 344.1,464.0 345.1,465.2 346.1,466.2 347.1,466.8 348.1,467.3 349.0,467.6 350.0,467.8 351.0,468.0 351.0,468.2Z" fill="#3C8CBE" fill-opacity="0.67"/>
<path d="M315.8,465.6 316.8,464.6 317.7,463.3 318.7,461.7 319.7,459.7 320.7,457.4 321.6,454.7 322.6,451.6 323.6,448.3 324.6,444.9 325.6,441.5 326.5,438.1 327.5,435.1 328.5,432.6 329.5,430.6 330.4,429.4 331.4,429.1 332.4,429.6 333.4,431.1 334.4,433.5 335.3,436.6 336.3,440.1 337.3,443.9 338.3,447.8 339.2,451.4 340.2,454.8 341.2,457.8 342.2,460.3 343.2,462.3 344.1,464.0 345.1,465.2 346.1,466.2" fill="none" stroke="#0072B2" stroke-width="0.3" stroke-opacity="0.55"/>
<text x="314.00" y="496.68" font-size="5.2" text-anchor="end" font-weight="bold" fill="#111" stroke="#111" stroke-width="0.12" >2022_S2</text>
<line x1="315.78" y1="494.88" x2="543.50" y2="494.88" stroke="#bcd6dd" stroke-width="0.7"/>
<path d="M315.8,494.9L315.8,494.9 316.8,494.9 317.7,494.9 318.7,494.9 319.7,494.9 320.7,494.9 321.6,494.9 322.6,494.9 323.6,494.9 324.6,494.8 325.6,494.8 326.5,494.8 327.5,494.8 328.5,494.8 329.5,494.8 330.4,494.7 331.4,494.7 332.4,494.7 333.4,494.6 334.4,494.5 335.3,494.5 336.3,494.4 337.3,494.3 338.3,494.1 339.2,494.0 340.2,493.8 341.2,493.6 342.2,493.4 343.2,493.1 344.1,492.8 345.1,492.5 346.1,492.2 347.1,491.8 348.1,491.3 349.0,490.9 350.0,490.4 351.0,489.8 352.0,489.3 352.9,488.6 353.9,488.0 354.9,487.4 355.9,486.7 356.9,486.0 357.8,485.3 358.8,484.7 359.8,484.0 360.8,483.3 361.7,482.7 362.7,482.2 363.7,481.6 364.7,481.2 365.7,480.8 366.6,480.4 367.6,480.2 368.6,480.0 369.6,479.9 370.5,479.9 371.5,479.9 372.5,480.0 373.5,480.2 374.5,480.3 375.4,480.6 376.4,480.8 377.4,481.2 378.4,481.5 379.3,481.9 380.3,482.3 381.3,482.8 382.3,483.2 383.3,483.7 384.2,484.2 385.2,484.7 386.2,485.3 387.2,485.8 388.2,486.3 389.1,486.8 390.1,487.3 391.1,487.8 392.1,488.3 393.0,488.8 394.0,489.3 395.0,489.7 396.0,490.1 397.0,490.6 397.9,490.9 398.9,491.3 399.9,491.6 400.9,492.0 401.8,492.2 402.8,492.5 403.8,492.8 404.8,493.0 405.8,493.2 406.7,493.4 407.7,493.6 408.7,493.7 409.7,493.9 410.6,494.0 411.6,494.1 412.6,494.2 413.6,494.3 414.6,494.4 415.5,494.5 416.5,494.5 417.5,494.6 418.5,494.6 419.4,494.7 419.4,494.9Z" fill="#B4159E" fill-opacity="0.67"/>
<path d="M343.2,493.1 344.1,492.8 345.1,492.5 346.1,492.2 347.1,491.8 348.1,491.3 349.0,490.9 350.0,490.4 351.0,489.8 352.0,489.3 352.9,488.6 353.9,488.0 354.9,487.4 355.9,486.7 356.9,486.0 357.8,485.3 358.8,484.7 359.8,484.0 360.8,483.3 361.7,482.7 362.7,482.2 363.7,481.6 364.7,481.2 365.7,480.8 366.6,480.4 367.6,480.2 368.6,480.0 369.6,479.9 370.5,479.9 371.5,479.9 372.5,480.0 373.5,480.2 374.5,480.3 375.4,480.6 376.4,480.8 377.4,481.2 378.4,481.5 379.3,481.9 380.3,482.3 381.3,482.8 382.3,483.2 383.3,483.7 384.2,484.2 385.2,484.7 386.2,485.3 387.2,485.8 388.2,486.3 389.1,486.8 390.1,487.3 391.1,487.8 392.1,488.3 393.0,488.8 394.0,489.3 395.0,489.7 396.0,490.1 397.0,490.6 397.9,490.9 398.9,491.3 399.9,491.6 400.9,492.0 401.8,492.2 402.8,492.5 403.8,492.8 404.8,493.0 405.8,493.2" fill="none" stroke="#800080" stroke-width="0.3" stroke-opacity="0.55"/>
<path d="M315.8,494.9L315.8,494.9 316.8,494.9 317.7,494.9 318.7,494.8 319.7,494.8 320.7,494.8 321.6,494.8 322.6,494.8 323.6,494.7 324.6,494.7 325.6,494.6 326.5,494.5 327.5,494.4 328.5,494.3 329.5,494.2 330.4,494.0 331.4,493.8 332.4,493.6 333.4,493.3 334.4,493.0 335.3,492.6 336.3,492.2 337.3,491.7 338.3,491.2 339.2,490.6 340.2,489.9 341.2,489.2 342.2,488.4 343.2,487.6 344.1,486.7 345.1,485.8 346.1,484.8 347.1,483.9 348.1,482.9 349.0,481.9 350.0,481.0 351.0,480.1 352.0,479.3 352.9,478.5 353.9,477.8 354.9,477.2 355.9,476.8 356.9,476.5 357.8,476.2 358.8,476.2 359.8,476.2 360.8,476.3 361.7,476.5 362.7,476.8 363.7,477.1 364.7,477.6 365.7,478.0 366.6,478.6 367.6,479.1 368.6,479.8 369.6,480.4 370.5,481.1 371.5,481.8 372.5,482.6 373.5,483.3 374.5,484.0 375.4,484.8 376.4,485.5 377.4,486.2 378.4,486.9 379.3,487.6 380.3,488.2 381.3,488.8 382.3,489.4 383.3,489.9 384.2,490.4 385.2,490.9 386.2,491.4 387.2,491.8 388.2,492.1 389.1,492.5 390.1,492.8 391.1,493.0 392.1,493.3 393.0,493.5 394.0,493.7 395.0,493.9 396.0,494.0 397.0,494.1 397.9,494.3 398.9,494.4 399.9,494.4 400.9,494.5 401.8,494.6 402.8,494.6 403.8,494.7 403.8,494.9Z" fill="#FF6347" fill-opacity="0.67"/>
<path d="M333.4,493.3 334.4,493.0 335.3,492.6 336.3,492.2 337.3,491.7 338.3,491.2 339.2,490.6 340.2,489.9 341.2,489.2 342.2,488.4 343.2,487.6 344.1,486.7 345.1,485.8 346.1,484.8 347.1,483.9 348.1,482.9 349.0,481.9 350.0,481.0 351.0,480.1 352.0,479.3 352.9,478.5 353.9,477.8 354.9,477.2 355.9,476.8 356.9,476.5 357.8,476.2 358.8,476.2 359.8,476.2 360.8,476.3 361.7,476.5 362.7,476.8 363.7,477.1 364.7,477.6 365.7,478.0 366.6,478.6 367.6,479.1 368.6,479.8 369.6,480.4 370.5,481.1 371.5,481.8 372.5,482.6 373.5,483.3 374.5,484.0 375.4,484.8 376.4,485.5 377.4,486.2 378.4,486.9 379.3,487.6 380.3,488.2 381.3,488.8 382.3,489.4 383.3,489.9 384.2,490.4 385.2,490.9 386.2,491.4 387.2,491.8 388.2,492.1 389.1,492.5 390.1,492.8 391.1,493.0 392.1,493.3" fill="none" stroke="#FF4500" stroke-width="0.3" stroke-opacity="0.55"/>
<path d="M315.8,494.9L315.8,494.7 316.8,494.7 317.7,494.6 318.7,494.6 319.7,494.5 320.7,494.4 321.6,494.3 322.6,494.1 323.6,493.9 324.6,493.7 325.6,493.5 326.5,493.1 327.5,492.8 328.5,492.4 329.5,491.9 330.4,491.4 331.4,490.8 332.4,490.1 333.4,489.4 334.4,488.6 335.3,487.7 336.3,486.8 337.3,485.8 338.3,484.8 339.2,483.7 340.2,482.6 341.2,481.5 342.2,480.5 343.2,479.4 344.1,478.4 345.1,477.5 346.1,476.7 347.1,475.9 348.1,475.3 349.0,474.8 350.0,474.4 351.0,474.2 352.0,474.1 352.9,474.5 353.9,475.1 354.9,475.8 355.9,476.6 356.9,477.4 357.8,478.3 358.8,479.1 359.8,480.0 360.8,480.9 361.7,481.7 362.7,482.6 363.7,483.4 364.7,484.2 365.7,484.9 366.6,485.6 367.6,486.3 368.6,487.0 369.6,487.6 370.5,488.1 371.5,488.7 372.5,489.2 373.5,489.7 374.5,490.1 375.4,490.5 376.4,490.9 377.4,491.3 378.4,491.6 379.3,491.9 380.3,492.2 381.3,492.4 382.3,492.7 383.3,492.9 384.2,493.1 385.2,493.2 386.2,493.4 387.2,493.6 388.2,493.7 389.1,493.8 390.1,493.9 391.1,494.0 392.1,494.1 393.0,494.2 394.0,494.3 395.0,494.3 396.0,494.4 397.0,494.5 397.9,494.5 398.9,494.5 399.9,494.6 400.9,494.6 401.8,494.6 401.8,494.9Z" fill="#37B482" fill-opacity="0.67"/>
<path d="M326.5,493.1 327.5,492.8 328.5,492.4 329.5,491.9 330.4,491.4 331.4,490.8 332.4,490.1 333.4,489.4 334.4,488.6 335.3,487.7 336.3,486.8 337.3,485.8 338.3,484.8 339.2,483.7 340.2,482.6 341.2,481.5 342.2,480.5 343.2,479.4 344.1,478.4 345.1,477.5 346.1,476.7 347.1,475.9 348.1,475.3 349.0,474.8 350.0,474.4 351.0,474.2 352.0,474.1 352.9,474.5 353.9,475.1 354.9,475.8 355.9,476.6 356.9,477.4 357.8,478.3 358.8,479.1 359.8,480.0 360.8,480.9 361.7,481.7 362.7,482.6 363.7,483.4 364.7,484.2 365.7,484.9 366.6,485.6 367.6,486.3 368.6,487.0 369.6,487.6 370.5,488.1 371.5,488.7 372.5,489.2 373.5,489.7 374.5,490.1 375.4,490.5 376.4,490.9 377.4,491.3 378.4,491.6 379.3,491.9 380.3,492.2 381.3,492.4 382.3,492.7 383.3,492.9 384.2,493.1 385.2,493.2" fill="none" stroke="#00A651" stroke-width="0.3" stroke-opacity="0.55"/>
<path d="M315.8,494.9L315.8,494.9 316.8,494.9 317.7,494.9 318.7,494.9 319.7,494.9 320.7,494.8 321.6,494.8 322.6,494.6 323.6,494.3 324.6,493.9 325.6,493.1 326.5,492.1 327.5,490.6 328.5,488.8 329.5,486.7 330.4,484.4 331.4,482.1 332.4,479.7 333.4,477.5 334.4,475.6 335.3,474.0 336.3,472.7 337.3,471.7 338.3,470.9 339.2,470.5 340.2,470.2 341.2,470.0 342.2,469.9 343.2,469.9 344.1,469.9 345.1,470.0 346.1,470.7 347.1,471.7 348.1,472.8 349.0,474.1 350.0,475.4 351.0,476.7 352.0,478.0 352.9,479.3 353.9,480.6 354.9,481.8 355.9,482.9 356.9,484.0 357.8,485.1 358.8,486.0 359.8,486.9 360.8,487.7 361.7,488.5 362.7,489.2 363.7,489.8 364.7,490.4 365.7,490.9 366.6,491.4 367.6,491.8 368.6,492.2 369.6,492.5 370.5,492.8 371.5,493.1 372.5,493.3 373.5,493.5 374.5,493.7 375.4,493.9 376.4,494.0 377.4,494.1 378.4,494.2 379.3,494.3 380.3,494.4 381.3,494.5 382.3,494.5 383.3,494.6 384.2,494.6 384.2,494.9Z" fill="#FFD400" fill-opacity="0.8"/>
<path d="M325.6,493.1 326.5,492.1 327.5,490.6 328.5,488.8 329.5,486.7 330.4,484.4 331.4,482.1 332.4,479.7 333.4,477.5 334.4,475.6 335.3,474.0 336.3,472.7 337.3,471.7 338.3,470.9 339.2,470.5 340.2,470.2 341.2,470.0 342.2,469.9 343.2,469.9 344.1,469.9 345.1,470.0 346.1,470.7 347.1,471.7 348.1,472.8 349.0,474.1 350.0,475.4 351.0,476.7 352.0,478.0 352.9,479.3 353.9,480.6 354.9,481.8 355.9,482.9 356.9,484.0 357.8,485.1 358.8,486.0 359.8,486.9 360.8,487.7 361.7,488.5 362.7,489.2 363.7,489.8 364.7,490.4 365.7,490.9 366.6,491.4 367.6,491.8 368.6,492.2 369.6,492.5 370.5,492.8 371.5,493.1 372.5,493.3" fill="none" stroke="#FFD700" stroke-width="0.3" stroke-opacity="0.55"/>
<path d="M315.8,494.9L315.8,491.5 316.8,490.2 317.7,488.6 318.7,486.7 319.7,484.4 320.7,481.8 321.6,478.8 322.6,475.6 323.6,472.1 324.6,468.7 325.6,465.4 326.5,462.4 327.5,459.8 328.5,457.8 329.5,456.5 330.4,456.1 331.4,456.5 332.4,457.8 333.4,460.0 334.4,462.9 335.3,466.2 336.3,469.9 337.3,473.6 338.3,477.2 339.2,480.5 340.2,483.5 341.2,486.1 342.2,488.3 343.2,490.1 344.1,491.4 345.1,492.5 346.1,493.2 347.1,493.8 348.1,494.2 349.0,494.4 350.0,494.6 351.0,494.7 351.0,494.9Z" fill="#3C8CBE" fill-opacity="0.67"/>
<path d="M315.8,491.5 316.8,490.2 317.7,488.6 318.7,486.7 319.7,484.4 320.7,481.8 321.6,478.8 322.6,475.6 323.6,472.1 324.6,468.7 325.6,465.4 326.5,462.4 327.5,459.8 328.5,457.8 329.5,456.5 330.4,456.1 331.4,456.5 332.4,457.8 333.4,460.0 334.4,462.9 335.3,466.2 336.3,469.9 337.3,473.6 338.3,477.2 339.2,480.5 340.2,483.5 341.2,486.1 342.2,488.3 343.2,490.1 344.1,491.4 345.1,492.5 346.1,493.2" fill="none" stroke="#0072B2" stroke-width="0.3" stroke-opacity="0.55"/>
<text x="347.40" y="501.20" font-size="5.2" text-anchor="middle" font-weight="bold" fill="#111" stroke="#111" stroke-width="0.12" >10</text>
<text x="380.00" y="501.20" font-size="5.2" text-anchor="middle" font-weight="bold" fill="#111" stroke="#111" stroke-width="0.12" >20</text>
<text x="412.60" y="501.20" font-size="5.2" text-anchor="middle" font-weight="bold" fill="#111" stroke="#111" stroke-width="0.12" >30</text>
<text x="445.20" y="501.20" font-size="5.2" text-anchor="middle" font-weight="bold" fill="#111" stroke="#111" stroke-width="0.12" >40</text>
<text x="477.80" y="501.20" font-size="5.2" text-anchor="middle" font-weight="bold" fill="#111" stroke="#111" stroke-width="0.12" >50</text>
<text x="510.40" y="501.20" font-size="5.2" text-anchor="middle" font-weight="bold" fill="#111" stroke="#111" stroke-width="0.12" >60</text>
<text x="430.00" y="506.80" font-size="6.4" text-anchor="middle" font-weight="bold" fill="#111" stroke="#111" stroke-width="0.12" >Height (RFU)</text>
<line x1="526.80" y1="350.90" x2="532.60" y2="350.90" stroke="#800080" stroke-width="2.3" stroke-linecap="round"/>
<text x="537.00" y="352.30" font-size="4.0" text-anchor="start" font-weight="bold" fill="#111" stroke="#111" stroke-width="0.12" >P</text>
<line x1="526.80" y1="356.35" x2="532.60" y2="356.35" stroke="#FF4500" stroke-width="2.3" stroke-linecap="round"/>
<text x="537.00" y="357.75" font-size="4.0" text-anchor="start" font-weight="bold" fill="#111" stroke="#111" stroke-width="0.12" >R</text>
<line x1="526.80" y1="361.80" x2="532.60" y2="361.80" stroke="#00A651" stroke-width="2.3" stroke-linecap="round"/>
<text x="537.00" y="363.20" font-size="4.0" text-anchor="start" font-weight="bold" fill="#111" stroke="#111" stroke-width="0.12" >G</text>
<line x1="526.80" y1="367.25" x2="532.60" y2="367.25" stroke="#FFD700" stroke-width="2.3" stroke-linecap="round"/>
<text x="537.00" y="368.65" font-size="4.0" text-anchor="start" font-weight="bold" fill="#111" stroke="#111" stroke-width="0.12" >Y</text>
<line x1="526.80" y1="372.70" x2="532.60" y2="372.70" stroke="#0072B2" stroke-width="2.3" stroke-linecap="round"/>
<text x="537.00" y="374.10" font-size="4.0" text-anchor="start" font-weight="bold" fill="#111" stroke="#111" stroke-width="0.12" >B</text>
<line x1="41.60" y1="9.90" x2="41.60" y2="158.20" stroke="#9a9a9a" stroke-width="0.7"/>
<text x="39.90" y="159.13" font-size="5.7" text-anchor="end" font-weight="bold" fill="#111" stroke="#111" stroke-width="0.12" >230</text>
<text x="39.90" y="140.75" font-size="5.7" text-anchor="end" font-weight="bold" fill="#111" stroke="#111" stroke-width="0.12" >240</text>
<text x="39.90" y="122.38" font-size="5.7" text-anchor="end" font-weight="bold" fill="#111" stroke="#111" stroke-width="0.12" >250</text>
<text x="39.90" y="104.00" font-size="5.7" text-anchor="end" font-weight="bold" fill="#111" stroke="#111" stroke-width="0.12" >260</text>
<text x="39.90" y="85.63" font-size="5.7" text-anchor="end" font-weight="bold" fill="#111" stroke="#111" stroke-width="0.12" >270</text>
<text x="39.90" y="67.25" font-size="5.7" text-anchor="end" font-weight="bold" fill="#111" stroke="#111" stroke-width="0.12" >280</text>
<text x="39.90" y="48.88" font-size="5.7" text-anchor="end" font-weight="bold" fill="#111" stroke="#111" stroke-width="0.12" >290</text>
<text x="39.90" y="30.50" font-size="5.7" text-anchor="end" font-weight="bold" fill="#111" stroke="#111" stroke-width="0.12" >300</text>
<text x="39.90" y="12.13" font-size="5.7" text-anchor="end" font-weight="bold" fill="#111" stroke="#111" stroke-width="0.12" >310</text>
<text x="0" y="0" font-size="5.5" font-weight="bold" text-anchor="middle" fill="#111" stroke="#111" stroke-width="0.12" transform="translate(30.00,87.60) rotate(-90)">Peak Counts</text>
<line x1="76.50" y1="165.50" x2="251.50" y2="165.50" stroke="#9a9a9a" stroke-width="0.7"/>
<line x1="76.50" y1="165.50" x2="76.50" y2="166.70" stroke="#9a9a9a" stroke-width="0.6"/>
<text x="76.50" y="170.80" font-size="6.0" text-anchor="middle" font-weight="bold" fill="#111" stroke="#111" stroke-width="0.12" >B</text>
<line x1="120.25" y1="165.50" x2="120.25" y2="166.70" stroke="#9a9a9a" stroke-width="0.6"/>
<text x="120.25" y="170.80" font-size="6.0" text-anchor="middle" font-weight="bold" fill="#111" stroke="#111" stroke-width="0.12" >G</text>
<line x1="164.00" y1="165.50" x2="164.00" y2="166.70" stroke="#9a9a9a" stroke-width="0.6"/>
<text x="164.00" y="170.80" font-size="6.0" text-anchor="middle" font-weight="bold" fill="#111" stroke="#111" stroke-width="0.12" >Y</text>
<line x1="207.75" y1="165.50" x2="207.75" y2="166.70" stroke="#9a9a9a" stroke-width="0.6"/>
<text x="207.75" y="170.80" font-size="6.0" text-anchor="middle" font-weight="bold" fill="#111" stroke="#111" stroke-width="0.12" >R</text>
<line x1="251.50" y1="165.50" x2="251.50" y2="166.70" stroke="#9a9a9a" stroke-width="0.6"/>
<text x="251.50" y="170.80" font-size="6.0" text-anchor="middle" font-weight="bold" fill="#111" stroke="#111" stroke-width="0.12" >P</text>
<line x1="63.38" y1="91.00" x2="63.38" y2="111.30" stroke="#bdbdbd" stroke-width="0.7"/>
<line x1="61.58" y1="91.00" x2="65.17" y2="91.00" stroke="#bdbdbd" stroke-width="0.6"/>
<line x1="63.38" y1="140.80" x2="63.38" y2="153.50" stroke="#bdbdbd" stroke-width="0.7"/>
<line x1="61.58" y1="153.50" x2="65.17" y2="153.50" stroke="#bdbdbd" stroke-width="0.6"/>
<rect x="59.15" y="111.30" width="8.45" height="29.50" fill="#F46D43" stroke="rgba(90,80,60,0.35)" stroke-width="0.5"/>
<line x1="59.15" y1="129.40" x2="67.60" y2="129.40" stroke="rgba(90,80,60,0.45)" stroke-width="0.6"/>
<line x1="72.12" y1="72.50" x2="72.12" y2="89.40" stroke="#bdbdbd" stroke-width="0.7"/>
<line x1="70.33" y1="72.50" x2="73.92" y2="72.50" stroke="#bdbdbd" stroke-width="0.6"/>
<line x1="72.12" y1="115.60" x2="72.12" y2="150.00" stroke="#bdbdbd" stroke-width="0.7"/>
<line x1="70.33" y1="150.00" x2="73.92" y2="150.00" stroke="#bdbdbd" stroke-width="0.6"/>
<rect x="67.90" y="89.40" width="8.45" height="26.20" fill="#FDD58C" stroke="rgba(90,80,60,0.35)" stroke-width="0.5"/>
<line x1="67.90" y1="97.30" x2="76.35" y2="97.30" stroke="rgba(90,80,60,0.45)" stroke-width="0.6"/>
<line x1="80.88" y1="76.30" x2="80.88" y2="90.70" stroke="#bdbdbd" stroke-width="0.7"/>
<line x1="79.08" y1="76.30" x2="82.67" y2="76.30" stroke="#bdbdbd" stroke-width="0.6"/>
<line x1="80.88" y1="110.50" x2="80.88" y2="118.70" stroke="#bdbdbd" stroke-width="0.7"/>
<line x1="79.08" y1="118.70" x2="82.67" y2="118.70" stroke="#bdbdbd" stroke-width="0.6"/>
<rect x="76.65" y="90.70" width="8.45" height="19.80" fill="#E3F19E" stroke="rgba(90,80,60,0.35)" stroke-width="0.5"/>
<line x1="76.65" y1="99.80" x2="85.10" y2="99.80" stroke="rgba(90,80,60,0.45)" stroke-width="0.6"/>
<circle cx="80.80" cy="159.40" r="0.45" fill="#666"/>
<line x1="89.62" y1="68.70" x2="89.62" y2="80.20" stroke="#bdbdbd" stroke-width="0.7"/>
<line x1="87.83" y1="68.70" x2="91.42" y2="68.70" stroke="#bdbdbd" stroke-width="0.6"/>
<line x1="89.62" y1="96.50" x2="89.62" y2="111.30" stroke="#bdbdbd" stroke-width="0.7"/>
<line x1="87.83" y1="111.30" x2="91.42" y2="111.30" stroke="#bdbdbd" stroke-width="0.6"/>
<rect x="85.40" y="80.20" width="8.45" height="16.30" fill="#2EAF92" stroke="rgba(90,80,60,0.35)" stroke-width="0.5"/>
<line x1="85.40" y1="82.50" x2="93.85" y2="82.50" stroke="rgba(90,80,60,0.45)" stroke-width="0.6"/>
<circle cx="89.60" cy="122.00" r="0.45" fill="#666"/>
<line x1="107.12" y1="89.40" x2="107.12" y2="101.20" stroke="#bdbdbd" stroke-width="0.7"/>
<line x1="105.33" y1="89.40" x2="108.92" y2="89.40" stroke="#bdbdbd" stroke-width="0.6"/>
<line x1="107.12" y1="115.60" x2="107.12" y2="128.00" stroke="#bdbdbd" stroke-width="0.7"/>
<line x1="105.33" y1="128.00" x2="108.92" y2="128.00" stroke="#bdbdbd" stroke-width="0.6"/>
<rect x="102.90" y="101.20" width="8.45" height="14.40" fill="#F46D43" stroke="rgba(90,80,60,0.35)" stroke-width="0.5"/>
<line x1="102.90" y1="113.40" x2="111.35" y2="113.40" stroke="rgba(90,80,60,0.45)" stroke-width="0.6"/>
<line x1="115.88" y1="50.50" x2="115.88" y2="73.30" stroke="#bdbdbd" stroke-width="0.7"/>
<line x1="114.08" y1="50.50" x2="117.67" y2="50.50" stroke="#bdbdbd" stroke-width="0.6"/>
<line x1="115.88" y1="102.40" x2="115.88" y2="138.80" stroke="#bdbdbd" stroke-width="0.7"/>
<line x1="114.08" y1="138.80" x2="117.67" y2="138.80" stroke="#bdbdbd" stroke-width="0.6"/>
<rect x="111.65" y="73.30" width="8.45" height="29.10" fill="#FDD58C" stroke="rgba(90,80,60,0.35)" stroke-width="0.5"/>
<line x1="111.65" y1="91.10" x2="120.10" y2="91.10" stroke="rgba(90,80,60,0.45)" stroke-width="0.6"/>
<line x1="124.62" y1="57.90" x2="124.62" y2="70.40" stroke="#bdbdbd" stroke-width="0.7"/>
<line x1="122.83" y1="57.90" x2="126.42" y2="57.90" stroke="#bdbdbd" stroke-width="0.6"/>
<line x1="124.62" y1="93.20" x2="124.62" y2="124.40" stroke="#bdbdbd" stroke-width="0.7"/>
<line x1="122.83" y1="124.40" x2="126.42" y2="124.40" stroke="#bdbdbd" stroke-width="0.6"/>
<rect x="120.40" y="70.40" width="8.45" height="22.80" fill="#E3F19E" stroke="rgba(90,80,60,0.35)" stroke-width="0.5"/>
<line x1="120.40" y1="81.80" x2="128.85" y2="81.80" stroke="rgba(90,80,60,0.45)" stroke-width="0.6"/>
<line x1="133.38" y1="45.00" x2="133.38" y2="65.40" stroke="#bdbdbd" stroke-width="0.7"/>
<line x1="131.57" y1="45.00" x2="135.18" y2="45.00" stroke="#bdbdbd" stroke-width="0.6"/>
<line x1="133.38" y1="87.10" x2="133.38" y2="120.20" stroke="#bdbdbd" stroke-width="0.7"/>
<line x1="131.57" y1="120.20" x2="135.18" y2="120.20" stroke="#bdbdbd" stroke-width="0.6"/>
<rect x="129.15" y="65.40" width="8.45" height="21.70" fill="#2EAF92" stroke="rgba(90,80,60,0.35)" stroke-width="0.5"/>
<line x1="129.15" y1="74.50" x2="137.60" y2="74.50" stroke="rgba(90,80,60,0.45)" stroke-width="0.6"/>
<line x1="150.88" y1="87.50" x2="150.88" y2="98.50" stroke="#bdbdbd" stroke-width="0.7"/>
<line x1="149.07" y1="87.50" x2="152.68" y2="87.50" stroke="#bdbdbd" stroke-width="0.6"/>
<line x1="150.88" y1="122.20" x2="150.88" y2="126.00" stroke="#bdbdbd" stroke-width="0.7"/>
<line x1="149.07" y1="126.00" x2="152.68" y2="126.00" stroke="#bdbdbd" stroke-width="0.6"/>
<rect x="146.65" y="98.50" width="8.45" height="23.70" fill="#F46D43" stroke="rgba(90,80,60,0.35)" stroke-width="0.5"/>
<line x1="146.65" y1="111.50" x2="155.10" y2="111.50" stroke="rgba(90,80,60,0.45)" stroke-width="0.6"/>
<circle cx="151.00" cy="60.10" r="0.45" fill="#666"/>
<line x1="159.62" y1="57.90" x2="159.62" y2="76.50" stroke="#bdbdbd" stroke-width="0.7"/>
<line x1="157.82" y1="57.90" x2="161.43" y2="57.90" stroke="#bdbdbd" stroke-width="0.6"/>
<line x1="159.62" y1="102.80" x2="159.62" y2="120.20" stroke="#bdbdbd" stroke-width="0.7"/>
<line x1="157.82" y1="120.20" x2="161.43" y2="120.20" stroke="#bdbdbd" stroke-width="0.6"/>
<rect x="155.40" y="76.50" width="8.45" height="26.30" fill="#FDD58C" stroke="rgba(90,80,60,0.35)" stroke-width="0.5"/>
<line x1="155.40" y1="96.60" x2="163.85" y2="96.60" stroke="rgba(90,80,60,0.45)" stroke-width="0.6"/>
<line x1="168.38" y1="50.50" x2="168.38" y2="65.90" stroke="#bdbdbd" stroke-width="0.7"/>
<line x1="166.57" y1="50.50" x2="170.18" y2="50.50" stroke="#bdbdbd" stroke-width="0.6"/>
<line x1="168.38" y1="101.20" x2="168.38" y2="131.70" stroke="#bdbdbd" stroke-width="0.7"/>
<line x1="166.57" y1="131.70" x2="170.18" y2="131.70" stroke="#bdbdbd" stroke-width="0.6"/>
<rect x="164.15" y="65.90" width="8.45" height="35.30" fill="#E3F19E" stroke="rgba(90,80,60,0.35)" stroke-width="0.5"/>
<line x1="164.15" y1="83.50" x2="172.60" y2="83.50" stroke="rgba(90,80,60,0.45)" stroke-width="0.6"/>
<line x1="177.12" y1="63.40" x2="177.12" y2="74.80" stroke="#bdbdbd" stroke-width="0.7"/>
<line x1="175.32" y1="63.40" x2="178.93" y2="63.40" stroke="#bdbdbd" stroke-width="0.6"/>
<line x1="177.12" y1="101.50" x2="177.12" y2="111.10" stroke="#bdbdbd" stroke-width="0.7"/>
<line x1="175.32" y1="111.10" x2="178.93" y2="111.10" stroke="#bdbdbd" stroke-width="0.6"/>
<rect x="172.90" y="74.80" width="8.45" height="26.70" fill="#2EAF92" stroke="rgba(90,80,60,0.35)" stroke-width="0.5"/>
<line x1="172.90" y1="85.50" x2="181.35" y2="85.50" stroke="rgba(90,80,60,0.45)" stroke-width="0.6"/>
<line x1="194.62" y1="78.10" x2="194.62" y2="86.30" stroke="#bdbdbd" stroke-width="0.7"/>
<line x1="192.82" y1="78.10" x2="196.43" y2="78.10" stroke="#bdbdbd" stroke-width="0.6"/>
<line x1="194.62" y1="109.80" x2="194.62" y2="116.80" stroke="#bdbdbd" stroke-width="0.7"/>
<line x1="192.82" y1="116.80" x2="196.43" y2="116.80" stroke="#bdbdbd" stroke-width="0.6"/>
<rect x="190.40" y="86.30" width="8.45" height="23.50" fill="#F46D43" stroke="rgba(90,80,60,0.35)" stroke-width="0.5"/>
<line x1="190.40" y1="98.20" x2="198.85" y2="98.20" stroke="rgba(90,80,60,0.45)" stroke-width="0.6"/>
<line x1="203.38" y1="45.00" x2="203.38" y2="73.70" stroke="#bdbdbd" stroke-width="0.7"/>
<line x1="201.57" y1="45.00" x2="205.18" y2="45.00" stroke="#bdbdbd" stroke-width="0.6"/>
<line x1="203.38" y1="96.90" x2="203.38" y2="105.70" stroke="#bdbdbd" stroke-width="0.7"/>
<line x1="201.57" y1="105.70" x2="205.18" y2="105.70" stroke="#bdbdbd" stroke-width="0.6"/>
<rect x="199.15" y="73.70" width="8.45" height="23.20" fill="#FDD58C" stroke="rgba(90,80,60,0.35)" stroke-width="0.5"/>
<line x1="199.15" y1="85.30" x2="207.60" y2="85.30" stroke="rgba(90,80,60,0.45)" stroke-width="0.6"/>
<circle cx="203.50" cy="37.70" r="0.45" fill="#666"/>
<line x1="212.12" y1="54.30" x2="212.12" y2="61.60" stroke="#bdbdbd" stroke-width="0.7"/>
<line x1="210.32" y1="54.30" x2="213.93" y2="54.30" stroke="#bdbdbd" stroke-width="0.6"/>
<line x1="212.12" y1="76.20" x2="212.12" y2="91.10" stroke="#bdbdbd" stroke-width="0.7"/>
<line x1="210.32" y1="91.10" x2="213.93" y2="91.10" stroke="#bdbdbd" stroke-width="0.6"/>
<rect x="207.90" y="61.60" width="8.45" height="14.60" fill="#E3F19E" stroke="rgba(90,80,60,0.35)" stroke-width="0.5"/>
<line x1="207.90" y1="69.20" x2="216.35" y2="69.20" stroke="rgba(90,80,60,0.45)" stroke-width="0.6"/>
<circle cx="212.00" cy="102.00" r="0.45" fill="#666"/>
<line x1="220.88" y1="35.60" x2="220.88" y2="63.70" stroke="#bdbdbd" stroke-width="0.7"/>
<line x1="219.07" y1="35.60" x2="222.68" y2="35.60" stroke="#bdbdbd" stroke-width="0.6"/>
<line x1="220.88" y1="83.50" x2="220.88" y2="113.10" stroke="#bdbdbd" stroke-width="0.7"/>
<line x1="219.07" y1="113.10" x2="222.68" y2="113.10" stroke="#bdbdbd" stroke-width="0.6"/>
<rect x="216.65" y="63.70" width="8.45" height="19.80" fill="#2EAF92" stroke="rgba(90,80,60,0.35)" stroke-width="0.5"/>
<line x1="216.65" y1="74.50" x2="225.10" y2="74.50" stroke="rgba(90,80,60,0.45)" stroke-width="0.6"/>
<line x1="238.38" y1="102.00" x2="238.38" y2="103.20" stroke="#bdbdbd" stroke-width="0.7"/>
<line x1="236.57" y1="102.00" x2="240.18" y2="102.00" stroke="#bdbdbd" stroke-width="0.6"/>
<line x1="238.38" y1="119.70" x2="238.38" y2="133.50" stroke="#bdbdbd" stroke-width="0.7"/>
<line x1="236.57" y1="133.50" x2="240.18" y2="133.50" stroke="#bdbdbd" stroke-width="0.6"/>
<rect x="234.15" y="103.20" width="8.45" height="16.50" fill="#F46D43" stroke="rgba(90,80,60,0.35)" stroke-width="0.5"/>
<line x1="234.15" y1="111.10" x2="242.60" y2="111.10" stroke="rgba(90,80,60,0.45)" stroke-width="0.6"/>
<line x1="247.12" y1="48.80" x2="247.12" y2="57.50" stroke="#bdbdbd" stroke-width="0.7"/>
<line x1="245.32" y1="48.80" x2="248.93" y2="48.80" stroke="#bdbdbd" stroke-width="0.6"/>
<line x1="247.12" y1="100.70" x2="247.12" y2="122.20" stroke="#bdbdbd" stroke-width="0.7"/>
<line x1="245.32" y1="122.20" x2="248.93" y2="122.20" stroke="#bdbdbd" stroke-width="0.6"/>
<rect x="242.90" y="57.50" width="8.45" height="43.20" fill="#FDD58C" stroke="rgba(90,80,60,0.35)" stroke-width="0.5"/>
<line x1="242.90" y1="95.70" x2="251.35" y2="95.70" stroke="rgba(90,80,60,0.45)" stroke-width="0.6"/>
<circle cx="238.30" cy="61.80" r="0.45" fill="#666"/>
<line x1="255.88" y1="35.60" x2="255.88" y2="61.60" stroke="#bdbdbd" stroke-width="0.7"/>
<line x1="254.07" y1="35.60" x2="257.68" y2="35.60" stroke="#bdbdbd" stroke-width="0.6"/>
<line x1="255.88" y1="83.40" x2="255.88" y2="109.50" stroke="#bdbdbd" stroke-width="0.7"/>
<line x1="254.07" y1="109.50" x2="257.68" y2="109.50" stroke="#bdbdbd" stroke-width="0.6"/>
<rect x="251.65" y="61.60" width="8.45" height="21.80" fill="#E3F19E" stroke="rgba(90,80,60,0.35)" stroke-width="0.5"/>
<line x1="251.65" y1="71.50" x2="260.10" y2="71.50" stroke="rgba(90,80,60,0.45)" stroke-width="0.6"/>
<line x1="264.62" y1="47.20" x2="264.62" y2="67.00" stroke="#bdbdbd" stroke-width="0.7"/>
<line x1="262.82" y1="47.20" x2="266.43" y2="47.20" stroke="#bdbdbd" stroke-width="0.6"/>
<line x1="264.62" y1="92.70" x2="264.62" y2="105.70" stroke="#bdbdbd" stroke-width="0.7"/>
<line x1="262.82" y1="105.70" x2="266.43" y2="105.70" stroke="#bdbdbd" stroke-width="0.6"/>
<rect x="260.40" y="67.00" width="8.45" height="25.70" fill="#2EAF92" stroke="rgba(90,80,60,0.35)" stroke-width="0.5"/>
<line x1="260.40" y1="74.50" x2="268.85" y2="74.50" stroke="rgba(90,80,60,0.45)" stroke-width="0.6"/>
<line x1="63.38" y1="60.10" x2="89.62" y2="60.10" stroke="#a8a8a8" stroke-width="0.6"/>
<text x="76.50" y="59.10" font-size="4.6" text-anchor="middle" font-weight="bold" fill="#333" stroke="#333" stroke-width="0.12" >**</text>
<line x1="107.12" y1="26.50" x2="133.38" y2="26.50" stroke="#a8a8a8" stroke-width="0.6"/>
<text x="120.25" y="25.50" font-size="4.6" text-anchor="middle" font-weight="bold" fill="#333" stroke="#333" stroke-width="0.12" >**</text>
<line x1="107.12" y1="34.40" x2="124.62" y2="34.40" stroke="#a8a8a8" stroke-width="0.6"/>
<text x="115.88" y="33.40" font-size="4.6" text-anchor="middle" font-weight="bold" fill="#333" stroke="#333" stroke-width="0.12" >*</text>
<line x1="107.12" y1="41.90" x2="115.88" y2="41.90" stroke="#a8a8a8" stroke-width="0.6"/>
<text x="111.50" y="40.90" font-size="4.6" text-anchor="middle" font-weight="bold" fill="#333" stroke="#333" stroke-width="0.12" >*</text>
<line x1="150.88" y1="41.90" x2="177.12" y2="41.90" stroke="#a8a8a8" stroke-width="0.6"/>
<text x="164.00" y="40.90" font-size="4.6" text-anchor="middle" font-weight="bold" fill="#333" stroke="#333" stroke-width="0.12" >*</text>
<line x1="194.62" y1="21.20" x2="220.88" y2="21.20" stroke="#a8a8a8" stroke-width="0.6"/>
<text x="207.75" y="20.20" font-size="4.6" text-anchor="middle" font-weight="bold" fill="#333" stroke="#333" stroke-width="0.12" >*</text>
<line x1="194.62" y1="28.50" x2="212.12" y2="28.50" stroke="#a8a8a8" stroke-width="0.6"/>
<text x="203.38" y="27.50" font-size="4.6" text-anchor="middle" font-weight="bold" fill="#333" stroke="#333" stroke-width="0.12" >**</text>
<line x1="238.38" y1="19.50" x2="264.62" y2="19.50" stroke="#a8a8a8" stroke-width="0.6"/>
<text x="251.50" y="18.50" font-size="4.6" text-anchor="middle" font-weight="bold" fill="#333" stroke="#333" stroke-width="0.12" >**</text>
<line x1="238.38" y1="27.00" x2="255.88" y2="27.00" stroke="#a8a8a8" stroke-width="0.6"/>
<text x="247.12" y="26.00" font-size="4.6" text-anchor="middle" font-weight="bold" fill="#333" stroke="#333" stroke-width="0.12" >*</text>
<line x1="238.38" y1="40.10" x2="247.12" y2="40.10" stroke="#a8a8a8" stroke-width="0.6"/>
<text x="242.75" y="39.10" font-size="4.6" text-anchor="middle" font-weight="bold" fill="#333" stroke="#333" stroke-width="0.12" >*</text>
<rect x="220.30" y="152.30" width="8.6" height="2.8" fill="#F46D43"/>
<text x="232.50" y="155.20" font-size="4.3" text-anchor="start" font-weight="bold" fill="#111" stroke="#111" stroke-width="0.12" >2021_S3</text>
<rect x="220.30" y="158.10" width="8.6" height="2.8" fill="#FDD58C"/>
<text x="232.50" y="161.00" font-size="4.3" text-anchor="start" font-weight="bold" fill="#111" stroke="#111" stroke-width="0.12" >2021_S4</text>
<rect x="255.90" y="152.30" width="8.6" height="2.8" fill="#E3F19E"/>
<text x="268.10" y="155.20" font-size="4.3" text-anchor="start" font-weight="bold" fill="#111" stroke="#111" stroke-width="0.12" >2022_S1</text>
<rect x="255.90" y="158.10" width="8.6" height="2.8" fill="#2EAF92"/>
<text x="268.10" y="161.00" font-size="4.3" text-anchor="start" font-weight="bold" fill="#111" stroke="#111" stroke-width="0.12" >2022_S2</text>
<line x1="41.80" y1="180.40" x2="41.80" y2="324.20" stroke="#9a9a9a" stroke-width="0.7"/>
<text x="39.90" y="326.03" font-size="5.4" text-anchor="end" font-weight="bold" fill="#111" stroke="#111" stroke-width="0.12" >220</text>
<text x="39.90" y="297.27" font-size="5.4" text-anchor="end" font-weight="bold" fill="#111" stroke="#111" stroke-width="0.12" >240</text>
<text x="39.90" y="268.51" font-size="5.4" text-anchor="end" font-weight="bold" fill="#111" stroke="#111" stroke-width="0.12" >260</text>
<text x="39.90" y="239.75" font-size="5.4" text-anchor="end" font-weight="bold" fill="#111" stroke="#111" stroke-width="0.12" >280</text>
<text x="39.90" y="210.99" font-size="5.4" text-anchor="end" font-weight="bold" fill="#111" stroke="#111" stroke-width="0.12" >300</text>
<text x="39.90" y="182.23" font-size="5.4" text-anchor="end" font-weight="bold" fill="#111" stroke="#111" stroke-width="0.12" >320</text>
<text x="0" y="0" font-size="5.5" font-weight="bold" text-anchor="middle" fill="#111" stroke="#111" stroke-width="0.12" transform="translate(30.00,256.70) rotate(-90)">Peak Counts</text>
<line x1="76.50" y1="334.50" x2="251.50" y2="334.50" stroke="#9a9a9a" stroke-width="0.7"/>
<line x1="76.50" y1="334.50" x2="76.50" y2="335.70" stroke="#9a9a9a" stroke-width="0.6"/>
<text x="76.50" y="339.80" font-size="6.0" text-anchor="middle" font-weight="bold" fill="#111" stroke="#111" stroke-width="0.12" >B</text>
<line x1="120.25" y1="334.50" x2="120.25" y2="335.70" stroke="#9a9a9a" stroke-width="0.6"/>
<text x="120.25" y="339.80" font-size="6.0" text-anchor="middle" font-weight="bold" fill="#111" stroke="#111" stroke-width="0.12" >G</text>
<line x1="164.00" y1="334.50" x2="164.00" y2="335.70" stroke="#9a9a9a" stroke-width="0.6"/>
<text x="164.00" y="339.80" font-size="6.0" text-anchor="middle" font-weight="bold" fill="#111" stroke="#111" stroke-width="0.12" >Y</text>
<line x1="207.75" y1="334.50" x2="207.75" y2="335.70" stroke="#9a9a9a" stroke-width="0.6"/>
<text x="207.75" y="339.80" font-size="6.0" text-anchor="middle" font-weight="bold" fill="#111" stroke="#111" stroke-width="0.12" >R</text>
<line x1="251.50" y1="334.50" x2="251.50" y2="335.70" stroke="#9a9a9a" stroke-width="0.6"/>
<text x="251.50" y="339.80" font-size="6.0" text-anchor="middle" font-weight="bold" fill="#111" stroke="#111" stroke-width="0.12" >P</text>
<line x1="63.38" y1="241.80" x2="63.38" y2="264.20" stroke="#bdbdbd" stroke-width="0.7"/>
<line x1="61.58" y1="241.80" x2="65.17" y2="241.80" stroke="#bdbdbd" stroke-width="0.6"/>
<line x1="63.38" y1="289.50" x2="63.38" y2="324.20" stroke="#bdbdbd" stroke-width="0.7"/>
<line x1="61.58" y1="324.20" x2="65.17" y2="324.20" stroke="#bdbdbd" stroke-width="0.6"/>
<rect x="59.15" y="264.20" width="8.45" height="25.30" fill="#F46D43" stroke="rgba(90,80,60,0.35)" stroke-width="0.5"/>
<line x1="59.15" y1="277.30" x2="67.60" y2="277.30" stroke="rgba(90,80,60,0.45)" stroke-width="0.6"/>
<line x1="72.12" y1="254.50" x2="72.12" y2="266.70" stroke="#bdbdbd" stroke-width="0.7"/>
<line x1="70.33" y1="254.50" x2="73.92" y2="254.50" stroke="#bdbdbd" stroke-width="0.6"/>
<line x1="72.12" y1="296.40" x2="72.12" y2="315.10" stroke="#bdbdbd" stroke-width="0.7"/>
<line x1="70.33" y1="315.10" x2="73.92" y2="315.10" stroke="#bdbdbd" stroke-width="0.6"/>
<rect x="67.90" y="266.70" width="8.45" height="29.70" fill="#FDD58C" stroke="rgba(90,80,60,0.35)" stroke-width="0.5"/>
<line x1="67.90" y1="282.40" x2="76.35" y2="282.40" stroke="rgba(90,80,60,0.45)" stroke-width="0.6"/>
<line x1="80.88" y1="233.30" x2="80.88" y2="250.00" stroke="#bdbdbd" stroke-width="0.7"/>
<line x1="79.08" y1="233.30" x2="82.67" y2="233.30" stroke="#bdbdbd" stroke-width="0.6"/>
<line x1="80.88" y1="270.40" x2="80.88" y2="296.40" stroke="#bdbdbd" stroke-width="0.7"/>
<line x1="79.08" y1="296.40" x2="82.67" y2="296.40" stroke="#bdbdbd" stroke-width="0.6"/>
<rect x="76.65" y="250.00" width="8.45" height="20.40" fill="#E3F19E" stroke="rgba(90,80,60,0.35)" stroke-width="0.5"/>
<line x1="76.65" y1="253.30" x2="85.10" y2="253.30" stroke="rgba(90,80,60,0.45)" stroke-width="0.6"/>
<line x1="89.62" y1="240.00" x2="89.62" y2="260.40" stroke="#bdbdbd" stroke-width="0.7"/>
<line x1="87.83" y1="240.00" x2="91.42" y2="240.00" stroke="#bdbdbd" stroke-width="0.6"/>
<line x1="89.62" y1="280.90" x2="89.62" y2="298.20" stroke="#bdbdbd" stroke-width="0.7"/>
<line x1="87.83" y1="298.20" x2="91.42" y2="298.20" stroke="#bdbdbd" stroke-width="0.6"/>
<rect x="85.40" y="260.40" width="8.45" height="20.50" fill="#2EAF92" stroke="rgba(90,80,60,0.35)" stroke-width="0.5"/>
<line x1="85.40" y1="273.30" x2="93.85" y2="273.30" stroke="rgba(90,80,60,0.45)" stroke-width="0.6"/>
<circle cx="89.50" cy="312.70" r="0.45" fill="#666"/>
<line x1="107.12" y1="231.80" x2="107.12" y2="259.40" stroke="#bdbdbd" stroke-width="0.7"/>
<line x1="105.33" y1="231.80" x2="108.92" y2="231.80" stroke="#bdbdbd" stroke-width="0.6"/>
<line x1="107.12" y1="281.00" x2="107.12" y2="305.10" stroke="#bdbdbd" stroke-width="0.7"/>
<line x1="105.33" y1="305.10" x2="108.92" y2="305.10" stroke="#bdbdbd" stroke-width="0.6"/>
<rect x="102.90" y="259.40" width="8.45" height="21.60" fill="#F46D43" stroke="rgba(90,80,60,0.35)" stroke-width="0.5"/>
<line x1="102.90" y1="266.00" x2="111.35" y2="266.00" stroke="rgba(90,80,60,0.45)" stroke-width="0.6"/>
<line x1="115.88" y1="239.20" x2="115.88" y2="265.40" stroke="#bdbdbd" stroke-width="0.7"/>
<line x1="114.08" y1="239.20" x2="117.67" y2="239.20" stroke="#bdbdbd" stroke-width="0.6"/>
<line x1="115.88" y1="290.60" x2="115.88" y2="328.30" stroke="#bdbdbd" stroke-width="0.7"/>
<line x1="114.08" y1="328.30" x2="117.67" y2="328.30" stroke="#bdbdbd" stroke-width="0.6"/>
<rect x="111.65" y="265.40" width="8.45" height="25.20" fill="#FDD58C" stroke="rgba(90,80,60,0.35)" stroke-width="0.5"/>
<line x1="111.65" y1="272.00" x2="120.10" y2="272.00" stroke="rgba(90,80,60,0.45)" stroke-width="0.6"/>
<line x1="124.62" y1="230.40" x2="124.62" y2="249.10" stroke="#bdbdbd" stroke-width="0.7"/>
<line x1="122.83" y1="230.40" x2="126.42" y2="230.40" stroke="#bdbdbd" stroke-width="0.6"/>
<line x1="124.62" y1="270.40" x2="124.62" y2="283.60" stroke="#bdbdbd" stroke-width="0.7"/>
<line x1="122.83" y1="283.60" x2="126.42" y2="283.60" stroke="#bdbdbd" stroke-width="0.6"/>
<rect x="120.40" y="249.10" width="8.45" height="21.30" fill="#E3F19E" stroke="rgba(90,80,60,0.35)" stroke-width="0.5"/>
<line x1="120.40" y1="257.50" x2="128.85" y2="257.50" stroke="rgba(90,80,60,0.45)" stroke-width="0.6"/>
<line x1="133.38" y1="230.40" x2="133.38" y2="255.30" stroke="#bdbdbd" stroke-width="0.7"/>
<line x1="131.57" y1="230.40" x2="135.18" y2="230.40" stroke="#bdbdbd" stroke-width="0.6"/>
<line x1="133.38" y1="273.50" x2="133.38" y2="290.90" stroke="#bdbdbd" stroke-width="0.7"/>
<line x1="131.57" y1="290.90" x2="135.18" y2="290.90" stroke="#bdbdbd" stroke-width="0.6"/>
<rect x="129.15" y="255.30" width="8.45" height="18.20" fill="#2EAF92" stroke="rgba(90,80,60,0.35)" stroke-width="0.5"/>
<line x1="129.15" y1="263.20" x2="137.60" y2="263.20" stroke="rgba(90,80,60,0.45)" stroke-width="0.6"/>
<circle cx="133.40" cy="303.80" r="0.45" fill="#666"/>
<line x1="150.88" y1="242.00" x2="150.88" y2="265.40" stroke="#bdbdbd" stroke-width="0.7"/>
<line x1="149.07" y1="242.00" x2="152.68" y2="242.00" stroke="#bdbdbd" stroke-width="0.6"/>
<line x1="150.88" y1="282.30" x2="150.88" y2="305.50" stroke="#bdbdbd" stroke-width="0.7"/>
<line x1="149.07" y1="305.50" x2="152.68" y2="305.50" stroke="#bdbdbd" stroke-width="0.6"/>
<rect x="146.65" y="265.40" width="8.45" height="16.90" fill="#F46D43" stroke="rgba(90,80,60,0.35)" stroke-width="0.5"/>
<line x1="146.65" y1="270.20" x2="155.10" y2="270.20" stroke="rgba(90,80,60,0.45)" stroke-width="0.6"/>
<circle cx="150.80" cy="221.80" r="0.45" fill="#666"/>
<line x1="159.62" y1="227.60" x2="159.62" y2="260.30" stroke="#bdbdbd" stroke-width="0.7"/>
<line x1="157.82" y1="227.60" x2="161.43" y2="227.60" stroke="#bdbdbd" stroke-width="0.6"/>
<line x1="159.62" y1="286.40" x2="159.62" y2="317.00" stroke="#bdbdbd" stroke-width="0.7"/>
<line x1="157.82" y1="317.00" x2="161.43" y2="317.00" stroke="#bdbdbd" stroke-width="0.6"/>
<rect x="155.40" y="260.30" width="8.45" height="26.10" fill="#FDD58C" stroke="rgba(90,80,60,0.35)" stroke-width="0.5"/>
<line x1="155.40" y1="269.50" x2="163.85" y2="269.50" stroke="rgba(90,80,60,0.45)" stroke-width="0.6"/>
<line x1="168.38" y1="223.50" x2="168.38" y2="234.60" stroke="#bdbdbd" stroke-width="0.7"/>
<line x1="166.57" y1="223.50" x2="170.18" y2="223.50" stroke="#bdbdbd" stroke-width="0.6"/>
<line x1="168.38" y1="267.70" x2="168.38" y2="295.20" stroke="#bdbdbd" stroke-width="0.7"/>
<line x1="166.57" y1="295.20" x2="170.18" y2="295.20" stroke="#bdbdbd" stroke-width="0.6"/>
<rect x="164.15" y="234.60" width="8.45" height="33.10" fill="#E3F19E" stroke="rgba(90,80,60,0.35)" stroke-width="0.5"/>
<line x1="164.15" y1="250.30" x2="172.60" y2="250.30" stroke="rgba(90,80,60,0.45)" stroke-width="0.6"/>
<line x1="177.12" y1="239.20" x2="177.12" y2="255.00" stroke="#bdbdbd" stroke-width="0.7"/>
<line x1="175.32" y1="239.20" x2="178.93" y2="239.20" stroke="#bdbdbd" stroke-width="0.6"/>
<line x1="177.12" y1="272.00" x2="177.12" y2="293.90" stroke="#bdbdbd" stroke-width="0.7"/>
<line x1="175.32" y1="293.90" x2="178.93" y2="293.90" stroke="#bdbdbd" stroke-width="0.6"/>
<rect x="172.90" y="255.00" width="8.45" height="17.00" fill="#2EAF92" stroke="rgba(90,80,60,0.35)" stroke-width="0.5"/>
<line x1="172.90" y1="263.20" x2="181.35" y2="263.20" stroke="rgba(90,80,60,0.45)" stroke-width="0.6"/>
<circle cx="177.30" cy="226.30" r="0.45" fill="#666"/>
<line x1="194.62" y1="235.10" x2="194.62" y2="259.40" stroke="#bdbdbd" stroke-width="0.7"/>
<line x1="192.82" y1="235.10" x2="196.43" y2="235.10" stroke="#bdbdbd" stroke-width="0.6"/>
<line x1="194.62" y1="275.70" x2="194.62" y2="296.70" stroke="#bdbdbd" stroke-width="0.7"/>
<line x1="192.82" y1="296.70" x2="196.43" y2="296.70" stroke="#bdbdbd" stroke-width="0.6"/>
<rect x="190.40" y="259.40" width="8.45" height="16.30" fill="#F46D43" stroke="rgba(90,80,60,0.35)" stroke-width="0.5"/>
<line x1="190.40" y1="265.70" x2="198.85" y2="265.70" stroke="rgba(90,80,60,0.45)" stroke-width="0.6"/>
<circle cx="194.60" cy="228.80" r="0.45" fill="#666"/>
<line x1="203.38" y1="228.80" x2="203.38" y2="251.40" stroke="#bdbdbd" stroke-width="0.7"/>
<line x1="201.57" y1="228.80" x2="205.18" y2="228.80" stroke="#bdbdbd" stroke-width="0.6"/>
<line x1="203.38" y1="272.80" x2="203.38" y2="296.70" stroke="#bdbdbd" stroke-width="0.7"/>
<line x1="201.57" y1="296.70" x2="205.18" y2="296.70" stroke="#bdbdbd" stroke-width="0.6"/>
<rect x="199.15" y="251.40" width="8.45" height="21.40" fill="#FDD58C" stroke="rgba(90,80,60,0.35)" stroke-width="0.5"/>
<line x1="199.15" y1="263.20" x2="207.60" y2="263.20" stroke="rgba(90,80,60,0.45)" stroke-width="0.6"/>
<line x1="212.12" y1="217.50" x2="212.12" y2="239.20" stroke="#bdbdbd" stroke-width="0.7"/>
<line x1="210.32" y1="217.50" x2="213.93" y2="217.50" stroke="#bdbdbd" stroke-width="0.6"/>
<line x1="212.12" y1="256.30" x2="212.12" y2="277.80" stroke="#bdbdbd" stroke-width="0.7"/>
<line x1="210.32" y1="277.80" x2="213.93" y2="277.80" stroke="#bdbdbd" stroke-width="0.6"/>
<rect x="207.90" y="239.20" width="8.45" height="17.10" fill="#E3F19E" stroke="rgba(90,80,60,0.35)" stroke-width="0.5"/>
<line x1="207.90" y1="243.30" x2="216.35" y2="243.30" stroke="rgba(90,80,60,0.45)" stroke-width="0.6"/>
<line x1="220.88" y1="233.40" x2="220.88" y2="246.50" stroke="#bdbdbd" stroke-width="0.7"/>
<line x1="219.07" y1="233.40" x2="222.68" y2="233.40" stroke="#bdbdbd" stroke-width="0.6"/>
<line x1="220.88" y1="263.60" x2="220.88" y2="280.60" stroke="#bdbdbd" stroke-width="0.7"/>
<line x1="219.07" y1="280.60" x2="222.68" y2="280.60" stroke="#bdbdbd" stroke-width="0.6"/>
<rect x="216.65" y="246.50" width="8.45" height="17.10" fill="#2EAF92" stroke="rgba(90,80,60,0.35)" stroke-width="0.5"/>
<line x1="216.65" y1="257.50" x2="225.10" y2="257.50" stroke="rgba(90,80,60,0.45)" stroke-width="0.6"/>
<line x1="238.38" y1="239.20" x2="238.38" y2="260.30" stroke="#bdbdbd" stroke-width="0.7"/>
<line x1="236.57" y1="239.20" x2="240.18" y2="239.20" stroke="#bdbdbd" stroke-width="0.6"/>
<line x1="238.38" y1="275.70" x2="238.38" y2="296.70" stroke="#bdbdbd" stroke-width="0.7"/>
<line x1="236.57" y1="296.70" x2="240.18" y2="296.70" stroke="#bdbdbd" stroke-width="0.6"/>
<rect x="234.15" y="260.30" width="8.45" height="15.40" fill="#F46D43" stroke="rgba(90,80,60,0.35)" stroke-width="0.5"/>
<line x1="234.15" y1="268.20" x2="242.60" y2="268.20" stroke="rgba(90,80,60,0.45)" stroke-width="0.6"/>
<circle cx="238.30" cy="299.30" r="0.45" fill="#666"/>
<line x1="247.12" y1="239.20" x2="247.12" y2="260.30" stroke="#bdbdbd" stroke-width="0.7"/>
<line x1="245.32" y1="239.20" x2="248.93" y2="239.20" stroke="#bdbdbd" stroke-width="0.6"/>
<line x1="247.12" y1="280.60" x2="247.12" y2="311.30" stroke="#bdbdbd" stroke-width="0.7"/>
<line x1="245.32" y1="311.30" x2="248.93" y2="311.30" stroke="#bdbdbd" stroke-width="0.6"/>
<rect x="242.90" y="260.30" width="8.45" height="20.30" fill="#FDD58C" stroke="rgba(90,80,60,0.35)" stroke-width="0.5"/>
<line x1="242.90" y1="266.20" x2="251.35" y2="266.20" stroke="rgba(90,80,60,0.45)" stroke-width="0.6"/>
<circle cx="247.10" cy="217.50" r="0.45" fill="#666"/>
<line x1="255.88" y1="230.40" x2="255.88" y2="250.60" stroke="#bdbdbd" stroke-width="0.7"/>
<line x1="254.07" y1="230.40" x2="257.68" y2="230.40" stroke="#bdbdbd" stroke-width="0.6"/>
<line x1="255.88" y1="269.50" x2="255.88" y2="272.00" stroke="#bdbdbd" stroke-width="0.7"/>
<line x1="254.07" y1="272.00" x2="257.68" y2="272.00" stroke="#bdbdbd" stroke-width="0.6"/>
<rect x="251.65" y="250.60" width="8.45" height="18.90" fill="#E3F19E" stroke="rgba(90,80,60,0.35)" stroke-width="0.5"/>
<line x1="251.65" y1="256.30" x2="260.10" y2="256.30" stroke="rgba(90,80,60,0.45)" stroke-width="0.6"/>
<line x1="264.62" y1="234.60" x2="264.62" y2="252.00" stroke="#bdbdbd" stroke-width="0.7"/>
<line x1="262.82" y1="234.60" x2="266.43" y2="234.60" stroke="#bdbdbd" stroke-width="0.6"/>
<line x1="264.62" y1="267.70" x2="264.62" y2="286.40" stroke="#bdbdbd" stroke-width="0.7"/>
<line x1="262.82" y1="286.40" x2="266.43" y2="286.40" stroke="#bdbdbd" stroke-width="0.6"/>
<rect x="260.40" y="252.00" width="8.45" height="15.70" fill="#2EAF92" stroke="rgba(90,80,60,0.35)" stroke-width="0.5"/>
<line x1="260.40" y1="259.10" x2="268.85" y2="259.10" stroke="rgba(90,80,60,0.45)" stroke-width="0.6"/>
<circle cx="264.50" cy="224.60" r="0.45" fill="#666"/>
<line x1="63.38" y1="204.50" x2="80.88" y2="204.50" stroke="#a8a8a8" stroke-width="0.6"/>
<text x="72.12" y="203.50" font-size="4.6" text-anchor="middle" font-weight="bold" fill="#333" stroke="#333" stroke-width="0.12" >**</text>
<line x1="72.12" y1="211.80" x2="89.62" y2="211.80" stroke="#a8a8a8" stroke-width="0.6"/>
<text x="80.88" y="210.80" font-size="4.6" text-anchor="middle" font-weight="bold" fill="#333" stroke="#333" stroke-width="0.12" >**</text>
<line x1="72.12" y1="218.50" x2="80.88" y2="218.50" stroke="#a8a8a8" stroke-width="0.6"/>
<text x="76.50" y="217.50" font-size="4.6" text-anchor="middle" font-weight="bold" fill="#333" stroke="#333" stroke-width="0.12" >***</text>
<line x1="80.88" y1="225.50" x2="89.62" y2="225.50" stroke="#a8a8a8" stroke-width="0.6"/>
<text x="85.25" y="224.50" font-size="4.6" text-anchor="middle" font-weight="bold" fill="#333" stroke="#333" stroke-width="0.12" >*</text>
<line x1="107.12" y1="208.90" x2="124.62" y2="208.90" stroke="#a8a8a8" stroke-width="0.6"/>
<text x="115.88" y="207.90" font-size="4.6" text-anchor="middle" font-weight="bold" fill="#333" stroke="#333" stroke-width="0.12" >*</text>
<line x1="115.88" y1="215.50" x2="133.38" y2="215.50" stroke="#a8a8a8" stroke-width="0.6"/>
<text x="124.62" y="214.50" font-size="4.6" text-anchor="middle" font-weight="bold" fill="#333" stroke="#333" stroke-width="0.12" >***</text>
<line x1="115.88" y1="222.60" x2="124.62" y2="222.60" stroke="#a8a8a8" stroke-width="0.6"/>
<text x="120.25" y="221.60" font-size="4.6" text-anchor="middle" font-weight="bold" fill="#333" stroke="#333" stroke-width="0.12" >***</text>
<line x1="150.88" y1="187.90" x2="177.12" y2="187.90" stroke="#a8a8a8" stroke-width="0.6"/>
<text x="164.00" y="186.90" font-size="4.6" text-anchor="middle" font-weight="bold" fill="#333" stroke="#333" stroke-width="0.12" >*</text>
<line x1="150.88" y1="194.80" x2="168.38" y2="194.80" stroke="#a8a8a8" stroke-width="0.6"/>
<text x="159.62" y="193.80" font-size="4.6" text-anchor="middle" font-weight="bold" fill="#333" stroke="#333" stroke-width="0.12" >**</text>
<line x1="159.62" y1="201.50" x2="177.12" y2="201.50" stroke="#a8a8a8" stroke-width="0.6"/>
<text x="168.38" y="200.50" font-size="4.6" text-anchor="middle" font-weight="bold" fill="#333" stroke="#333" stroke-width="0.12" >*</text>
<line x1="159.62" y1="208.60" x2="168.38" y2="208.60" stroke="#a8a8a8" stroke-width="0.6"/>
<text x="164.00" y="207.60" font-size="4.6" text-anchor="middle" font-weight="bold" fill="#333" stroke="#333" stroke-width="0.12" >**</text>
<line x1="168.38" y1="215.00" x2="177.12" y2="215.00" stroke="#a8a8a8" stroke-width="0.6"/>
<text x="172.75" y="214.00" font-size="4.6" text-anchor="middle" font-weight="bold" fill="#333" stroke="#333" stroke-width="0.12" >*</text>
<line x1="194.62" y1="196.00" x2="220.88" y2="196.00" stroke="#a8a8a8" stroke-width="0.6"/>
<text x="207.75" y="195.00" font-size="4.6" text-anchor="middle" font-weight="bold" fill="#333" stroke="#333" stroke-width="0.12" >**</text>
<line x1="194.62" y1="202.80" x2="212.12" y2="202.80" stroke="#a8a8a8" stroke-width="0.6"/>
<text x="203.38" y="201.80" font-size="4.6" text-anchor="middle" font-weight="bold" fill="#333" stroke="#333" stroke-width="0.12" >**</text>
<line x1="203.38" y1="209.70" x2="212.12" y2="209.70" stroke="#a8a8a8" stroke-width="0.6"/>
<text x="207.75" y="208.70" font-size="4.6" text-anchor="middle" font-weight="bold" fill="#333" stroke="#333" stroke-width="0.12" >**</text>
<line x1="238.38" y1="188.70" x2="264.62" y2="188.70" stroke="#a8a8a8" stroke-width="0.6"/>
<text x="251.50" y="187.70" font-size="4.6" text-anchor="middle" font-weight="bold" fill="#333" stroke="#333" stroke-width="0.12" >*</text>
<line x1="247.12" y1="195.70" x2="264.62" y2="195.70" stroke="#a8a8a8" stroke-width="0.6"/>
<text x="255.88" y="194.70" font-size="4.6" text-anchor="middle" font-weight="bold" fill="#333" stroke="#333" stroke-width="0.12" >*</text>
<line x1="238.38" y1="202.60" x2="255.88" y2="202.60" stroke="#a8a8a8" stroke-width="0.6"/>
<text x="247.12" y="201.60" font-size="4.6" text-anchor="middle" font-weight="bold" fill="#333" stroke="#333" stroke-width="0.12" >*</text>
<line x1="247.12" y1="209.40" x2="255.88" y2="209.40" stroke="#a8a8a8" stroke-width="0.6"/>
<text x="251.50" y="208.40" font-size="4.6" text-anchor="middle" font-weight="bold" fill="#333" stroke="#333" stroke-width="0.12" >*</text>
<rect x="220.30" y="321.00" width="8.6" height="2.8" fill="#F46D43"/>
<text x="232.50" y="323.90" font-size="4.3" text-anchor="start" font-weight="bold" fill="#111" stroke="#111" stroke-width="0.12" >2020_S1</text>
<rect x="220.30" y="326.70" width="8.6" height="2.8" fill="#FDD58C"/>
<text x="232.50" y="329.60" font-size="4.3" text-anchor="start" font-weight="bold" fill="#111" stroke="#111" stroke-width="0.12" >2021_S3</text>
<rect x="255.90" y="321.00" width="8.6" height="2.8" fill="#E3F19E"/>
<text x="268.10" y="323.90" font-size="4.3" text-anchor="start" font-weight="bold" fill="#111" stroke="#111" stroke-width="0.12" >2021_S4</text>
<rect x="255.90" y="326.70" width="8.6" height="2.8" fill="#2EAF92"/>
<text x="268.10" y="329.60" font-size="4.3" text-anchor="start" font-weight="bold" fill="#111" stroke="#111" stroke-width="0.12" >2022_S1</text>
<line x1="41.80" y1="372.40" x2="41.80" y2="486.80" stroke="#9a9a9a" stroke-width="0.7"/>
<text x="39.90" y="488.63" font-size="5.4" text-anchor="end" font-weight="bold" fill="#111" stroke="#111" stroke-width="0.12" >220</text>
<text x="39.90" y="460.03" font-size="5.4" text-anchor="end" font-weight="bold" fill="#111" stroke="#111" stroke-width="0.12" >240</text>
<text x="39.90" y="431.43" font-size="5.4" text-anchor="end" font-weight="bold" fill="#111" stroke="#111" stroke-width="0.12" >260</text>
<text x="39.90" y="402.83" font-size="5.4" text-anchor="end" font-weight="bold" fill="#111" stroke="#111" stroke-width="0.12" >280</text>
<text x="39.90" y="374.23" font-size="5.4" text-anchor="end" font-weight="bold" fill="#111" stroke="#111" stroke-width="0.12" >300</text>
<text x="0" y="0" font-size="5.5" font-weight="bold" text-anchor="middle" fill="#111" stroke="#111" stroke-width="0.12" transform="translate(30.00,423.50) rotate(-90)">Peak Counts</text>
<line x1="76.90" y1="501.40" x2="250.80" y2="501.40" stroke="#9a9a9a" stroke-width="0.7"/>
<line x1="76.90" y1="501.40" x2="76.90" y2="502.60" stroke="#9a9a9a" stroke-width="0.6"/>
<text x="76.90" y="506.70" font-size="6.0" text-anchor="middle" font-weight="bold" fill="#111" stroke="#111" stroke-width="0.12" >B</text>
<line x1="120.50" y1="501.40" x2="120.50" y2="502.60" stroke="#9a9a9a" stroke-width="0.6"/>
<text x="120.50" y="506.70" font-size="6.0" text-anchor="middle" font-weight="bold" fill="#111" stroke="#111" stroke-width="0.12" >G</text>
<line x1="164.00" y1="501.40" x2="164.00" y2="502.60" stroke="#9a9a9a" stroke-width="0.6"/>
<text x="164.00" y="506.70" font-size="6.0" text-anchor="middle" font-weight="bold" fill="#111" stroke="#111" stroke-width="0.12" >Y</text>
<line x1="207.40" y1="501.40" x2="207.40" y2="502.60" stroke="#9a9a9a" stroke-width="0.6"/>
<text x="207.40" y="506.70" font-size="6.0" text-anchor="middle" font-weight="bold" fill="#111" stroke="#111" stroke-width="0.12" >R</text>
<line x1="250.80" y1="501.40" x2="250.80" y2="502.60" stroke="#9a9a9a" stroke-width="0.6"/>
<text x="250.80" y="506.70" font-size="6.0" text-anchor="middle" font-weight="bold" fill="#111" stroke="#111" stroke-width="0.12" >P</text>
<line x1="62.90" y1="428.20" x2="62.90" y2="429.50" stroke="#bdbdbd" stroke-width="0.7"/>
<line x1="61.10" y1="428.20" x2="64.70" y2="428.20" stroke="#bdbdbd" stroke-width="0.6"/>
<rect x="59.55" y="429.50" width="6.70" height="65.50" fill="#EE5C4D" stroke="rgba(90,80,60,0.35)" stroke-width="0.5"/>
<line x1="59.55" y1="436.50" x2="66.25" y2="436.50" stroke="rgba(90,80,60,0.45)" stroke-width="0.6"/>
<line x1="69.90" y1="428.80" x2="69.90" y2="433.20" stroke="#bdbdbd" stroke-width="0.7"/>
<line x1="68.10" y1="428.80" x2="71.70" y2="428.80" stroke="#bdbdbd" stroke-width="0.6"/>
<line x1="69.90" y1="447.40" x2="69.90" y2="461.10" stroke="#bdbdbd" stroke-width="0.7"/>
<line x1="68.10" y1="461.10" x2="71.70" y2="461.10" stroke="#bdbdbd" stroke-width="0.6"/>
<rect x="66.55" y="433.20" width="6.70" height="14.20" fill="#FDAE68" stroke="rgba(90,80,60,0.35)" stroke-width="0.5"/>
<line x1="66.55" y1="436.50" x2="73.25" y2="436.50" stroke="rgba(90,80,60,0.45)" stroke-width="0.6"/>
<line x1="76.90" y1="392.40" x2="76.90" y2="426.80" stroke="#bdbdbd" stroke-width="0.7"/>
<line x1="75.10" y1="392.40" x2="78.70" y2="392.40" stroke="#bdbdbd" stroke-width="0.6"/>
<line x1="76.90" y1="456.60" x2="76.90" y2="462.40" stroke="#bdbdbd" stroke-width="0.7"/>
<line x1="75.10" y1="462.40" x2="78.70" y2="462.40" stroke="#bdbdbd" stroke-width="0.6"/>
<rect x="73.55" y="426.80" width="6.70" height="29.80" fill="#FEF9C0" stroke="rgba(90,80,60,0.35)" stroke-width="0.5"/>
<line x1="73.55" y1="452.40" x2="80.25" y2="452.40" stroke="rgba(90,80,60,0.45)" stroke-width="0.6"/>
<line x1="83.90" y1="416.40" x2="83.90" y2="421.50" stroke="#bdbdbd" stroke-width="0.7"/>
<line x1="82.10" y1="416.40" x2="85.70" y2="416.40" stroke="#bdbdbd" stroke-width="0.6"/>
<line x1="83.90" y1="431.90" x2="83.90" y2="443.40" stroke="#bdbdbd" stroke-width="0.7"/>
<line x1="82.10" y1="443.40" x2="85.70" y2="443.40" stroke="#bdbdbd" stroke-width="0.6"/>
<rect x="80.55" y="421.50" width="6.70" height="10.40" fill="#ABDC9C" stroke="rgba(90,80,60,0.35)" stroke-width="0.5"/>
<line x1="80.55" y1="427.00" x2="87.25" y2="427.00" stroke="rgba(90,80,60,0.45)" stroke-width="0.6"/>
<circle cx="84.00" cy="383.60" r="0.45" fill="#666"/>
<line x1="90.90" y1="412.40" x2="90.90" y2="426.40" stroke="#bdbdbd" stroke-width="0.7"/>
<line x1="89.10" y1="412.40" x2="92.70" y2="412.40" stroke="#bdbdbd" stroke-width="0.6"/>
<line x1="90.90" y1="443.80" x2="90.90" y2="454.70" stroke="#bdbdbd" stroke-width="0.7"/>
<line x1="89.10" y1="454.70" x2="92.70" y2="454.70" stroke="#bdbdbd" stroke-width="0.6"/>
<rect x="87.55" y="426.40" width="6.70" height="17.40" fill="#17A095" stroke="rgba(90,80,60,0.35)" stroke-width="0.5"/>
<line x1="87.55" y1="442.90" x2="94.25" y2="442.90" stroke="rgba(90,80,60,0.45)" stroke-width="0.6"/>
<line x1="106.50" y1="429.50" x2="106.50" y2="436.90" stroke="#bdbdbd" stroke-width="0.7"/>
<line x1="104.70" y1="429.50" x2="108.30" y2="429.50" stroke="#bdbdbd" stroke-width="0.6"/>
<line x1="106.50" y1="452.30" x2="106.50" y2="473.50" stroke="#bdbdbd" stroke-width="0.7"/>
<line x1="104.70" y1="473.50" x2="108.30" y2="473.50" stroke="#bdbdbd" stroke-width="0.6"/>
<rect x="103.15" y="436.90" width="6.70" height="15.40" fill="#EE5C4D" stroke="rgba(90,80,60,0.35)" stroke-width="0.5"/>
<line x1="103.15" y1="439.60" x2="109.85" y2="439.60" stroke="rgba(90,80,60,0.45)" stroke-width="0.6"/>
<line x1="113.50" y1="405.40" x2="113.50" y2="416.50" stroke="#bdbdbd" stroke-width="0.7"/>
<line x1="111.70" y1="405.40" x2="115.30" y2="405.40" stroke="#bdbdbd" stroke-width="0.6"/>
<line x1="113.50" y1="442.40" x2="113.50" y2="459.40" stroke="#bdbdbd" stroke-width="0.7"/>
<line x1="111.70" y1="459.40" x2="115.30" y2="459.40" stroke="#bdbdbd" stroke-width="0.6"/>
<rect x="110.15" y="416.50" width="6.70" height="25.90" fill="#FDAE68" stroke="rgba(90,80,60,0.35)" stroke-width="0.5"/>
<line x1="110.15" y1="422.30" x2="116.85" y2="422.30" stroke="rgba(90,80,60,0.45)" stroke-width="0.6"/>
<line x1="120.50" y1="388.00" x2="120.50" y2="420.80" stroke="#bdbdbd" stroke-width="0.7"/>
<line x1="118.70" y1="388.00" x2="122.30" y2="388.00" stroke="#bdbdbd" stroke-width="0.6"/>
<line x1="120.50" y1="443.50" x2="120.50" y2="469.40" stroke="#bdbdbd" stroke-width="0.7"/>
<line x1="118.70" y1="469.40" x2="122.30" y2="469.40" stroke="#bdbdbd" stroke-width="0.6"/>
<rect x="117.15" y="420.80" width="6.70" height="22.70" fill="#FEF9C0" stroke="rgba(90,80,60,0.35)" stroke-width="0.5"/>
<line x1="117.15" y1="426.40" x2="123.85" y2="426.40" stroke="rgba(90,80,60,0.45)" stroke-width="0.6"/>
<line x1="127.50" y1="388.00" x2="127.50" y2="408.20" stroke="#bdbdbd" stroke-width="0.7"/>
<line x1="125.70" y1="388.00" x2="129.30" y2="388.00" stroke="#bdbdbd" stroke-width="0.6"/>
<line x1="127.50" y1="422.30" x2="127.50" y2="430.80" stroke="#bdbdbd" stroke-width="0.7"/>
<line x1="125.70" y1="430.80" x2="129.30" y2="430.80" stroke="#bdbdbd" stroke-width="0.6"/>
<rect x="124.15" y="408.20" width="6.70" height="14.10" fill="#ABDC9C" stroke="rgba(90,80,60,0.35)" stroke-width="0.5"/>
<line x1="124.15" y1="414.50" x2="130.85" y2="414.50" stroke="rgba(90,80,60,0.45)" stroke-width="0.6"/>
<line x1="134.50" y1="398.00" x2="134.50" y2="421.20" stroke="#bdbdbd" stroke-width="0.7"/>
<line x1="132.70" y1="398.00" x2="136.30" y2="398.00" stroke="#bdbdbd" stroke-width="0.6"/>
<line x1="134.50" y1="436.60" x2="134.50" y2="450.70" stroke="#bdbdbd" stroke-width="0.7"/>
<line x1="132.70" y1="450.70" x2="136.30" y2="450.70" stroke="#bdbdbd" stroke-width="0.6"/>
<rect x="131.15" y="421.20" width="6.70" height="15.40" fill="#17A095" stroke="rgba(90,80,60,0.35)" stroke-width="0.5"/>
<line x1="131.15" y1="426.10" x2="137.85" y2="426.10" stroke="rgba(90,80,60,0.45)" stroke-width="0.6"/>
<circle cx="134.40" cy="469.40" r="0.45" fill="#666"/>
<line x1="150.00" y1="419.50" x2="150.00" y2="425.30" stroke="#bdbdbd" stroke-width="0.7"/>
<line x1="148.20" y1="419.50" x2="151.80" y2="419.50" stroke="#bdbdbd" stroke-width="0.6"/>
<line x1="150.00" y1="468.00" x2="150.00" y2="471.00" stroke="#bdbdbd" stroke-width="0.7"/>
<line x1="148.20" y1="471.00" x2="151.80" y2="471.00" stroke="#bdbdbd" stroke-width="0.6"/>
<rect x="146.65" y="425.30" width="6.70" height="42.70" fill="#EE5C4D" stroke="rgba(90,80,60,0.35)" stroke-width="0.5"/>
<line x1="146.65" y1="449.30" x2="153.35" y2="449.30" stroke="rgba(90,80,60,0.45)" stroke-width="0.6"/>
<line x1="157.00" y1="419.50" x2="157.00" y2="426.60" stroke="#bdbdbd" stroke-width="0.7"/>
<line x1="155.20" y1="419.50" x2="158.80" y2="419.50" stroke="#bdbdbd" stroke-width="0.6"/>
<rect x="153.65" y="426.60" width="6.70" height="8.30" fill="#FDAE68" stroke="rgba(90,80,60,0.35)" stroke-width="0.5"/>
<line x1="153.65" y1="431.60" x2="160.35" y2="431.60" stroke="rgba(90,80,60,0.45)" stroke-width="0.6"/>
<circle cx="157.10" cy="460.60" r="0.45" fill="#666"/>
<line x1="164.00" y1="383.60" x2="164.00" y2="408.20" stroke="#bdbdbd" stroke-width="0.7"/>
<line x1="162.20" y1="383.60" x2="165.80" y2="383.60" stroke="#bdbdbd" stroke-width="0.6"/>
<line x1="164.00" y1="436.60" x2="164.00" y2="452.30" stroke="#bdbdbd" stroke-width="0.7"/>
<line x1="162.20" y1="452.30" x2="165.80" y2="452.30" stroke="#bdbdbd" stroke-width="0.6"/>
<rect x="160.65" y="408.20" width="6.70" height="28.40" fill="#FEF9C0" stroke="rgba(90,80,60,0.35)" stroke-width="0.5"/>
<line x1="160.65" y1="425.60" x2="167.35" y2="425.60" stroke="rgba(90,80,60,0.45)" stroke-width="0.6"/>
<line x1="171.00" y1="402.40" x2="171.00" y2="406.60" stroke="#bdbdbd" stroke-width="0.7"/>
<line x1="169.20" y1="402.40" x2="172.80" y2="402.40" stroke="#bdbdbd" stroke-width="0.6"/>
<line x1="171.00" y1="420.70" x2="171.00" y2="436.60" stroke="#bdbdbd" stroke-width="0.7"/>
<line x1="169.20" y1="436.60" x2="172.80" y2="436.60" stroke="#bdbdbd" stroke-width="0.6"/>
<rect x="167.65" y="406.60" width="6.70" height="14.10" fill="#ABDC9C" stroke="rgba(90,80,60,0.35)" stroke-width="0.5"/>
<line x1="167.65" y1="411.20" x2="174.35" y2="411.20" stroke="rgba(90,80,60,0.45)" stroke-width="0.6"/>
<circle cx="171.20" cy="450.70" r="0.45" fill="#666"/>
<circle cx="171.20" cy="372.30" r="0.45" fill="#666"/>
<line x1="178.00" y1="398.00" x2="178.00" y2="415.00" stroke="#bdbdbd" stroke-width="0.7"/>
<line x1="176.20" y1="398.00" x2="179.80" y2="398.00" stroke="#bdbdbd" stroke-width="0.6"/>
<line x1="178.00" y1="437.70" x2="178.00" y2="450.70" stroke="#bdbdbd" stroke-width="0.7"/>
<line x1="176.20" y1="450.70" x2="179.80" y2="450.70" stroke="#bdbdbd" stroke-width="0.6"/>
<rect x="174.65" y="415.00" width="6.70" height="22.70" fill="#17A095" stroke="rgba(90,80,60,0.35)" stroke-width="0.5"/>
<line x1="174.65" y1="432.50" x2="181.35" y2="432.50" stroke="rgba(90,80,60,0.45)" stroke-width="0.6"/>
<line x1="193.40" y1="412.40" x2="193.40" y2="419.50" stroke="#bdbdbd" stroke-width="0.7"/>
<line x1="191.60" y1="412.40" x2="195.20" y2="412.40" stroke="#bdbdbd" stroke-width="0.6"/>
<rect x="190.05" y="419.50" width="6.70" height="13.80" fill="#EE5C4D" stroke="rgba(90,80,60,0.35)" stroke-width="0.5"/>
<line x1="190.05" y1="427.00" x2="196.75" y2="427.00" stroke="rgba(90,80,60,0.45)" stroke-width="0.6"/>
<circle cx="193.30" cy="471.00" r="0.45" fill="#666"/>
<line x1="200.40" y1="425.30" x2="200.40" y2="426.60" stroke="#bdbdbd" stroke-width="0.7"/>
<line x1="198.60" y1="425.30" x2="202.20" y2="425.30" stroke="#bdbdbd" stroke-width="0.6"/>
<line x1="200.40" y1="437.40" x2="200.40" y2="445.20" stroke="#bdbdbd" stroke-width="0.7"/>
<line x1="198.60" y1="445.20" x2="202.20" y2="445.20" stroke="#bdbdbd" stroke-width="0.6"/>
<rect x="197.05" y="426.60" width="6.70" height="10.80" fill="#FDAE68" stroke="rgba(90,80,60,0.35)" stroke-width="0.5"/>
<line x1="197.05" y1="430.80" x2="203.75" y2="430.80" stroke="rgba(90,80,60,0.45)" stroke-width="0.6"/>
<circle cx="200.40" cy="406.80" r="0.45" fill="#666"/>
<line x1="207.40" y1="401.00" x2="207.40" y2="415.40" stroke="#bdbdbd" stroke-width="0.7"/>
<line x1="205.60" y1="401.00" x2="209.20" y2="401.00" stroke="#bdbdbd" stroke-width="0.6"/>
<line x1="207.40" y1="427.80" x2="207.40" y2="439.40" stroke="#bdbdbd" stroke-width="0.7"/>
<line x1="205.60" y1="439.40" x2="209.20" y2="439.40" stroke="#bdbdbd" stroke-width="0.6"/>
<rect x="204.05" y="415.40" width="6.70" height="12.40" fill="#FEF9C0" stroke="rgba(90,80,60,0.35)" stroke-width="0.5"/>
<line x1="204.05" y1="419.50" x2="210.75" y2="419.50" stroke="rgba(90,80,60,0.45)" stroke-width="0.6"/>
<circle cx="207.40" cy="380.60" r="0.45" fill="#666"/>
<line x1="214.40" y1="396.30" x2="214.40" y2="404.10" stroke="#bdbdbd" stroke-width="0.7"/>
<line x1="212.60" y1="396.30" x2="216.20" y2="396.30" stroke="#bdbdbd" stroke-width="0.6"/>
<line x1="214.40" y1="416.50" x2="214.40" y2="428.60" stroke="#bdbdbd" stroke-width="0.7"/>
<line x1="212.60" y1="428.60" x2="216.20" y2="428.60" stroke="#bdbdbd" stroke-width="0.6"/>
<rect x="211.05" y="404.10" width="6.70" height="12.40" fill="#ABDC9C" stroke="rgba(90,80,60,0.35)" stroke-width="0.5"/>
<line x1="211.05" y1="412.90" x2="217.75" y2="412.90" stroke="rgba(90,80,60,0.45)" stroke-width="0.6"/>
<line x1="221.40" y1="388.40" x2="221.40" y2="416.20" stroke="#bdbdbd" stroke-width="0.7"/>
<line x1="219.60" y1="388.40" x2="223.20" y2="388.40" stroke="#bdbdbd" stroke-width="0.6"/>
<line x1="221.40" y1="436.30" x2="221.40" y2="440.70" stroke="#bdbdbd" stroke-width="0.7"/>
<line x1="219.60" y1="440.70" x2="223.20" y2="440.70" stroke="#bdbdbd" stroke-width="0.6"/>
<rect x="218.05" y="416.20" width="6.70" height="20.10" fill="#17A095" stroke="rgba(90,80,60,0.35)" stroke-width="0.5"/>
<line x1="218.05" y1="430.00" x2="224.75" y2="430.00" stroke="rgba(90,80,60,0.45)" stroke-width="0.6"/>
<line x1="236.80" y1="416.50" x2="236.80" y2="424.00" stroke="#bdbdbd" stroke-width="0.7"/>
<line x1="235.00" y1="416.50" x2="238.60" y2="416.50" stroke="#bdbdbd" stroke-width="0.6"/>
<line x1="236.80" y1="458.10" x2="236.80" y2="481.00" stroke="#bdbdbd" stroke-width="0.7"/>
<line x1="235.00" y1="481.00" x2="238.60" y2="481.00" stroke="#bdbdbd" stroke-width="0.6"/>
<rect x="233.45" y="424.00" width="6.70" height="34.10" fill="#EE5C4D" stroke="rgba(90,80,60,0.35)" stroke-width="0.5"/>
<line x1="233.45" y1="425.80" x2="240.15" y2="425.80" stroke="rgba(90,80,60,0.45)" stroke-width="0.6"/>
<line x1="243.80" y1="431.00" x2="243.80" y2="433.30" stroke="#bdbdbd" stroke-width="0.7"/>
<line x1="242.00" y1="431.00" x2="245.60" y2="431.00" stroke="#bdbdbd" stroke-width="0.6"/>
<line x1="243.80" y1="439.60" x2="243.80" y2="442.00" stroke="#bdbdbd" stroke-width="0.7"/>
<line x1="242.00" y1="442.00" x2="245.60" y2="442.00" stroke="#bdbdbd" stroke-width="0.6"/>
<rect x="240.45" y="433.30" width="6.70" height="6.30" fill="#FDAE68" stroke="rgba(90,80,60,0.35)" stroke-width="0.5"/>
<line x1="240.45" y1="435.80" x2="247.15" y2="435.80" stroke="rgba(90,80,60,0.45)" stroke-width="0.6"/>
<circle cx="243.80" cy="422.00" r="0.45" fill="#666"/>
<circle cx="243.80" cy="450.70" r="0.45" fill="#666"/>
<line x1="250.80" y1="398.30" x2="250.80" y2="401.00" stroke="#bdbdbd" stroke-width="0.7"/>
<line x1="249.00" y1="398.30" x2="252.60" y2="398.30" stroke="#bdbdbd" stroke-width="0.6"/>
<line x1="250.80" y1="439.60" x2="250.80" y2="453.50" stroke="#bdbdbd" stroke-width="0.7"/>
<line x1="249.00" y1="453.50" x2="252.60" y2="453.50" stroke="#bdbdbd" stroke-width="0.6"/>
<rect x="247.45" y="401.00" width="6.70" height="38.60" fill="#FEF9C0" stroke="rgba(90,80,60,0.35)" stroke-width="0.5"/>
<line x1="247.45" y1="419.50" x2="254.15" y2="419.50" stroke="rgba(90,80,60,0.45)" stroke-width="0.6"/>
<line x1="257.80" y1="380.60" x2="257.80" y2="402.60" stroke="#bdbdbd" stroke-width="0.7"/>
<line x1="256.00" y1="380.60" x2="259.60" y2="380.60" stroke="#bdbdbd" stroke-width="0.6"/>
<line x1="257.80" y1="424.50" x2="257.80" y2="432.00" stroke="#bdbdbd" stroke-width="0.7"/>
<line x1="256.00" y1="432.00" x2="259.60" y2="432.00" stroke="#bdbdbd" stroke-width="0.6"/>
<rect x="254.45" y="402.60" width="6.70" height="21.90" fill="#ABDC9C" stroke="rgba(90,80,60,0.35)" stroke-width="0.5"/>
<line x1="254.45" y1="417.40" x2="261.15" y2="417.40" stroke="rgba(90,80,60,0.45)" stroke-width="0.6"/>
<line x1="264.80" y1="390.90" x2="264.80" y2="407.60" stroke="#bdbdbd" stroke-width="0.7"/>
<line x1="263.00" y1="390.90" x2="266.60" y2="390.90" stroke="#bdbdbd" stroke-width="0.6"/>
<line x1="264.80" y1="434.10" x2="264.80" y2="442.00" stroke="#bdbdbd" stroke-width="0.7"/>
<line x1="263.00" y1="442.00" x2="266.60" y2="442.00" stroke="#bdbdbd" stroke-width="0.6"/>
<rect x="261.45" y="407.60" width="6.70" height="26.50" fill="#17A095" stroke="rgba(90,80,60,0.35)" stroke-width="0.5"/>
<line x1="261.45" y1="427.40" x2="268.15" y2="427.40" stroke="rgba(90,80,60,0.45)" stroke-width="0.6"/>
<line x1="62.90" y1="367.30" x2="83.90" y2="367.30" stroke="#a8a8a8" stroke-width="0.6"/>
<text x="73.40" y="366.30" font-size="4.6" text-anchor="middle" font-weight="bold" fill="#333" stroke="#333" stroke-width="0.12" >*</text>
<line x1="69.90" y1="374.20" x2="83.90" y2="374.20" stroke="#a8a8a8" stroke-width="0.6"/>
<text x="76.90" y="373.20" font-size="4.6" text-anchor="middle" font-weight="bold" fill="#333" stroke="#333" stroke-width="0.12" >*</text>
<line x1="106.50" y1="371.50" x2="127.50" y2="371.50" stroke="#a8a8a8" stroke-width="0.6"/>
<text x="117.00" y="370.50" font-size="4.6" text-anchor="middle" font-weight="bold" fill="#333" stroke="#333" stroke-width="0.12" >**</text>
<line x1="127.50" y1="379.40" x2="134.50" y2="379.40" stroke="#a8a8a8" stroke-width="0.6"/>
<text x="131.00" y="378.40" font-size="4.6" text-anchor="middle" font-weight="bold" fill="#333" stroke="#333" stroke-width="0.12" >*</text>
<line x1="150.00" y1="355.80" x2="171.00" y2="355.80" stroke="#a8a8a8" stroke-width="0.6"/>
<text x="160.50" y="354.80" font-size="4.6" text-anchor="middle" font-weight="bold" fill="#333" stroke="#333" stroke-width="0.12" >*</text>
<line x1="157.00" y1="363.20" x2="171.00" y2="363.20" stroke="#a8a8a8" stroke-width="0.6"/>
<text x="164.00" y="362.20" font-size="4.6" text-anchor="middle" font-weight="bold" fill="#333" stroke="#333" stroke-width="0.12" >*</text>
<line x1="193.40" y1="364.40" x2="214.40" y2="364.40" stroke="#a8a8a8" stroke-width="0.6"/>
<text x="203.90" y="363.40" font-size="4.6" text-anchor="middle" font-weight="bold" fill="#333" stroke="#333" stroke-width="0.12" >*</text>
<line x1="200.40" y1="371.50" x2="214.40" y2="371.50" stroke="#a8a8a8" stroke-width="0.6"/>
<text x="207.40" y="370.50" font-size="4.6" text-anchor="middle" font-weight="bold" fill="#333" stroke="#333" stroke-width="0.12" >**</text>
<line x1="214.40" y1="379.40" x2="221.40" y2="379.40" stroke="#a8a8a8" stroke-width="0.6"/>
<text x="217.90" y="378.40" font-size="4.6" text-anchor="middle" font-weight="bold" fill="#333" stroke="#333" stroke-width="0.12" >*</text>
<line x1="243.80" y1="372.00" x2="257.80" y2="372.00" stroke="#a8a8a8" stroke-width="0.6"/>
<text x="250.80" y="371.00" font-size="4.6" text-anchor="middle" font-weight="bold" fill="#333" stroke="#333" stroke-width="0.12" >***</text>
<rect x="184.80" y="488.20" width="8.6" height="2.8" fill="#EE5C4D"/>
<text x="197.00" y="491.10" font-size="4.3" text-anchor="start" font-weight="bold" fill="#111" stroke="#111" stroke-width="0.12" >2020_S2</text>
<rect x="184.80" y="494.10" width="8.6" height="2.8" fill="#FDAE68"/>
<text x="197.00" y="497.00" font-size="4.3" text-anchor="start" font-weight="bold" fill="#111" stroke="#111" stroke-width="0.12" >2021_S3</text>
<rect x="220.60" y="488.20" width="8.6" height="2.8" fill="#FEF9C0"/>
<text x="232.80" y="491.10" font-size="4.3" text-anchor="start" font-weight="bold" fill="#111" stroke="#111" stroke-width="0.12" >2021_S4</text>
<rect x="220.60" y="494.10" width="8.6" height="2.8" fill="#ABDC9C"/>
<text x="232.80" y="497.00" font-size="4.3" text-anchor="start" font-weight="bold" fill="#111" stroke="#111" stroke-width="0.12" >2022_S1</text>
<rect x="255.80" y="488.20" width="8.6" height="2.8" fill="#17A095"/>
<text x="268.00" y="491.10" font-size="4.3" text-anchor="start" font-weight="bold" fill="#111" stroke="#111" stroke-width="0.12" >2022_S2</text>
<text x="5.00" y="13.00" font-size="11" text-anchor="start" font-weight="bold" fill="#000" >A</text>
<text x="279.60" y="12.90" font-size="11" text-anchor="start" font-weight="bold" fill="#000" >B</text>
<text x="5.00" y="184.40" font-size="11" text-anchor="start" font-weight="bold" fill="#000" >C</text>
<text x="279.60" y="184.30" font-size="11" text-anchor="start" font-weight="bold" fill="#000" >D</text>
<text x="5.50" y="351.10" font-size="11" text-anchor="start" font-weight="bold" fill="#000" >E</text>
<text x="279.60" y="350.90" font-size="11" text-anchor="start" font-weight="bold" fill="#000" >F</text>
</svg></body></html>
